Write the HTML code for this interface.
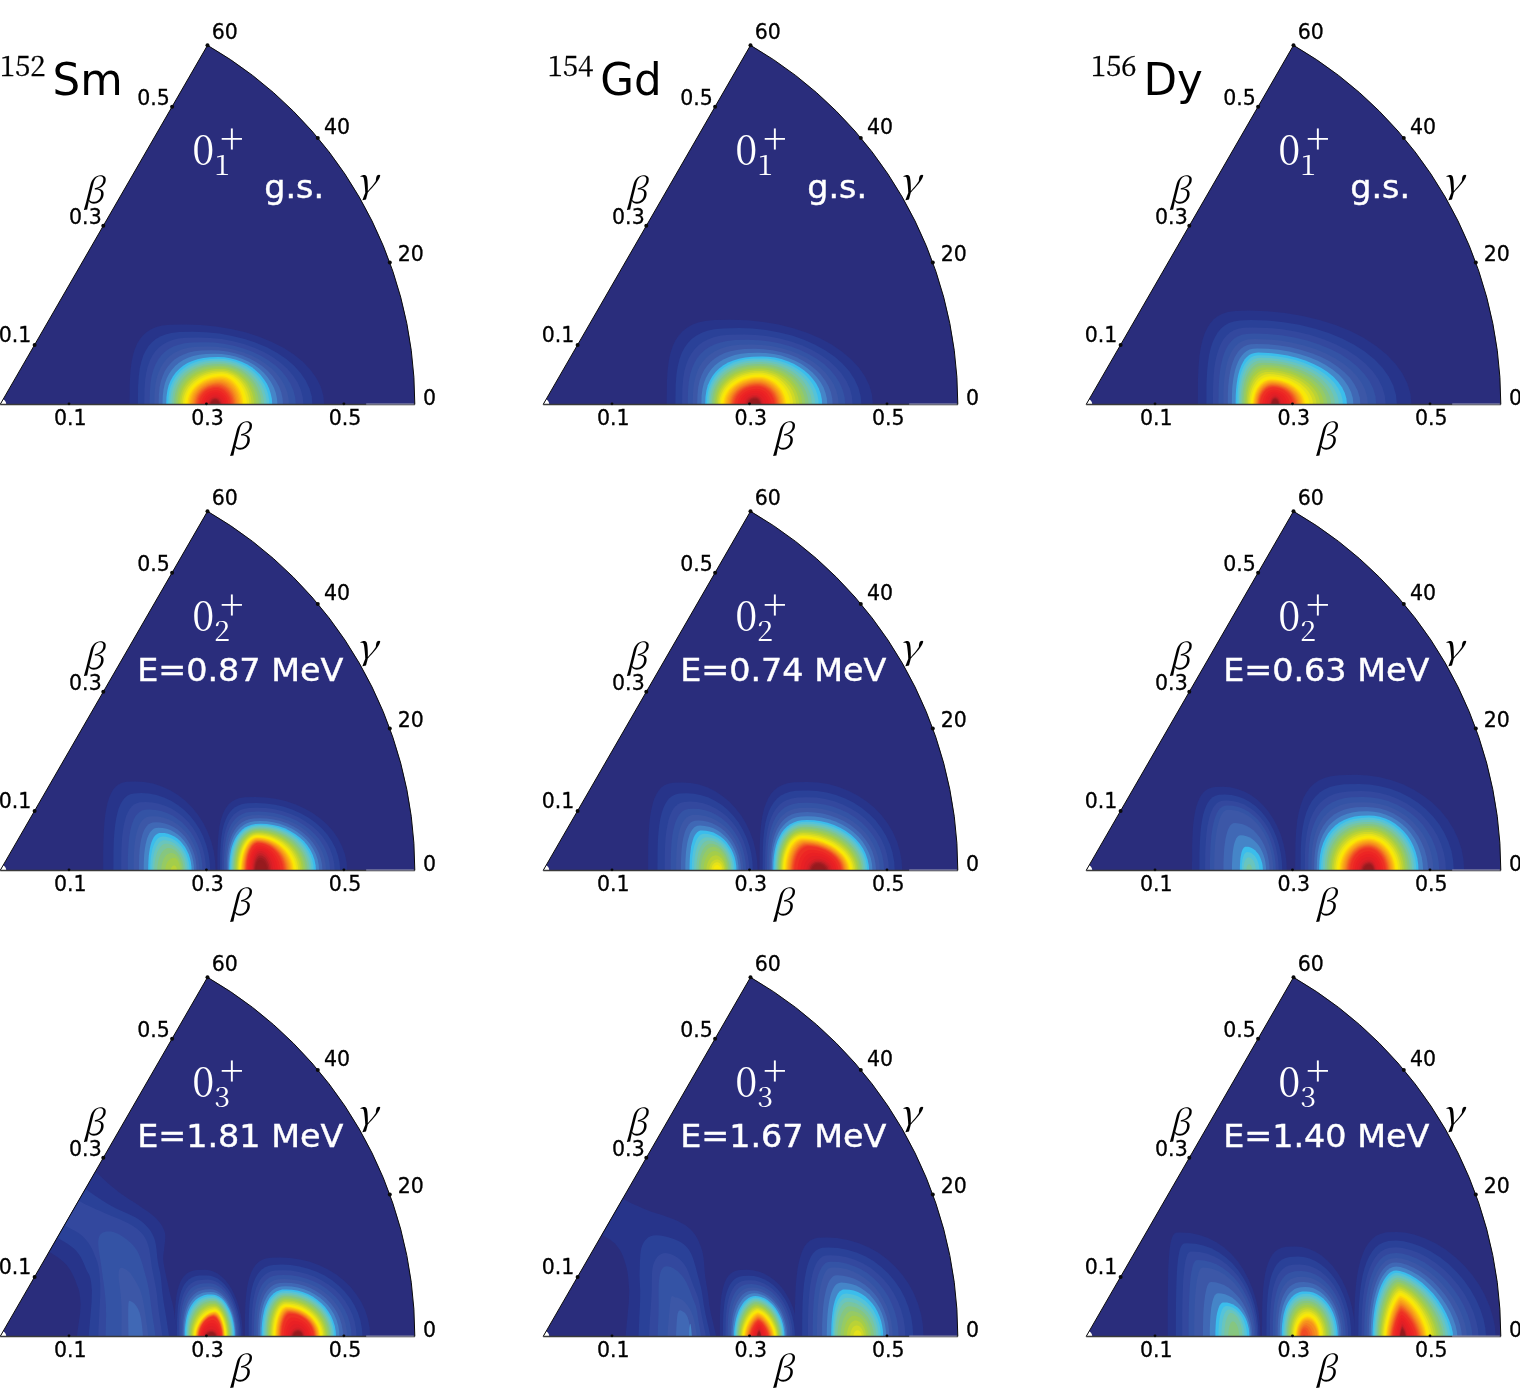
<!DOCTYPE html>
<html lang="en"><head><meta charset="utf-8"><title>Probability densities</title>
<style>
html,body{margin:0;padding:0;background:#fff}
svg{display:block}
.t{font-family:"DejaVu Sans","Liberation Sans",sans-serif;font-size:20.5px;fill:#000;stroke:#000;stroke-width:0.3px}
.n{font-family:"DejaVu Sans","Liberation Sans",sans-serif;font-size:43.6px;fill:#000}
.e{font-family:"DejaVu Sans","Liberation Sans",sans-serif;font-size:31.2px;stroke:#fff;stroke-width:0.4px}
.a{font-family:"Noto Serif CJK SC","Liberation Serif",serif;font-size:27.8px;fill:#000;stroke:#000;stroke-width:0.3px}
.m{font-family:"Noto Serif CJK SC","Liberation Serif",serif;font-style:italic;font-size:34.5px;fill:#000}
.s{font-family:"Noto Serif CJK SC","Liberation Serif",serif;font-size:40px}
.ss{font-family:"Noto Serif CJK SC","Liberation Serif",serif;font-size:28.6px}
.sp{font-family:"Noto Serif CJK SC","Liberation Serif",serif;font-size:40px}
.w{fill:#fff}
</style></head><body>
<svg width="1520" height="1388" viewBox="0 0 1520 1388">
<rect width="1520" height="1388" fill="#fff"/>
<g>
<clipPath id="c0"><path d="M0.2 404.4L414.8 404.4A414.6 414.6 0 0 0 207.5 45.3Z"/></clipPath>
<path d="M0.2 404.4L414.8 404.4A414.6 414.6 0 0 0 207.5 45.3Z" fill="#2a2d7c"/>
<g clip-path="url(#c0)">
<path d="M129.6 407.4L129.6 404.4L129.8 382.3L130.4 371.3L131.5 362.7L132.9 355.4L134.8 349.2L137.1 343.8L139.9 339.2L143.1 335.2L146.8 331.9L151.2 329.2L156.2 327.1L162.2 325.6L169.9 324.7L185.2 324.4L200.8 324.9L216.1 326.4L231.1 328.9L245.5 332.3L259.2 336.7L271.9 341.9L283.5 347.8L293.9 354.5L302.9 361.8L310.4 369.7L316.4 378L320.7 386.6L323.3 395.4L324.2 404.4L324.2 407.4Z" fill="#27348a"/>
<path d="M137.9 407.4L137.9 404.4L138.1 386.1L138.8 376.2L139.8 368.3L141.4 361.5L143.3 355.6L145.8 350.5L148.6 346L152 342.2L155.9 339L160.3 336.4L165.4 334.4L171.4 332.9L178.9 332.1L192.7 331.8L206.1 332.2L219.3 333.6L232.2 335.9L244.6 339L256.4 342.9L267.3 347.6L277.3 353.1L286.3 359.1L294.1 365.8L300.6 372.9L305.7 380.4L309.4 388.2L311.7 396.3L312.4 404.4L312.4 407.4Z" fill="#2a4198"/>
<path d="M144.3 407.4L144.3 404.4L144.5 388.9L145.2 379.8L146.3 372.4L147.9 366L149.9 360.4L152.5 355.5L155.4 351.3L158.9 347.6L162.9 344.5L167.4 341.9L172.5 340L178.5 338.6L185.8 337.7L198.4 337.5L210.2 337.9L221.8 339.1L233.1 341.2L244 344.1L254.3 347.7L263.9 352.1L272.6 357.1L280.5 362.7L287.3 368.8L293 375.4L297.5 382.3L300.7 389.5L302.7 396.9L303.4 404.4L303.4 407.4Z" fill="#33489e"/>
<path d="M149.6 407.4L149.6 404.4L149.9 391L150.6 382.7L151.7 375.8L153.4 369.8L155.5 364.5L158.1 359.8L161.2 355.6L164.7 352.1L168.8 349.1L173.4 346.6L178.6 344.7L184.5 343.3L191.7 342.5L203.2 342.2L213.6 342.6L223.8 343.8L233.8 345.7L243.4 348.4L252.5 351.8L260.9 355.8L268.7 360.4L275.6 365.6L281.6 371.3L286.6 377.4L290.6 383.9L293.4 390.6L295.2 397.4L295.8 404.4L295.8 407.4Z" fill="#3453a5"/>
<path d="M154.3 407.4L154.3 404.4L154.6 392.8L155.3 385.2L156.5 378.7L158.3 373L160.5 367.9L163.1 363.4L166.3 359.5L169.9 356L174.1 353.1L178.7 350.7L183.9 348.8L189.9 347.5L196.9 346.7L207.5 346.4L216.6 346.8L225.7 347.9L234.4 349.7L242.9 352.2L250.9 355.3L258.3 359.1L265.2 363.4L271.3 368.3L276.5 373.6L281 379.3L284.5 385.3L287 391.5L288.5 397.9L289 404.4L289 407.4Z" fill="#3c57a7"/>
<path d="M158.6 407.4L158.6 404.4L158.9 394.3L159.6 387.3L160.9 381.2L162.7 375.9L164.9 371L167.7 366.7L170.9 362.9L174.6 359.6L178.9 356.7L183.6 354.4L188.8 352.6L194.7 351.3L201.5 350.5L211.4 350.2L219.4 350.6L227.3 351.6L235 353.3L242.4 355.6L249.5 358.5L256 362.1L262 366.1L267.4 370.6L272 375.6L275.9 380.9L279 386.5L281.2 392.3L282.5 398.3L283 404.4L283 407.4Z" fill="#4068b5"/>
<path d="M162.5 407.4L162.5 404.4L162.8 395.6L163.6 389.2L164.9 383.5L166.7 378.4L169.1 373.8L171.9 369.7L175.2 366L179 362.8L183.3 360.1L188.1 357.8L193.3 356L199.2 354.8L205.8 354L214.9 353.7L221.9 354.1L228.8 355L235.5 356.6L242 358.8L248.2 361.5L253.9 364.8L259.1 368.6L263.8 372.8L267.8 377.4L271.2 382.4L273.9 387.7L275.8 393.1L277 398.7L277.4 404.4L277.4 407.4Z" fill="#4585c8"/>
<path d="M166.2 407.4L166.2 404.4L166.5 396.8L167.3 390.9L168.6 385.6L170.5 380.8L172.9 376.4L175.8 372.4L179.2 368.9L183.1 365.8L187.5 363.1L192.3 360.9L197.5 359.2L203.3 358L209.8 357.2L218.2 357L224.2 357.3L230.2 358.2L236 359.7L241.6 361.7L246.9 364.3L251.9 367.3L256.4 370.9L260.4 374.8L263.9 379.2L266.9 383.8L269.2 388.7L270.8 393.9L271.9 399.1L272.2 404.4L272.2 407.4Z" fill="#3bbdec"/>
<path d="M168.2 407.4L168.2 404.4L168.5 397.3L169.3 391.6L170.6 386.6L172.5 381.9L174.8 377.7L177.7 373.9L181 370.4L184.8 367.4L189.1 364.8L193.8 362.7L198.9 361L204.5 359.8L210.7 359.1L218.6 358.8L224.2 359.1L229.8 360L235.3 361.4L240.6 363.4L245.6 365.8L250.2 368.8L254.5 372.2L258.3 376L261.6 380.2L264.4 384.7L266.6 389.4L268.1 394.3L269.1 399.4L269.4 404.4L269.4 407.4Z" fill="#55c3d9"/>
<path d="M170.2 407.4L170.2 404.4L170.4 397.8L171.2 392.4L172.6 387.5L174.4 383.1L176.7 379L179.5 375.2L182.8 371.9L186.5 369L190.7 366.4L195.2 364.4L200.2 362.7L205.6 361.5L211.6 360.8L219 360.6L224.2 360.9L229.5 361.7L234.6 363.1L239.5 365L244.2 367.4L248.6 370.2L252.6 373.5L256.2 377.2L259.3 381.2L261.9 385.5L264 390.1L265.5 394.8L266.4 399.6L266.7 404.4L266.7 407.4Z" fill="#69c5be"/>
<path d="M172.1 407.4L172.1 404.4L172.4 398.2L173.1 393.1L174.4 388.5L176.2 384.2L178.5 380.2L181.3 376.6L184.5 373.3L188.1 370.5L192.2 368L196.6 366L201.5 364.4L206.7 363.2L212.4 362.5L219.4 362.3L224.2 362.6L229.1 363.4L233.9 364.7L238.5 366.5L242.9 368.9L247.1 371.6L250.8 374.8L254.2 378.3L257.1 382.2L259.6 386.4L261.5 390.7L262.9 395.2L263.8 399.8L264.1 404.4L264.1 407.4Z" fill="#79c5a0"/>
<path d="M174 407.4L174 404.4L174.2 398.7L175 393.8L176.3 389.4L178.1 385.2L180.3 381.4L183 377.9L186.2 374.7L189.7 372L193.7 369.6L198 367.6L202.7 366L207.8 364.9L213.3 364.2L219.8 364L224.2 364.3L228.8 365L233.2 366.3L237.6 368.1L241.7 370.3L245.5 373L249.1 376L252.2 379.5L255 383.2L257.3 387.2L259.1 391.4L260.4 395.7L261.2 400.1L261.5 404.4L261.5 407.4Z" fill="#86c680"/>
<path d="M175.8 407.4L175.8 404.4L176.1 399.1L176.8 394.5L178.1 390.2L179.8 386.2L182 382.5L184.7 379.2L187.8 376.1L191.3 373.4L195.1 371.1L199.3 369.2L203.9 367.6L208.8 366.6L214 365.9L220.1 365.7L224.2 365.9L228.5 366.7L232.6 367.9L236.6 369.6L240.5 371.7L244.1 374.3L247.3 377.2L250.3 380.5L252.9 384.1L255 387.9L256.7 392L258 396.1L258.7 400.3L259 404.4L259 407.4Z" fill="#95ca65"/>
<path d="M177.6 407.4L177.6 404.4L177.9 399.5L178.6 395.1L179.9 391L181.6 387.2L183.7 383.7L186.3 380.4L189.4 377.4L192.8 374.8L196.5 372.6L200.6 370.7L205 369.2L209.8 368.2L214.8 367.5L220.5 367.3L224.3 367.5L228.1 368.3L232 369.4L235.7 371.1L239.3 373.1L242.6 375.6L245.7 378.4L248.4 381.6L250.8 385L252.8 388.7L254.4 392.5L255.5 396.5L256.2 400.5L256.5 404.4L256.5 407.4Z" fill="#a4cd4a"/>
<path d="M179.4 407.4L179.4 404.4L179.7 399.8L180.4 395.7L181.6 391.8L183.3 388.2L185.4 384.7L187.9 381.6L190.9 378.7L194.2 376.2L197.9 374L201.9 372.2L206.2 370.8L210.7 369.7L215.5 369.1L220.8 368.9L224.3 369.1L227.9 369.8L231.4 371L234.8 372.5L238.1 374.5L241.2 376.9L244 379.6L246.6 382.6L248.8 385.9L250.6 389.4L252.1 393.1L253.2 396.9L253.8 400.7L254 404.4L254 407.4Z" fill="#b9d237"/>
<path d="M181.2 407.4L181.2 404.4L181.4 400.2L182.1 396.3L183.3 392.6L184.9 389.1L187 385.8L189.5 382.8L192.4 380L195.7 377.6L199.2 375.4L203.1 373.7L207.2 372.3L211.6 371.3L216.2 370.7L221.2 370.5L224.3 370.7L227.6 371.3L230.8 372.4L234 373.9L237 375.8L239.8 378.1L242.4 380.7L244.8 383.6L246.8 386.8L248.5 390.1L249.9 393.7L250.8 397.3L251.4 400.9L251.6 404.4L251.6 407.4Z" fill="#cfd927"/>
<path d="M182.9 407.4L182.9 404.4L183.1 400.5L183.8 396.8L185 393.3L186.6 390L188.6 386.8L191.1 383.9L193.9 381.2L197.1 378.9L200.5 376.8L204.3 375.1L208.3 373.8L212.5 372.8L216.9 372.2L221.5 372L224.4 372.2L227.3 372.8L230.3 373.9L233.1 375.3L235.9 377.2L238.5 379.3L240.9 381.8L243 384.6L244.9 387.6L246.4 390.8L247.7 394.2L248.6 397.6L249.1 401.1L249.3 404.4L249.3 407.4Z" fill="#e6e21a"/>
<path d="M184.5 407.4L184.5 404.4L184.8 400.8L185.5 397.4L186.6 394L188.2 390.8L190.2 387.8L192.6 385L195.3 382.4L198.4 380.2L201.8 378.2L205.5 376.5L209.3 375.2L213.4 374.3L217.5 373.7L221.9 373.5L224.4 373.7L227.1 374.3L229.7 375.3L232.3 376.7L234.8 378.5L237.2 380.5L239.3 382.9L241.3 385.6L243 388.5L244.4 391.5L245.5 394.7L246.3 398L246.8 401.3L247 404.4L247 407.4Z" fill="#f6e909"/>
<path d="M186.2 407.4L186.2 404.4L186.4 401.1L187.1 397.9L188.2 394.7L189.8 391.6L191.7 388.8L194.1 386.1L196.7 383.6L199.8 381.4L203 379.5L206.6 377.9L210.3 376.6L214.2 375.7L218.2 375.2L222.2 375L224.4 375.2L226.8 375.8L229.2 376.7L231.5 378.1L233.8 379.7L235.9 381.7L237.8 384L239.6 386.5L241.1 389.3L242.4 392.2L243.4 395.2L244.1 398.4L244.6 401.5L244.7 404.4L244.7 407.4Z" fill="#fee403"/>
<path d="M187.5 407.4L187.5 404.4L187.7 401.3L188.3 398.1L189.4 395.1L190.9 392.2L192.7 389.4L194.9 386.9L197.5 384.5L200.3 382.4L203.4 380.6L206.8 379.1L210.3 377.8L214 377L217.8 376.4L221.6 376.3L223.8 376.5L226.1 377L228.4 377.9L230.6 379.2L232.8 380.8L234.8 382.7L236.7 384.9L238.3 387.3L239.8 389.9L241 392.7L242 395.6L242.7 398.6L243.1 401.6L243.3 404.4L243.3 407.4Z" fill="#fcd20a"/>
<path d="M188.7 407.4L188.7 404.4L188.9 401.4L189.5 398.4L190.5 395.5L191.9 392.7L193.7 390.1L195.8 387.6L198.2 385.4L200.9 383.4L203.8 381.6L207 380.2L210.4 379L213.8 378.2L217.4 377.7L221 377.5L223.1 377.7L225.3 378.2L227.5 379.1L229.7 380.3L231.8 381.8L233.7 383.7L235.5 385.7L237.1 388.1L238.5 390.6L239.7 393.2L240.7 396L241.3 398.9L241.8 401.7L241.9 404.4L241.9 407.4Z" fill="#fcbf11"/>
<path d="M189.9 407.4L189.9 404.4L190.1 401.5L190.7 398.7L191.7 395.9L193 393.3L194.6 390.8L196.6 388.4L198.9 386.3L201.4 384.3L204.2 382.7L207.2 381.3L210.4 380.2L213.7 379.4L217.1 378.9L220.5 378.7L222.5 378.9L224.6 379.4L226.7 380.3L228.8 381.4L230.8 382.9L232.7 384.6L234.4 386.6L235.9 388.8L237.3 391.2L238.4 393.7L239.3 396.4L240 399.1L240.4 401.8L240.5 404.4L240.5 407.4Z" fill="#faaf16"/>
<path d="M191.2 407.4L191.2 404.4L191.3 401.7L191.9 399L192.8 396.3L194 393.8L195.6 391.4L197.4 389.2L199.6 387.1L202 385.3L204.6 383.7L207.4 382.4L210.4 381.3L213.5 380.6L216.7 380.1L219.9 380L221.8 380.1L223.9 380.6L225.9 381.4L227.9 382.5L229.8 383.9L231.6 385.5L233.3 387.4L234.8 389.5L236.1 391.8L237.2 394.3L238 396.8L238.7 399.4L239 402L239.2 404.4L239.2 407.4Z" fill="#f8a019"/>
<path d="M192.4 407.4L192.4 404.4L192.5 401.8L193 399.2L193.9 396.7L195 394.3L196.5 392L198.2 389.9L200.3 388L202.5 386.2L205 384.7L207.6 383.5L210.4 382.5L213.4 381.7L216.3 381.3L219.4 381.2L221.2 381.3L223.2 381.8L225.1 382.5L227 383.6L228.9 384.9L230.6 386.5L232.2 388.3L233.6 390.3L234.9 392.4L235.9 394.7L236.7 397.2L237.3 399.6L237.7 402.1L237.8 404.4L237.8 407.4Z" fill="#f6911d"/>
<path d="M193.5 407.4L193.5 404.4L193.7 401.9L194.2 399.5L195 397.1L196 394.8L197.4 392.7L199 390.6L200.9 388.8L203.1 387.1L205.4 385.7L207.8 384.5L210.5 383.6L213.2 382.9L216 382.5L218.8 382.3L220.6 382.5L222.5 382.9L224.3 383.6L226.2 384.6L227.9 385.9L229.6 387.4L231.1 389.1L232.5 391L233.7 393L234.7 395.2L235.5 397.5L236.1 399.9L236.4 402.2L236.5 404.4L236.5 407.4Z" fill="#f48020"/>
<path d="M194.7 407.4L194.7 404.4L194.8 402.1L195.3 399.7L196 397.5L197 395.3L198.3 393.3L199.8 391.4L201.6 389.6L203.6 388.1L205.7 386.7L208 385.6L210.5 384.7L213 384L215.6 383.6L218.3 383.5L220 383.6L221.8 384L223.6 384.7L225.3 385.7L227 386.9L228.6 388.3L230 389.9L231.4 391.7L232.5 393.6L233.5 395.7L234.2 397.9L234.8 400.1L235.1 402.3L235.2 404.4L235.2 407.4Z" fill="#f36d22"/>
<path d="M195.8 407.4L195.8 404.4L196 402.2L196.4 400L197.1 397.9L198 395.8L199.2 393.9L200.6 392.1L202.3 390.4L204.1 389L206.1 387.7L208.2 386.6L210.5 385.8L212.9 385.1L215.3 384.8L217.7 384.6L219.4 384.8L221.1 385.2L222.8 385.8L224.5 386.7L226.1 387.8L227.6 389.2L229 390.7L230.2 392.4L231.3 394.2L232.3 396.2L233 398.2L233.5 400.3L233.8 402.4L233.9 404.4L233.9 407.4Z" fill="#f15a24"/>
<path d="M197 407.4L197 404.4L197.1 402.3L197.5 400.3L198.1 398.2L199 396.3L200.1 394.5L201.4 392.8L202.9 391.2L204.6 389.8L206.5 388.6L208.4 387.6L210.5 386.8L212.7 386.2L215 385.9L217.2 385.8L218.8 385.9L220.4 386.3L222 386.9L223.6 387.7L225.2 388.8L226.6 390L228 391.5L229.2 393.1L230.2 394.8L231.1 396.7L231.8 398.6L232.3 400.6L232.6 402.5L232.7 404.4L232.7 407.4Z" fill="#f04b24"/>
<path d="M198.1 407.4L198.1 404.4L198.2 402.4L198.6 400.5L199.1 398.6L199.9 396.8L200.9 395.1L202.2 393.5L203.5 392L205.1 390.7L206.8 389.6L208.6 388.6L210.6 387.9L212.6 387.3L214.6 387L216.7 386.9L218.2 387L219.7 387.4L221.3 387.9L222.8 388.7L224.3 389.7L225.7 390.9L226.9 392.2L228.1 393.8L229.1 395.4L229.9 397.1L230.6 398.9L231 400.8L231.3 402.7L231.4 404.4L231.4 407.4Z" fill="#ef3c24"/>
<path d="M199.2 407.4L199.2 404.4L199.3 402.6L199.6 400.8L200.2 399L200.9 397.3L201.8 395.7L202.9 394.2L204.2 392.8L205.6 391.6L207.2 390.5L208.8 389.6L210.6 388.9L212.4 388.4L214.3 388.1L216.2 388L217.6 388.1L219.1 388.4L220.6 389L222 389.7L223.4 390.6L224.7 391.7L225.9 393L227 394.4L228 396L228.7 397.6L229.4 399.3L229.8 401L230.1 402.8L230.2 404.4L230.2 407.4Z" fill="#ee3024"/>
<path d="M201.4 407.4L201.4 404.4L201.4 402.8L201.7 401.2L202.2 399.7L202.8 398.2L203.6 396.8L204.5 395.5L205.6 394.3L206.9 393.3L208.2 392.3L209.6 391.6L211.1 391L212.7 390.5L214.3 390.2L216 390.2L217.2 390.3L218.5 390.5L219.8 391L221.1 391.6L222.3 392.4L223.5 393.4L224.5 394.5L225.5 395.7L226.3 397.1L227 398.5L227.6 400L228 401.5L228.2 403L228.3 404.4L228.3 407.4Z" fill="#ed2524"/>
<path d="M203.5 407.4L203.5 404.4L203.6 403L203.8 401.7L204.2 400.4L204.7 399.1L205.4 398L206.2 396.8L207.1 395.8L208.1 394.9L209.2 394.1L210.4 393.5L211.7 393L213 392.6L214.4 392.4L215.7 392.3L216.8 392.4L217.9 392.6L219 393L220.2 393.5L221.2 394.2L222.2 395.1L223.1 396L224 397L224.7 398.2L225.3 399.4L225.8 400.6L226.1 401.9L226.3 403.2L226.4 404.4L226.4 407.4Z" fill="#e92024"/>
<path d="M205.6 407.4L205.6 404.4L205.7 403.3L205.8 402.2L206.2 401.1L206.6 400.1L207.1 399.1L207.8 398.2L208.5 397.3L209.3 396.6L210.2 395.9L211.2 395.4L212.2 395L213.3 394.6L214.4 394.5L215.5 394.4L216.4 394.5L217.3 394.7L218.3 395L219.2 395.4L220.1 396L221 396.7L221.8 397.5L222.5 398.3L223.1 399.3L223.6 400.2L224 401.3L224.3 402.3L224.5 403.4L224.5 404.4L224.5 407.4Z" fill="#e21f26"/>
<path d="M207.7 407.4L207.7 404.4L207.7 403.5L207.9 402.6L208.1 401.8L208.4 401L208.8 400.2L209.3 399.5L209.9 398.8L210.5 398.2L211.2 397.7L212 397.3L212.8 396.9L213.6 396.7L214.4 396.5L215.3 396.5L216 396.5L216.8 396.7L217.6 396.9L218.3 397.3L219.1 397.8L219.8 398.3L220.4 398.9L221 399.6L221.5 400.3L221.9 401.1L222.2 401.9L222.5 402.8L222.6 403.6L222.7 404.4L222.7 407.4Z" fill="#d61f26"/>
<path d="M208.8 407.4L208.8 404.4L208.9 403.6L209 402.9L209.2 402.2L209.5 401.5L209.8 400.8L210.2 400.2L210.7 399.6L211.2 399.1L211.8 398.7L212.4 398.3L213.1 398.1L213.8 397.8L214.5 397.7L215.2 397.7L215.8 397.7L216.5 397.9L217.2 398.1L217.8 398.4L218.5 398.8L219.1 399.2L219.6 399.7L220.1 400.3L220.5 400.9L220.9 401.6L221.2 402.3L221.4 403L221.5 403.7L221.6 404.4L221.6 407.4Z" fill="#c52026"/>
<path d="M209.7 407.4L209.7 404.4L209.7 403.7L209.8 403.1L210 402.5L210.2 401.9L210.5 401.3L210.9 400.8L211.3 400.3L211.8 399.8L212.3 399.5L212.8 399.1L213.4 398.9L214 398.7L214.6 398.6L215.2 398.6L215.8 398.6L216.3 398.7L216.9 398.9L217.5 399.2L218 399.5L218.6 399.9L219 400.4L219.5 400.9L219.8 401.4L220.1 402L220.4 402.6L220.6 403.2L220.7 403.8L220.7 404.4L220.7 407.4Z" fill="#ae1e24"/>
<path d="M210.5 407.4L210.5 404.4L210.6 403.8L210.6 403.3L210.8 402.8L211 402.3L211.2 401.8L211.5 401.3L211.9 400.9L212.3 400.5L212.7 400.2L213.2 399.9L213.7 399.7L214.2 399.6L214.7 399.5L215.2 399.5L215.7 399.5L216.2 399.6L216.7 399.7L217.1 400L217.6 400.2L218 400.6L218.4 401L218.8 401.4L219.1 401.9L219.4 402.3L219.6 402.9L219.8 403.4L219.8 403.9L219.9 404.4L219.9 407.4Z" fill="#9d1c20"/>
<path d="M211.3 407.4L211.3 404.4L211.4 403.9L211.4 403.5L211.6 403.1L211.7 402.6L211.9 402.2L212.2 401.9L212.5 401.5L212.8 401.2L213.2 401L213.5 400.7L213.9 400.6L214.3 400.4L214.8 400.4L215.2 400.3L215.6 400.4L216 400.4L216.4 400.6L216.8 400.8L217.2 401L217.5 401.3L217.9 401.6L218.2 401.9L218.4 402.3L218.6 402.7L218.8 403.1L218.9 403.6L219 404L219 404.4L219 407.4Z" fill="#961a1e"/>
<path d="M0.2 404.4L6.2 404.4A6 6 0 0 0 3.2 399.2Z" fill="#fff"/>
</g>
<path d="M0.2 404.4L207.5 45.3A414.6 414.6 0 0 1 414.8 404.4" fill="none" stroke="#0a0a0a" stroke-width="1" stroke-linejoin="miter"/>
<path d="M0.2 404.4L414.8 404.4" stroke="#3a3a3a" stroke-width="1.5"/>
<path d="M366.2 404L413.8 404" stroke="#a9a9cc" stroke-width="0.9"/>
<circle cx="69" cy="403.8" r="1.4" fill="#0a0a0a"/>
<circle cx="34.6" cy="344.9" r="2" fill="#0a0a0a"/>
<circle cx="206.4" cy="403.8" r="1.4" fill="#0a0a0a"/>
<circle cx="103.3" cy="225.8" r="2" fill="#0a0a0a"/>
<circle cx="343.9" cy="403.8" r="1.4" fill="#0a0a0a"/>
<circle cx="172.1" cy="106.7" r="2" fill="#0a0a0a"/>
<circle cx="389.8" cy="262.6" r="2" fill="#0a0a0a"/>
<circle cx="317.8" cy="137.9" r="2" fill="#0a0a0a"/>
<circle cx="207.5" cy="45.3" r="2" fill="#0a0a0a"/>
<text x="70.2" y="424.5" class="t" text-anchor="middle">0.1</text>
<text x="31.4" y="342.3" class="t" text-anchor="end">0.1</text>
<text x="207.6" y="424.5" class="t" text-anchor="middle">0.3</text>
<text x="101.7" y="223.8" class="t" text-anchor="end">0.3</text>
<text x="345.1" y="424.5" class="t" text-anchor="middle">0.5</text>
<text x="169.9" y="105.1" class="t" text-anchor="end">0.5</text>
<text x="422.9" y="405.2" class="t">0</text>
<text x="397.8" y="260.6" class="t">20</text>
<text x="323.9" y="133.5" class="t">40</text>
<text x="211.7" y="39" class="t">60</text>
<text x="228.4" y="448.9" class="m">β</text>
<text x="82.2" y="203.2" class="m">β</text>
<text transform="translate(355.4 192.6) scale(1.17 1)" class="m">γ</text>
<text x="192.2" y="164.4" class="s w">0</text>
<text x="214.2" y="175.2" class="ss w">1</text>
<text x="220.2" y="152.8" class="sp w">+</text>
<text transform="translate(264.2 198.2) scale(1.07 1)" class="e w">g.s.</text>
<text x="-0.3" y="75.7" class="a">152</text>
<text x="52.5" y="94.8" class="n">Sm</text>
</g>
<g>
<clipPath id="c1"><path d="M543.2 404.4L957.8 404.4A414.6 414.6 0 0 0 750.5 45.3Z"/></clipPath>
<path d="M543.2 404.4L957.8 404.4A414.6 414.6 0 0 0 750.5 45.3Z" fill="#2a2d7c"/>
<g clip-path="url(#c1)">
<path d="M666.7 407.4L666.7 404.4L666.9 381.1L667.7 369.4L668.9 360.3L670.6 352.6L672.8 346L675.5 340.3L678.8 335.4L682.6 331.2L687 327.7L692.1 324.8L698.1 322.6L705.1 321.1L714.1 320.1L732.2 319.8L748 320.3L763.5 321.9L778.7 324.5L793.2 328.2L807.1 332.8L819.9 338.3L831.7 344.6L842.2 351.7L851.3 359.4L859 367.7L865 376.5L869.4 385.6L872 394.9L872.9 404.4L872.9 407.4Z" fill="#27348a"/>
<path d="M675.4 407.4L675.4 404.4L675.7 385.2L676.4 374.8L677.7 366.4L679.5 359.3L681.7 353.1L684.5 347.7L687.9 343.1L691.7 339.1L696.2 335.7L701.3 332.9L707.3 330.8L714.2 329.3L722.8 328.4L738.8 328.1L752.5 328.6L766.1 330L779.3 332.4L792 335.6L804 339.8L815.2 344.7L825.5 350.4L834.7 356.8L842.6 363.8L849.3 371.3L854.5 379.2L858.3 387.4L860.6 395.9L861.4 404.4L861.4 407.4Z" fill="#2a4198"/>
<path d="M682.1 407.4L682.1 404.4L682.4 388.2L683.2 378.7L684.4 371L686.3 364.3L688.6 358.5L691.5 353.4L694.8 348.9L698.8 345L703.3 341.8L708.5 339.2L714.3 337.1L721.2 335.6L729.5 334.7L743.8 334.5L756 334.9L768 336.2L779.7 338.4L791 341.4L801.7 345.2L811.6 349.7L820.7 354.9L828.9 360.8L835.9 367.2L841.8 374.1L846.5 381.3L849.9 388.8L851.9 396.6L852.6 404.4L852.6 407.4Z" fill="#33489e"/>
<path d="M687.8 407.4L687.8 404.4L688 390.5L688.8 381.9L690.1 374.7L692 368.4L694.4 362.9L697.3 358L700.8 353.7L704.8 350.1L709.3 346.9L714.5 344.4L720.3 342.4L727 341L735.1 340.1L748.1 339.8L758.9 340.2L769.7 341.4L780.1 343.4L790.2 346.2L799.7 349.7L808.6 353.9L816.7 358.7L824 364.1L830.3 370L835.6 376.4L839.7 383.1L842.7 390L844.6 397.2L845.2 404.4L845.2 407.4Z" fill="#3453a5"/>
<path d="M692.7 407.4L692.7 404.4L693 392.4L693.8 384.5L695.2 377.9L697.1 372L699.5 366.7L702.5 362.1L706 358L710 354.4L714.6 351.4L719.8 349L725.6 347L732.2 345.6L740 344.8L751.8 344.5L761.5 344.9L771.1 346L780.5 347.9L789.5 350.5L798 353.7L805.9 357.6L813.2 362.1L819.7 367.1L825.3 372.6L830 378.4L833.8 384.6L836.4 391.1L838.1 397.7L838.6 404.4L838.6 407.4Z" fill="#3c57a7"/>
<path d="M697.2 407.4L697.2 404.4L697.5 394L698.3 386.8L699.7 380.6L701.7 375.1L704.2 370.1L707.2 365.7L710.8 361.8L714.8 358.4L719.5 355.5L724.6 353.1L730.4 351.2L736.9 349.9L744.4 349.1L755.2 348.8L763.9 349.2L772.4 350.2L780.8 351.9L788.8 354.3L796.4 357.3L803.5 360.9L810 365.1L815.8 369.7L820.8 374.8L825 380.3L828.4 386L830.8 392L832.2 398.2L832.7 404.4L832.7 407.4Z" fill="#4068b5"/>
<path d="M701.4 407.4L701.4 404.4L701.6 395.4L702.5 388.9L703.9 383.1L705.9 377.9L708.5 373.2L711.5 369L715.1 365.3L719.3 362L723.9 359.2L729.1 356.9L734.8 355.1L741.2 353.8L748.4 353L758.3 352.7L766 353.1L773.6 354L781.1 355.6L788.2 357.9L795 360.7L801.3 364L807.1 367.9L812.2 372.2L816.7 376.9L820.4 382L823.4 387.3L825.5 392.9L826.8 398.6L827.3 404.4L827.3 407.4Z" fill="#4585c8"/>
<path d="M705.2 407.4L705.2 404.4L705.5 396.7L706.4 390.7L707.8 385.3L709.9 380.5L712.5 376L715.6 372L719.2 368.4L723.4 365.3L728.1 362.6L733.3 360.4L739 358.7L745.2 357.4L752.2 356.7L761.2 356.4L768 356.7L774.8 357.6L781.3 359.1L787.7 361.2L793.7 363.8L799.2 366.9L804.3 370.5L808.9 374.5L812.9 378.9L816.2 383.6L818.8 388.5L820.7 393.7L821.8 399L822.2 404.4L822.2 407.4Z" fill="#3bbdec"/>
<path d="M706.9 407.4L706.9 404.4L707.2 397.2L708.1 391.5L709.5 386.4L711.5 381.7L714 377.4L717.1 373.5L720.7 370.1L724.8 367L729.3 364.4L734.3 362.3L739.8 360.6L745.9 359.3L752.5 358.6L761 358.4L767.4 358.6L773.7 359.5L779.9 361L785.9 362.9L791.6 365.4L796.9 368.4L801.7 371.9L806 375.8L809.8 380L812.9 384.5L815.4 389.3L817.2 394.2L818.3 399.3L818.7 404.4L818.7 407.4Z" fill="#55c3d9"/>
<path d="M708.6 407.4L708.6 404.4L708.9 397.7L709.7 392.3L711.1 387.4L713.1 382.9L715.6 378.8L718.6 375L722.1 371.7L726.1 368.7L730.5 366.2L735.4 364.1L740.7 362.4L746.5 361.2L752.9 360.5L760.8 360.3L766.8 360.5L772.7 361.4L778.6 362.8L784.2 364.7L789.6 367.1L794.6 370L799.2 373.3L803.2 377L806.8 381.1L809.8 385.4L812.1 390L813.8 394.7L814.9 399.6L815.2 404.4L815.2 407.4Z" fill="#69c5be"/>
<path d="M710.2 407.4L710.2 404.4L710.5 398.2L711.3 393.1L712.7 388.4L714.6 384.1L717.1 380.1L720 376.5L723.4 373.2L727.3 370.3L731.6 367.9L736.4 365.8L741.5 364.2L747.1 363.1L753.2 362.4L760.6 362.1L766.2 362.4L771.8 363.2L777.3 364.5L782.6 366.4L787.6 368.7L792.3 371.5L796.7 374.7L800.5 378.2L803.9 382.1L806.7 386.3L808.9 390.7L810.6 395.2L811.5 399.8L811.9 404.4L811.9 407.4Z" fill="#79c5a0"/>
<path d="M711.8 407.4L711.8 404.4L712.1 398.7L712.9 393.8L714.3 389.3L716.1 385.2L718.5 381.4L721.4 377.9L724.7 374.7L728.5 371.9L732.7 369.5L737.3 367.5L742.3 366L747.7 364.9L753.5 364.2L760.4 364L765.6 364.2L770.8 365L776 366.3L781 368L785.7 370.3L790.2 372.9L794.2 376L797.9 379.4L801.1 383.2L803.7 387.1L805.8 391.3L807.3 395.7L808.3 400.1L808.6 404.4L808.6 407.4Z" fill="#86c680"/>
<path d="M713.4 407.4L713.4 404.4L713.7 399.1L714.5 394.5L715.8 390.2L717.6 386.3L719.9 382.6L722.8 379.2L726 376.2L729.7 373.5L733.8 371.2L738.3 369.2L743.1 367.7L748.2 366.6L753.8 366L760.2 365.7L765 366L769.9 366.7L774.7 368L779.4 369.7L783.9 371.8L788 374.4L791.9 377.3L795.3 380.6L798.3 384.2L800.8 388L802.7 392L804.2 396.1L805 400.3L805.3 404.4L805.3 407.4Z" fill="#95ca65"/>
<path d="M714.9 407.4L714.9 404.4L715.2 399.5L716 395.2L717.3 391.1L719.1 387.3L721.3 383.8L724.1 380.5L727.3 377.6L730.9 375L734.8 372.7L739.1 370.9L743.8 369.4L748.8 368.4L754.1 367.7L760.1 367.5L764.5 367.7L769 368.5L773.5 369.6L777.9 371.3L782.1 373.3L786 375.8L789.5 378.6L792.7 381.7L795.5 385.1L797.9 388.8L799.7 392.6L801.1 396.5L801.9 400.5L802.2 404.4L802.2 407.4Z" fill="#a4cd4a"/>
<path d="M716.4 407.4L716.4 404.4L716.7 399.9L717.5 395.8L718.7 391.9L720.5 388.3L722.7 384.9L725.4 381.8L728.5 379L732 376.5L735.8 374.3L740 372.5L744.5 371.1L749.2 370L754.3 369.4L759.9 369.2L764 369.4L768.2 370.1L772.3 371.3L776.4 372.8L780.3 374.8L783.9 377.1L787.3 379.8L790.3 382.8L792.9 386.1L795.1 389.6L796.8 393.2L798.1 397L798.8 400.7L799.1 404.4L799.1 407.4Z" fill="#b9d237"/>
<path d="M717.9 407.4L717.9 404.4L718.2 400.2L718.9 396.4L720.1 392.7L721.9 389.3L724 386L726.6 383L729.7 380.3L733.1 377.9L736.8 375.8L740.8 374.1L745.1 372.7L749.7 371.7L754.5 371.1L759.7 370.9L763.4 371.1L767.3 371.8L771.2 372.9L775 374.3L778.6 376.2L781.9 378.5L785 381L787.8 383.9L790.3 387L792.3 390.3L793.9 393.8L795.1 397.4L795.8 401L796 404.4L796 407.4Z" fill="#cfd927"/>
<path d="M719.4 407.4L719.4 404.4L719.6 400.6L720.3 397L721.6 393.5L723.2 390.2L725.3 387.1L727.9 384.2L730.8 381.6L734.1 379.3L737.7 377.3L741.6 375.6L745.8 374.3L750.2 373.3L754.7 372.8L759.5 372.6L762.9 372.8L766.5 373.4L770.1 374.4L773.6 375.8L776.9 377.6L780 379.8L782.9 382.2L785.4 385L787.7 387.9L789.6 391.1L791.1 394.4L792.2 397.8L792.8 401.2L793 404.4L793 407.4Z" fill="#e6e21a"/>
<path d="M720.8 407.4L720.8 404.4L721 400.9L721.7 397.5L722.9 394.2L724.6 391.1L726.6 388.2L729.1 385.4L731.9 382.9L735.1 380.7L738.6 378.8L742.4 377.1L746.4 375.9L750.6 374.9L754.9 374.4L759.4 374.2L762.5 374.4L765.7 375L769 376L772.2 377.3L775.2 379L778.1 381.1L780.7 383.4L783.1 386L785.2 388.8L786.9 391.8L788.3 394.9L789.3 398.1L789.9 401.4L790.1 404.4L790.1 407.4Z" fill="#f6e909"/>
<path d="M722.2 407.4L722.2 404.4L722.4 401.2L723.1 398L724.3 395L725.9 392L727.9 389.2L730.3 386.6L733 384.2L736.1 382L739.5 380.2L743.1 378.6L747 377.4L751 376.5L755.1 376L759.2 375.8L762 376L765 376.6L767.9 377.5L770.8 378.8L773.6 380.4L776.2 382.3L778.6 384.5L780.8 387L782.7 389.7L784.3 392.5L785.5 395.5L786.5 398.5L787 401.5L787.2 404.4L787.2 407.4Z" fill="#fee403"/>
<path d="M723.5 407.4L723.5 404.4L723.7 401.3L724.4 398.3L725.5 395.3L727 392.5L728.9 389.7L731.2 387.2L733.9 384.9L736.8 382.9L740.1 381.1L743.6 379.6L747.3 378.4L751.1 377.6L755 377L759 376.9L761.7 377L764.5 377.6L767.4 378.5L770.2 379.7L772.9 381.3L775.4 383.1L777.7 385.3L779.8 387.7L781.6 390.2L783.1 393L784.3 395.8L785.2 398.7L785.8 401.7L785.9 404.4L785.9 407.4Z" fill="#fcd20a"/>
<path d="M724.7 407.4L724.7 404.4L724.9 401.4L725.6 398.5L726.6 395.7L728.1 392.9L729.9 390.3L732.2 387.9L734.7 385.7L737.6 383.7L740.7 382L744 380.5L747.6 379.4L751.2 378.6L755 378.1L758.8 377.9L761.4 378.1L764.1 378.6L766.9 379.5L769.6 380.7L772.1 382.2L774.5 384L776.8 386L778.8 388.3L780.5 390.8L782 393.4L783.2 396.1L784 399L784.5 401.8L784.7 404.4L784.7 407.4Z" fill="#fcbf11"/>
<path d="M725.9 407.4L725.9 404.4L726.2 401.5L726.8 398.7L727.8 396L729.2 393.4L731 390.9L733.1 388.5L735.5 386.4L738.3 384.5L741.2 382.8L744.4 381.5L747.8 380.4L751.4 379.6L755 379.1L758.6 378.9L761.1 379.1L763.7 379.6L766.4 380.4L768.9 381.6L771.4 383L773.7 384.8L775.9 386.7L777.8 388.9L779.5 391.3L780.9 393.8L782 396.5L782.8 399.2L783.3 401.9L783.5 404.4L783.5 407.4Z" fill="#faaf16"/>
<path d="M727.2 407.4L727.2 404.4L727.4 401.7L727.9 399L728.9 396.3L730.3 393.8L732 391.4L734 389.2L736.3 387.1L738.9 385.3L741.8 383.7L744.9 382.4L748.1 381.3L751.5 380.6L754.9 380.1L758.4 380L760.8 380.1L763.3 380.6L765.9 381.4L768.3 382.5L770.7 383.9L772.9 385.5L775 387.4L776.8 389.5L778.4 391.8L779.8 394.3L780.8 396.8L781.6 399.4L782.1 402L782.2 404.4L782.2 407.4Z" fill="#f8a019"/>
<path d="M728.4 407.4L728.4 404.4L728.5 401.8L729.1 399.2L730 396.7L731.3 394.2L732.9 391.9L734.9 389.8L737.1 387.8L739.6 386.1L742.3 384.6L745.3 383.3L748.4 382.3L751.6 381.5L754.9 381.1L758.3 381L760.5 381.1L762.9 381.6L765.4 382.3L767.7 383.4L770 384.7L772.1 386.3L774.1 388.1L775.8 390.1L777.4 392.3L778.7 394.7L779.7 397.1L780.4 399.6L780.9 402.1L781 404.4L781 407.4Z" fill="#f6911d"/>
<path d="M729.5 407.4L729.5 404.4L729.7 401.9L730.2 399.4L731.1 397L732.4 394.7L733.9 392.5L735.8 390.4L737.9 388.5L740.3 386.8L742.9 385.4L745.7 384.2L748.6 383.2L751.7 382.5L754.9 382.1L758.1 381.9L760.2 382.1L762.6 382.5L764.9 383.3L767.1 384.3L769.3 385.6L771.3 387.1L773.2 388.8L774.9 390.7L776.4 392.8L777.6 395.1L778.6 397.4L779.3 399.8L779.7 402.2L779.9 404.4L779.9 407.4Z" fill="#f48020"/>
<path d="M730.7 407.4L730.7 404.4L730.9 402L731.4 399.6L732.2 397.3L733.4 395.1L734.9 393L736.6 391L738.7 389.2L740.9 387.6L743.4 386.2L746.1 385.1L748.9 384.1L751.8 383.5L754.8 383.1L757.9 382.9L760 383.1L762.2 383.5L764.4 384.2L766.5 385.2L768.6 386.4L770.5 387.8L772.3 389.5L774 391.3L775.4 393.3L776.5 395.5L777.5 397.7L778.2 400L778.6 402.3L778.7 404.4L778.7 407.4Z" fill="#f36d22"/>
<path d="M731.8 407.4L731.8 404.4L732 402.1L732.5 399.8L733.3 397.6L734.4 395.5L735.8 393.5L737.5 391.6L739.4 389.9L741.6 388.4L744 387L746.5 385.9L749.2 385L752 384.4L754.8 384L757.7 383.9L759.7 384L761.8 384.4L763.9 385.1L766 386L767.9 387.2L769.8 388.6L771.5 390.2L773 391.9L774.4 393.8L775.5 395.9L776.4 398L777 400.2L777.4 402.4L777.6 404.4L777.6 407.4Z" fill="#f15a24"/>
<path d="M733 407.4L733 404.4L733.1 402.2L733.6 400L734.4 397.9L735.4 395.9L736.7 394L738.3 392.2L740.2 390.6L742.2 389.1L744.5 387.8L746.9 386.8L749.4 385.9L752.1 385.3L754.8 385L757.5 384.8L759.4 385L761.4 385.4L763.4 386L765.4 386.9L767.3 388L769 389.3L770.7 390.8L772.1 392.5L773.4 394.3L774.5 396.3L775.3 398.3L775.9 400.4L776.3 402.4L776.4 404.4L776.4 407.4Z" fill="#f04b24"/>
<path d="M734.1 407.4L734.1 404.4L734.2 402.3L734.7 400.3L735.4 398.2L736.4 396.3L737.7 394.5L739.2 392.8L740.9 391.2L742.9 389.8L745 388.6L747.3 387.6L749.7 386.8L752.2 386.2L754.8 385.9L757.4 385.8L759.2 385.9L761.1 386.3L763 386.9L764.8 387.7L766.6 388.8L768.3 390L769.8 391.5L771.2 393.1L772.4 394.8L773.4 396.7L774.2 398.6L774.8 400.6L775.2 402.5L775.3 404.4L775.3 407.4Z" fill="#ef3c24"/>
<path d="M735.2 407.4L735.2 404.4L735.3 402.4L735.8 400.5L736.4 398.6L737.4 396.7L738.6 395L740 393.4L741.6 391.9L743.5 390.6L745.5 389.4L747.7 388.5L749.9 387.7L752.3 387.1L754.7 386.8L757.2 386.7L758.9 386.8L760.7 387.2L762.5 387.7L764.3 388.5L765.9 389.5L767.5 390.7L769 392.1L770.3 393.6L771.5 395.3L772.4 397.1L773.2 398.9L773.8 400.8L774.1 402.6L774.2 404.4L774.2 407.4Z" fill="#ee3024"/>
<path d="M737.5 407.4L737.5 404.4L737.6 402.7L738 400.9L738.6 399.2L739.4 397.6L740.5 396.1L741.7 394.7L743.1 393.4L744.8 392.2L746.5 391.2L748.4 390.3L750.4 389.7L752.4 389.2L754.6 388.9L756.7 388.8L758.2 388.9L759.8 389.2L761.3 389.7L762.9 390.4L764.3 391.3L765.7 392.3L767 393.6L768.1 394.9L769.1 396.4L770 397.9L770.6 399.5L771.1 401.2L771.4 402.8L771.5 404.4L771.5 407.4Z" fill="#ed2524"/>
<path d="M739.8 407.4L739.8 404.4L739.9 402.9L740.2 401.4L740.7 399.9L741.4 398.5L742.3 397.2L743.4 395.9L744.6 394.8L746 393.8L747.5 392.9L749.1 392.2L750.8 391.6L752.6 391.2L754.4 390.9L756.2 390.8L757.5 390.9L758.8 391.2L760.2 391.6L761.5 392.3L762.7 393L763.9 393.9L765 395L765.9 396.2L766.8 397.4L767.5 398.8L768.1 400.2L768.5 401.6L768.7 403L768.8 404.4L768.8 407.4Z" fill="#e92024"/>
<path d="M742.1 407.4L742.1 404.4L742.2 403.1L742.4 401.8L742.9 400.6L743.5 399.4L744.2 398.3L745.1 397.2L746.1 396.3L747.2 395.4L748.5 394.6L749.8 394L751.3 393.5L752.7 393.2L754.2 393L755.8 392.9L756.8 393L757.9 393.2L759 393.6L760.1 394.1L761.1 394.7L762.1 395.5L763 396.4L763.8 397.4L764.5 398.5L765.1 399.6L765.6 400.8L765.9 402L766.1 403.3L766.2 404.4L766.2 407.4Z" fill="#e21f26"/>
<path d="M744.3 407.4L744.3 404.4L744.4 403.3L744.6 402.3L745 401.3L745.4 400.3L746 399.3L746.7 398.5L747.6 397.7L748.5 397L749.5 396.4L750.6 395.8L751.7 395.4L752.9 395.1L754.1 395L755.3 394.9L756.1 395L757 395.2L757.9 395.5L758.7 395.9L759.6 396.4L760.3 397.1L761 397.8L761.7 398.6L762.2 399.5L762.7 400.5L763.1 401.4L763.3 402.4L763.5 403.5L763.5 404.4L763.5 407.4Z" fill="#d61f26"/>
<path d="M745.8 407.4L745.8 404.4L745.9 403.5L746.1 402.6L746.4 401.7L746.8 400.9L747.3 400L747.9 399.3L748.6 398.6L749.4 398L750.2 397.5L751.1 397L752.1 396.7L753.1 396.4L754.2 396.3L755.2 396.2L755.9 396.3L756.6 396.4L757.4 396.7L758.1 397.1L758.8 397.5L759.5 398.1L760.1 398.7L760.6 399.4L761.1 400.2L761.5 401L761.8 401.9L762 402.7L762.1 403.6L762.2 404.4L762.2 407.4Z" fill="#c52026"/>
<path d="M747.1 407.4L747.1 404.4L747.1 403.6L747.3 402.8L747.5 402.1L747.9 401.3L748.3 400.6L748.9 400L749.5 399.4L750.1 398.9L750.9 398.4L751.7 398L752.5 397.7L753.4 397.5L754.3 397.4L755.2 397.3L755.8 397.4L756.4 397.5L757.1 397.7L757.7 398L758.3 398.4L758.9 398.9L759.4 399.5L759.9 400.1L760.3 400.8L760.6 401.5L760.9 402.2L761.1 402.9L761.2 403.7L761.3 404.4L761.3 407.4Z" fill="#ae1e24"/>
<path d="M748.3 407.4L748.3 404.4L748.4 403.7L748.5 403.1L748.7 402.4L749 401.8L749.4 401.2L749.8 400.6L750.3 400.1L750.9 399.7L751.5 399.3L752.2 399L752.9 398.7L753.7 398.5L754.4 398.4L755.2 398.4L755.7 398.4L756.3 398.5L756.8 398.7L757.3 399L757.8 399.4L758.3 399.8L758.8 400.2L759.2 400.7L759.5 401.3L759.8 401.9L760 402.5L760.2 403.2L760.3 403.8L760.3 404.4L760.3 407.4Z" fill="#9d1c20"/>
<path d="M749.5 407.4L749.5 404.4L749.6 403.8L749.7 403.3L749.9 402.8L750.1 402.3L750.4 401.8L750.8 401.3L751.2 400.9L751.7 400.5L752.2 400.2L752.7 399.9L753.3 399.7L753.9 399.6L754.6 399.5L755.2 399.4L755.6 399.5L756.1 399.6L756.5 399.7L757 400L757.4 400.2L757.8 400.6L758.1 401L758.5 401.4L758.8 401.9L759 402.3L759.2 402.9L759.3 403.4L759.4 403.9L759.4 404.4L759.4 407.4Z" fill="#961a1e"/>
<path d="M543.2 404.4L549.2 404.4A6 6 0 0 0 546.2 399.2Z" fill="#fff"/>
</g>
<path d="M543.2 404.4L750.5 45.3A414.6 414.6 0 0 1 957.8 404.4" fill="none" stroke="#0a0a0a" stroke-width="1" stroke-linejoin="miter"/>
<path d="M543.2 404.4L957.8 404.4" stroke="#3a3a3a" stroke-width="1.5"/>
<path d="M909.2 404L956.8 404" stroke="#a9a9cc" stroke-width="0.9"/>
<circle cx="612" cy="403.8" r="1.4" fill="#0a0a0a"/>
<circle cx="577.6" cy="344.9" r="2" fill="#0a0a0a"/>
<circle cx="749.5" cy="403.8" r="1.4" fill="#0a0a0a"/>
<circle cx="646.3" cy="225.8" r="2" fill="#0a0a0a"/>
<circle cx="887" cy="403.8" r="1.4" fill="#0a0a0a"/>
<circle cx="715.1" cy="106.7" r="2" fill="#0a0a0a"/>
<circle cx="932.8" cy="262.6" r="2" fill="#0a0a0a"/>
<circle cx="860.8" cy="137.9" r="2" fill="#0a0a0a"/>
<circle cx="750.5" cy="45.3" r="2" fill="#0a0a0a"/>
<text x="613.2" y="424.5" class="t" text-anchor="middle">0.1</text>
<text x="574.4" y="342.3" class="t" text-anchor="end">0.1</text>
<text x="750.7" y="424.5" class="t" text-anchor="middle">0.3</text>
<text x="644.7" y="223.8" class="t" text-anchor="end">0.3</text>
<text x="888.2" y="424.5" class="t" text-anchor="middle">0.5</text>
<text x="712.9" y="105.1" class="t" text-anchor="end">0.5</text>
<text x="965.9" y="405.2" class="t">0</text>
<text x="940.8" y="260.6" class="t">20</text>
<text x="866.9" y="133.5" class="t">40</text>
<text x="754.7" y="39" class="t">60</text>
<text x="771.4" y="448.9" class="m">β</text>
<text x="625.2" y="203.2" class="m">β</text>
<text transform="translate(898.4 192.6) scale(1.17 1)" class="m">γ</text>
<text x="735.2" y="164.4" class="s w">0</text>
<text x="757.2" y="175.2" class="ss w">1</text>
<text x="763.2" y="152.8" class="sp w">+</text>
<text transform="translate(807.2 198.2) scale(1.07 1)" class="e w">g.s.</text>
<text x="547.5" y="75.7" class="a">154</text>
<text x="600.3" y="94.8" class="n">Gd</text>
</g>
<g>
<clipPath id="c2"><path d="M1086.2 404.4L1500.8 404.4A414.6 414.6 0 0 0 1293.5 45.3Z"/></clipPath>
<path d="M1086.2 404.4L1500.8 404.4A414.6 414.6 0 0 0 1293.5 45.3Z" fill="#2a2d7c"/>
<g clip-path="url(#c2)">
<path d="M1197.8 407.4L1197.8 404.4L1198 378.5L1198.6 365.6L1199.5 355.5L1200.9 347L1202.6 339.7L1204.7 333.4L1207.3 327.9L1210.3 323.2L1213.7 319.3L1217.7 316.2L1222.4 313.7L1228 312L1235 310.9L1249.2 310.6L1267.4 311.2L1285.3 313L1302.8 315.9L1319.6 319.9L1335.5 325L1350.4 331.1L1364 338.1L1376.1 345.9L1386.6 354.5L1395.4 363.7L1402.4 373.4L1407.4 383.5L1410.5 393.9L1411.5 404.4L1411.5 407.4Z" fill="#27348a"/>
<path d="M1206.4 407.4L1206.4 404.4L1206.5 383.2L1207.1 371.7L1208 362.5L1209.2 354.6L1210.8 347.8L1212.8 341.8L1215.2 336.7L1217.9 332.2L1221.1 328.5L1224.7 325.5L1228.9 323.1L1233.8 321.5L1239.9 320.4L1251.2 320.1L1267.5 320.6L1283.6 322.2L1299.3 324.8L1314.4 328.5L1328.7 333L1342 338.5L1354.2 344.8L1365.1 351.8L1374.6 359.6L1382.5 367.8L1388.7 376.6L1393.2 385.6L1396 395L1396.9 404.4L1396.9 407.4Z" fill="#2a4198"/>
<path d="M1212.9 407.4L1212.9 404.4L1213.1 386.5L1213.6 376.1L1214.4 367.6L1215.6 360.3L1217.1 353.9L1219 348.2L1221.2 343.3L1223.7 339.1L1226.6 335.5L1230 332.6L1233.8 330.3L1238.2 328.7L1243.5 327.7L1252.8 327.4L1267.7 327.9L1282.4 329.3L1296.7 331.7L1310.5 335L1323.5 339.2L1335.6 344.2L1346.8 350L1356.7 356.4L1365.3 363.4L1372.5 371L1378.2 379L1382.3 387.3L1384.8 395.8L1385.7 404.4L1385.7 407.4Z" fill="#33489e"/>
<path d="M1218.5 407.4L1218.5 404.4L1218.6 389.1L1219.1 379.7L1219.9 371.8L1221 365L1222.4 358.9L1224.1 353.5L1226.2 348.8L1228.5 344.8L1231.2 341.4L1234.3 338.6L1237.7 336.4L1241.7 334.8L1246.4 333.9L1254.1 333.6L1267.8 334L1281.3 335.3L1294.4 337.5L1307.1 340.6L1319.1 344.4L1330.3 349L1340.5 354.3L1349.6 360.2L1357.5 366.7L1364.1 373.7L1369.4 381L1373.2 388.6L1375.5 396.5L1376.2 404.4L1376.2 407.4Z" fill="#3453a5"/>
<path d="M1223.4 407.4L1223.4 404.4L1223.5 391.3L1223.9 382.7L1224.7 375.4L1225.7 369L1227 363.2L1228.6 358.2L1230.5 353.7L1232.7 349.8L1235.2 346.5L1238 343.8L1241.1 341.7L1244.7 340.2L1248.9 339.3L1255.3 339L1267.9 339.4L1280.3 340.6L1292.5 342.7L1304.1 345.5L1315.2 349L1325.5 353.3L1334.9 358.2L1343.3 363.6L1350.6 369.6L1356.7 376L1361.6 382.8L1365.1 389.8L1367.2 397.1L1367.9 404.4L1367.9 407.4Z" fill="#3c57a7"/>
<path d="M1227.8 407.4L1227.8 404.4L1227.9 393.1L1228.3 385.3L1229 378.5L1230 372.5L1231.2 367.1L1232.7 362.3L1234.4 358L1236.5 354.3L1238.7 351.1L1241.3 348.5L1244.1 346.5L1247.3 345.1L1251 344.2L1256.3 343.9L1268 344.3L1279.5 345.4L1290.7 347.3L1301.5 349.9L1311.7 353.2L1321.2 357.1L1329.9 361.6L1337.7 366.7L1344.4 372.2L1350.1 378.1L1354.5 384.4L1357.8 390.9L1359.7 397.6L1360.4 404.4L1360.4 407.4Z" fill="#4068b5"/>
<path d="M1231.8 407.4L1231.8 404.4L1232 394.7L1232.3 387.6L1233 381.3L1233.9 375.7L1235 370.6L1236.4 366L1238 362L1239.8 358.4L1241.9 355.4L1244.2 352.9L1246.8 350.9L1249.6 349.5L1252.9 348.7L1257.3 348.4L1268.1 348.8L1278.7 349.8L1289.1 351.5L1299 353.9L1308.5 357L1317.2 360.6L1325.3 364.8L1332.5 369.5L1338.7 374.6L1343.9 380.1L1348 385.9L1351 391.9L1352.8 398.1L1353.4 404.4L1353.4 407.4Z" fill="#4585c8"/>
<path d="M1235.6 407.4L1235.6 404.4L1235.7 396L1236.1 389.6L1236.7 383.8L1237.5 378.6L1238.5 373.8L1239.8 369.5L1241.3 365.6L1243 362.2L1244.8 359.3L1246.9 356.9L1249.2 355L1251.7 353.7L1254.6 352.9L1258.2 352.6L1268.1 352.9L1278 353.9L1287.5 355.5L1296.7 357.7L1305.4 360.5L1313.6 363.9L1321 367.8L1327.6 372.1L1333.4 376.8L1338.2 381.9L1342 387.3L1344.8 392.9L1346.4 398.6L1347 404.4L1347 407.4Z" fill="#3bbdec"/>
<path d="M1237.3 407.4L1237.3 404.4L1237.4 396.7L1237.7 390.6L1238.3 385.2L1239.2 380.2L1240.2 375.6L1241.5 371.4L1242.9 367.7L1244.6 364.5L1246.5 361.7L1248.6 359.4L1250.8 357.6L1253.3 356.2L1256 355.5L1259.5 355.2L1268.7 355.5L1277.9 356.4L1286.9 358L1295.5 360.1L1303.7 362.8L1311.4 366L1318.4 369.7L1324.6 373.8L1330 378.3L1334.6 383.1L1338.2 388.2L1340.8 393.5L1342.4 399L1342.9 404.4L1342.9 407.4Z" fill="#55c3d9"/>
<path d="M1238.9 407.4L1238.9 404.4L1239 397.3L1239.4 391.6L1240 386.4L1240.8 381.7L1241.8 377.3L1243.1 373.3L1244.6 369.8L1246.2 366.7L1248.1 364L1250.1 361.8L1252.4 360L1254.8 358.8L1257.5 358L1260.8 357.7L1269.3 358L1277.9 358.9L1286.3 360.4L1294.4 362.4L1302.1 365L1309.2 368L1315.8 371.5L1321.7 375.4L1326.8 379.7L1331.1 384.3L1334.4 389.2L1336.9 394.2L1338.4 399.3L1338.9 404.4L1338.9 407.4Z" fill="#69c5be"/>
<path d="M1240.5 407.4L1240.5 404.4L1240.6 397.9L1241 392.6L1241.6 387.7L1242.4 383.1L1243.4 379L1244.7 375.2L1246.1 371.8L1247.8 368.8L1249.7 366.2L1251.7 364.1L1253.9 362.4L1256.3 361.2L1258.9 360.5L1262 360.2L1269.9 360.5L1277.9 361.3L1285.7 362.7L1293.3 364.7L1300.5 367.1L1307.2 370L1313.3 373.3L1318.8 377.1L1323.6 381.1L1327.6 385.5L1330.8 390L1333.1 394.8L1334.5 399.6L1334.9 404.4L1334.9 407.4Z" fill="#79c5a0"/>
<path d="M1242.1 407.4L1242.1 404.4L1242.2 398.5L1242.5 393.5L1243.1 388.8L1243.9 384.6L1245 380.6L1246.2 377L1247.7 373.7L1249.4 370.9L1251.2 368.4L1253.2 366.4L1255.4 364.7L1257.7 363.6L1260.3 362.9L1263.3 362.7L1270.5 362.9L1277.9 363.7L1285.2 365L1292.2 366.9L1298.9 369.2L1305.2 371.9L1310.9 375.1L1316 378.6L1320.5 382.5L1324.3 386.6L1327.2 390.9L1329.4 395.4L1330.7 399.9L1331.1 404.4L1331.1 407.4Z" fill="#86c680"/>
<path d="M1243.6 407.4L1243.6 404.4L1243.7 399L1244.1 394.3L1244.7 390L1245.5 385.9L1246.5 382.2L1247.8 378.7L1249.2 375.6L1250.9 372.9L1252.7 370.5L1254.7 368.6L1256.8 367L1259.1 365.9L1261.6 365.3L1264.5 365L1271.1 365.3L1277.9 366L1284.7 367.3L1291.2 369L1297.4 371.2L1303.2 373.8L1308.5 376.8L1313.3 380.1L1317.5 383.8L1321 387.7L1323.7 391.7L1325.7 396L1326.9 400.2L1327.3 404.4L1327.3 407.4Z" fill="#95ca65"/>
<path d="M1245.1 407.4L1245.1 404.4L1245.2 399.5L1245.6 395.1L1246.2 391.1L1247 387.2L1248 383.7L1249.3 380.4L1250.7 377.5L1252.3 374.9L1254.2 372.6L1256.1 370.8L1258.2 369.3L1260.5 368.2L1262.9 367.6L1265.6 367.4L1271.7 367.6L1278 368.3L1284.2 369.5L1290.2 371.1L1295.9 373.2L1301.3 375.7L1306.2 378.5L1310.7 381.6L1314.5 385.1L1317.7 388.7L1320.3 392.6L1322.2 396.5L1323.3 400.5L1323.7 404.4L1323.7 407.4Z" fill="#a4cd4a"/>
<path d="M1246.6 407.4L1246.6 404.4L1246.7 399.9L1247 395.9L1247.6 392.1L1248.5 388.5L1249.5 385.2L1250.7 382.1L1252.2 379.3L1253.8 376.8L1255.6 374.7L1257.5 372.9L1259.6 371.5L1261.8 370.5L1264.2 369.9L1266.8 369.6L1272.3 369.9L1278 370.5L1283.7 371.7L1289.2 373.2L1294.5 375.1L1299.5 377.5L1304 380.1L1308.1 383.1L1311.6 386.3L1314.6 389.7L1317 393.3L1318.7 397.1L1319.7 400.8L1320 404.4L1320 407.4Z" fill="#b9d237"/>
<path d="M1248 407.4L1248 404.4L1248.1 400.4L1248.5 396.6L1249.1 393.1L1249.9 389.7L1250.9 386.6L1252.2 383.7L1253.6 381L1255.2 378.7L1257 376.7L1258.9 375L1261 373.6L1263.2 372.7L1265.4 372.1L1267.9 371.9L1272.9 372.1L1278.1 372.7L1283.3 373.8L1288.3 375.2L1293.1 377.1L1297.7 379.2L1301.8 381.7L1305.5 384.5L1308.8 387.5L1311.5 390.7L1313.7 394.1L1315.2 397.6L1316.2 401.1L1316.5 404.4L1316.5 407.4Z" fill="#cfd927"/>
<path d="M1249.4 407.4L1249.4 404.4L1249.6 400.8L1249.9 397.3L1250.5 394L1251.3 390.9L1252.3 387.9L1253.6 385.2L1255 382.7L1256.6 380.5L1258.4 378.6L1260.3 377L1262.3 375.7L1264.5 374.8L1266.7 374.3L1269 374.1L1273.5 374.3L1278.2 374.9L1282.9 375.9L1287.4 377.2L1291.8 378.9L1295.9 381L1299.7 383.3L1303 385.9L1306 388.7L1308.5 391.7L1310.4 394.9L1311.9 398.1L1312.7 401.3L1313 404.4L1313 407.4Z" fill="#e6e21a"/>
<path d="M1250.8 407.4L1250.8 404.4L1250.9 401.1L1251.3 398L1251.9 394.9L1252.7 392L1253.7 389.3L1255 386.7L1256.4 384.4L1258 382.3L1259.8 380.5L1261.6 379L1263.6 377.8L1265.7 377L1267.9 376.4L1270.1 376.3L1274.1 376.5L1278.3 377L1282.5 377.9L1286.6 379.2L1290.5 380.8L1294.2 382.7L1297.6 384.8L1300.6 387.3L1303.3 389.9L1305.5 392.7L1307.3 395.6L1308.5 398.6L1309.3 401.6L1309.6 404.4L1309.6 407.4Z" fill="#f6e909"/>
<path d="M1252.2 407.4L1252.2 404.4L1252.3 401.5L1252.7 398.6L1253.3 395.8L1254.1 393.1L1255.1 390.6L1256.3 388.2L1257.8 386L1259.4 384.1L1261.1 382.4L1263 381L1264.9 379.9L1267 379.1L1269.1 378.6L1271.2 378.4L1274.7 378.6L1278.4 379.1L1282.1 379.9L1285.7 381.1L1289.2 382.6L1292.5 384.3L1295.5 386.3L1298.2 388.6L1300.6 391L1302.6 393.6L1304.1 396.3L1305.3 399.1L1306 401.8L1306.2 404.4L1306.2 407.4Z" fill="#fee403"/>
<path d="M1253 407.4L1253 404.4L1253.1 401.6L1253.4 398.8L1254 396.1L1254.8 393.5L1255.8 391L1257 388.7L1258.4 386.7L1259.9 384.8L1261.6 383.1L1263.4 381.8L1265.3 380.7L1267.3 379.9L1269.3 379.5L1271.4 379.3L1274.7 379.5L1278.3 380L1281.8 380.8L1285.3 381.9L1288.6 383.3L1291.8 385L1294.6 387L1297.2 389.1L1299.5 391.5L1301.4 394L1302.9 396.6L1304 399.2L1304.7 401.9L1304.9 404.4L1304.9 407.4Z" fill="#fcd20a"/>
<path d="M1253.7 407.4L1253.7 404.4L1253.9 401.7L1254.2 399L1254.8 396.4L1255.5 393.9L1256.5 391.5L1257.6 389.3L1259 387.3L1260.5 385.5L1262.1 383.9L1263.8 382.6L1265.7 381.5L1267.6 380.8L1269.6 380.3L1271.6 380.2L1274.8 380.3L1278.2 380.8L1281.6 381.6L1284.9 382.7L1288.1 384.1L1291 385.7L1293.8 387.6L1296.3 389.7L1298.4 391.9L1300.3 394.3L1301.7 396.9L1302.7 399.4L1303.4 402L1303.6 404.4L1303.6 407.4Z" fill="#fcbf11"/>
<path d="M1254.5 407.4L1254.5 404.4L1254.6 401.8L1254.9 399.2L1255.5 396.7L1256.2 394.3L1257.2 392L1258.3 389.8L1259.6 387.9L1261 386.1L1262.6 384.6L1264.3 383.4L1266.1 382.4L1267.9 381.6L1269.8 381.2L1271.8 381.1L1274.8 381.2L1278.1 381.7L1281.3 382.4L1284.5 383.5L1287.5 384.8L1290.3 386.4L1293 388.2L1295.3 390.2L1297.4 392.4L1299.1 394.7L1300.5 397.1L1301.5 399.6L1302.1 402.1L1302.3 404.4L1302.3 407.4Z" fill="#faaf16"/>
<path d="M1255.3 407.4L1255.3 404.4L1255.4 401.9L1255.7 399.4L1256.2 397L1256.9 394.6L1257.8 392.4L1258.9 390.4L1260.1 388.5L1261.5 386.8L1263.1 385.4L1264.7 384.1L1266.4 383.2L1268.2 382.5L1270.1 382.1L1272 381.9L1274.9 382.1L1277.9 382.5L1281 383.2L1284 384.2L1286.9 385.5L1289.7 387L1292.2 388.8L1294.4 390.7L1296.4 392.8L1298 395.1L1299.3 397.4L1300.3 399.8L1300.9 402.2L1301 404.4L1301 407.4Z" fill="#f8a019"/>
<path d="M1256 407.4L1256 404.4L1256.1 402L1256.4 399.6L1256.9 397.3L1257.6 395L1258.5 392.9L1259.5 390.9L1260.7 389.1L1262.1 387.5L1263.5 386.1L1265.1 384.9L1266.8 384L1268.6 383.3L1270.3 382.9L1272.1 382.8L1274.9 382.9L1277.8 383.3L1280.8 384L1283.6 385L1286.4 386.2L1289 387.7L1291.4 389.4L1293.5 391.2L1295.4 393.3L1296.9 395.4L1298.2 397.7L1299.1 399.9L1299.6 402.2L1299.8 404.4L1299.8 407.4Z" fill="#f6911d"/>
<path d="M1256.7 407.4L1256.7 404.4L1256.8 402.1L1257.1 399.8L1257.6 397.5L1258.3 395.4L1259.1 393.3L1260.1 391.4L1261.3 389.7L1262.6 388.1L1264 386.8L1265.6 385.7L1267.2 384.8L1268.9 384.1L1270.6 383.7L1272.3 383.6L1274.9 383.7L1277.7 384.1L1280.5 384.8L1283.2 385.8L1285.8 386.9L1288.3 388.3L1290.6 390L1292.6 391.7L1294.4 393.7L1295.9 395.8L1297 397.9L1297.9 400.1L1298.4 402.3L1298.6 404.4L1298.6 407.4Z" fill="#f48020"/>
<path d="M1257.4 407.4L1257.4 404.4L1257.5 402.2L1257.8 400L1258.3 397.8L1258.9 395.7L1259.7 393.8L1260.7 391.9L1261.8 390.3L1263.1 388.8L1264.5 387.5L1266 386.4L1267.5 385.5L1269.2 384.9L1270.8 384.5L1272.5 384.4L1275 384.5L1277.6 384.9L1280.3 385.6L1282.8 386.5L1285.3 387.6L1287.6 389L1289.8 390.5L1291.7 392.2L1293.4 394.1L1294.8 396.1L1295.9 398.2L1296.7 400.3L1297.2 402.4L1297.4 404.4L1297.4 407.4Z" fill="#f36d22"/>
<path d="M1258.1 407.4L1258.1 404.4L1258.2 402.3L1258.5 400.1L1259 398.1L1259.6 396.1L1260.4 394.2L1261.3 392.4L1262.4 390.8L1263.6 389.4L1264.9 388.2L1266.4 387.1L1267.9 386.3L1269.4 385.7L1271.1 385.3L1272.7 385.2L1275 385.4L1277.5 385.7L1280 386.4L1282.4 387.2L1284.8 388.3L1287 389.6L1289 391.1L1290.8 392.7L1292.4 394.5L1293.7 396.4L1294.8 398.4L1295.6 400.5L1296 402.5L1296.2 404.4L1296.2 407.4Z" fill="#f15a24"/>
<path d="M1258.8 407.4L1258.8 404.4L1258.9 402.3L1259.2 400.3L1259.6 398.3L1260.2 396.4L1261 394.6L1261.9 392.9L1262.9 391.4L1264.1 390L1265.4 388.8L1266.8 387.8L1268.2 387.1L1269.7 386.5L1271.3 386.1L1272.9 386L1275.1 386.1L1277.4 386.5L1279.8 387.1L1282.1 387.9L1284.3 389L1286.3 390.2L1288.2 391.6L1290 393.2L1291.5 394.9L1292.7 396.8L1293.7 398.7L1294.4 400.6L1294.9 402.6L1295 404.4L1295 407.4Z" fill="#f04b24"/>
<path d="M1259.5 407.4L1259.5 404.4L1259.6 402.4L1259.9 400.5L1260.3 398.6L1260.9 396.8L1261.6 395L1262.5 393.4L1263.5 392L1264.6 390.7L1265.8 389.5L1267.2 388.6L1268.6 387.8L1270 387.3L1271.5 386.9L1273 386.8L1275.1 386.9L1277.3 387.3L1279.5 387.9L1281.7 388.6L1283.7 389.6L1285.7 390.8L1287.5 392.2L1289.1 393.7L1290.5 395.4L1291.7 397.1L1292.6 398.9L1293.3 400.8L1293.7 402.6L1293.8 404.4L1293.8 407.4Z" fill="#ef3c24"/>
<path d="M1260.2 407.4L1260.2 404.4L1260.3 402.5L1260.5 400.7L1260.9 398.9L1261.5 397.1L1262.2 395.5L1263 393.9L1264 392.5L1265.1 391.3L1266.3 390.2L1267.6 389.3L1268.9 388.5L1270.3 388L1271.7 387.7L1273.2 387.6L1275.1 387.7L1277.2 388L1279.3 388.6L1281.3 389.3L1283.2 390.3L1285.1 391.4L1286.7 392.7L1288.2 394.2L1289.6 395.8L1290.7 397.4L1291.5 399.2L1292.2 400.9L1292.6 402.7L1292.7 404.4L1292.7 407.4Z" fill="#ee3024"/>
<path d="M1262.5 407.4L1262.5 404.4L1262.5 402.7L1262.8 401.1L1263.1 399.5L1263.6 398L1264.2 396.5L1264.9 395.2L1265.8 393.9L1266.7 392.8L1267.7 391.9L1268.8 391.1L1270 390.4L1271.2 390L1272.4 389.7L1273.7 389.6L1275.3 389.7L1277 390L1278.7 390.5L1280.4 391.2L1282 392L1283.5 393L1284.9 394.1L1286.1 395.4L1287.2 396.8L1288.1 398.3L1288.9 399.8L1289.4 401.4L1289.7 402.9L1289.8 404.4L1289.8 407.4Z" fill="#ed2524"/>
<path d="M1264.7 407.4L1264.7 404.4L1264.8 403L1265 401.6L1265.3 400.2L1265.7 398.8L1266.2 397.6L1266.8 396.4L1267.5 395.4L1268.3 394.4L1269.1 393.6L1270.1 392.9L1271 392.3L1272.1 391.9L1273.1 391.7L1274.2 391.6L1275.4 391.7L1276.8 391.9L1278.1 392.4L1279.5 392.9L1280.8 393.7L1282 394.5L1283.1 395.5L1284.1 396.6L1284.9 397.8L1285.6 399.1L1286.2 400.4L1286.6 401.8L1286.9 403.1L1287 404.4L1287 407.4Z" fill="#e92024"/>
<path d="M1267 407.4L1267 404.4L1267 403.2L1267.1 402L1267.4 400.8L1267.7 399.7L1268.1 398.6L1268.6 397.6L1269.2 396.7L1269.8 395.9L1270.5 395.2L1271.3 394.6L1272.1 394.2L1272.9 393.8L1273.8 393.6L1274.6 393.6L1275.6 393.6L1276.6 393.9L1277.6 394.2L1278.6 394.7L1279.5 395.3L1280.4 396L1281.3 396.9L1282 397.8L1282.6 398.8L1283.2 399.9L1283.6 401L1283.9 402.2L1284.1 403.3L1284.2 404.4L1284.2 407.4Z" fill="#e21f26"/>
<path d="M1269.2 407.4L1269.2 404.4L1269.2 403.4L1269.3 402.4L1269.5 401.5L1269.7 400.5L1270.1 399.7L1270.4 398.9L1270.9 398.1L1271.4 397.5L1271.9 396.9L1272.5 396.4L1273.1 396L1273.8 395.7L1274.4 395.6L1275.1 395.5L1275.7 395.6L1276.4 395.8L1277 396L1277.7 396.4L1278.3 396.9L1278.9 397.5L1279.5 398.2L1280 399L1280.4 399.8L1280.7 400.7L1281 401.6L1281.2 402.6L1281.3 403.5L1281.4 404.4L1281.4 407.4Z" fill="#d61f26"/>
<path d="M1270.2 407.4L1270.2 404.4L1270.2 403.5L1270.3 402.7L1270.5 401.9L1270.7 401.1L1271 400.3L1271.3 399.6L1271.7 399L1272.1 398.4L1272.5 397.9L1273 397.5L1273.5 397.2L1274.1 397L1274.6 396.8L1275.2 396.8L1275.7 396.8L1276.2 397L1276.8 397.2L1277.3 397.6L1277.8 398L1278.2 398.5L1278.7 399.1L1279.1 399.8L1279.4 400.5L1279.7 401.2L1279.9 402L1280.1 402.8L1280.2 403.6L1280.2 404.4L1280.2 407.4Z" fill="#c52026"/>
<path d="M1270.9 407.4L1270.9 404.4L1270.9 403.7L1271 402.9L1271.1 402.2L1271.3 401.5L1271.5 400.9L1271.8 400.3L1272.1 399.7L1272.5 399.2L1272.9 398.8L1273.3 398.4L1273.8 398.2L1274.2 397.9L1274.7 397.8L1275.2 397.8L1275.6 397.8L1276.1 398L1276.6 398.2L1277 398.5L1277.4 398.8L1277.8 399.3L1278.2 399.8L1278.5 400.4L1278.8 401L1279.1 401.7L1279.3 402.3L1279.4 403L1279.5 403.7L1279.5 404.4L1279.5 407.4Z" fill="#ae1e24"/>
<path d="M1271.5 407.4L1271.5 404.4L1271.5 403.8L1271.6 403.2L1271.7 402.5L1271.9 402L1272.1 401.4L1272.3 400.9L1272.6 400.4L1272.9 400L1273.2 399.6L1273.6 399.3L1274 399.1L1274.4 398.9L1274.8 398.8L1275.2 398.8L1275.6 398.8L1276 398.9L1276.3 399.1L1276.7 399.4L1277.1 399.7L1277.4 400.1L1277.8 400.5L1278 401L1278.3 401.5L1278.5 402.1L1278.7 402.7L1278.8 403.2L1278.9 403.8L1278.9 404.4L1278.9 407.4Z" fill="#9d1c20"/>
<path d="M1272.2 407.4L1272.2 404.4L1272.2 403.9L1272.3 403.4L1272.3 402.9L1272.5 402.4L1272.6 401.9L1272.8 401.5L1273.1 401.1L1273.3 400.8L1273.6 400.5L1273.9 400.2L1274.2 400L1274.5 399.9L1274.9 399.8L1275.2 399.8L1275.5 399.8L1275.8 399.9L1276.1 400.1L1276.5 400.3L1276.8 400.5L1277 400.8L1277.3 401.2L1277.5 401.6L1277.7 402L1277.9 402.5L1278 403L1278.1 403.5L1278.2 403.9L1278.2 404.4L1278.2 407.4Z" fill="#961a1e"/>
<path d="M1086.2 404.4L1092.2 404.4A6 6 0 0 0 1089.2 399.2Z" fill="#fff"/>
</g>
<path d="M1086.2 404.4L1293.5 45.3A414.6 414.6 0 0 1 1500.8 404.4" fill="none" stroke="#0a0a0a" stroke-width="1" stroke-linejoin="miter"/>
<path d="M1086.2 404.4L1500.8 404.4" stroke="#3a3a3a" stroke-width="1.5"/>
<path d="M1452.2 404L1499.8 404" stroke="#a9a9cc" stroke-width="0.9"/>
<circle cx="1155" cy="403.8" r="1.4" fill="#0a0a0a"/>
<circle cx="1120.6" cy="344.9" r="2" fill="#0a0a0a"/>
<circle cx="1292.5" cy="403.8" r="1.4" fill="#0a0a0a"/>
<circle cx="1189.3" cy="225.8" r="2" fill="#0a0a0a"/>
<circle cx="1430" cy="403.8" r="1.4" fill="#0a0a0a"/>
<circle cx="1258.1" cy="106.7" r="2" fill="#0a0a0a"/>
<circle cx="1475.8" cy="262.6" r="2" fill="#0a0a0a"/>
<circle cx="1403.8" cy="137.9" r="2" fill="#0a0a0a"/>
<circle cx="1293.5" cy="45.3" r="2" fill="#0a0a0a"/>
<text x="1156.2" y="424.5" class="t" text-anchor="middle">0.1</text>
<text x="1117.4" y="342.3" class="t" text-anchor="end">0.1</text>
<text x="1293.7" y="424.5" class="t" text-anchor="middle">0.3</text>
<text x="1187.7" y="223.8" class="t" text-anchor="end">0.3</text>
<text x="1431.2" y="424.5" class="t" text-anchor="middle">0.5</text>
<text x="1255.9" y="105.1" class="t" text-anchor="end">0.5</text>
<text x="1508.9" y="405.2" class="t">0</text>
<text x="1483.8" y="260.6" class="t">20</text>
<text x="1409.9" y="133.5" class="t">40</text>
<text x="1297.7" y="39" class="t">60</text>
<text x="1314.4" y="448.9" class="m">β</text>
<text x="1168.2" y="203.2" class="m">β</text>
<text transform="translate(1441.4 192.6) scale(1.17 1)" class="m">γ</text>
<text x="1278.2" y="164.4" class="s w">0</text>
<text x="1300.2" y="175.2" class="ss w">1</text>
<text x="1306.2" y="152.8" class="sp w">+</text>
<text transform="translate(1350.2 198.2) scale(1.07 1)" class="e w">g.s.</text>
<text x="1090.7" y="75.7" class="a">156</text>
<text x="1143.5" y="94.8" class="n">Dy</text>
</g>
<g>
<clipPath id="c3"><path d="M0.2 870.4L414.8 870.4A414.6 414.6 0 0 0 207.5 511.3Z"/></clipPath>
<path d="M0.2 870.4L414.8 870.4A414.6 414.6 0 0 0 207.5 511.3Z" fill="#2a2d7c"/>
<g clip-path="url(#c3)">
<path d="M103.2 873.4L103.2 870.4L103.3 845.9L103.7 833.6L104.3 824L105.1 815.9L106.2 809L107.5 803L109.1 797.8L111 793.4L113.1 789.7L115.6 786.7L118.5 784.4L122 782.7L126.4 781.7L135.2 781.4L144.2 782L153.1 783.6L161.8 786.4L170.1 790.2L178 795L185.3 800.8L192.1 807.5L198.1 814.9L203.3 823L207.6 831.8L211.1 841L213.6 850.6L215.1 860.4L215.6 870.4L215.6 873.4Z" fill="#27348a"/>
<path d="M217.4 873.4L217.4 870.4L217.5 850.2L218 840.1L218.7 832.1L219.6 825.5L220.9 819.8L222.5 814.8L224.4 810.5L226.6 806.9L229.1 803.8L232.1 801.4L235.5 799.5L239.6 798.1L244.8 797.3L255.2 797L265.5 797.5L275.7 798.8L285.6 801.1L295.1 804.3L304.1 808.3L312.6 813L320.3 818.5L327.1 824.6L333.1 831.3L338.1 838.6L342 846.2L344.9 854.1L346.6 862.2L347.2 870.4L347.2 873.4Z" fill="#27348a"/>
<path d="M113.4 873.4L113.4 870.4L113.5 850.9L113.8 840.4L114.4 831.9L115.2 824.7L116.2 818.4L117.4 813L118.8 808.2L120.5 804.2L122.5 800.8L124.7 798L127.3 795.8L130.3 794.3L134.1 793.4L141.1 793.1L148.8 793.6L156.5 795L163.9 797.4L171.1 800.7L177.8 804.9L184.2 809.9L189.9 815.7L195.1 822.2L199.6 829.3L203.3 836.8L206.3 844.9L208.4 853.2L209.7 861.7L210.2 870.4L210.2 873.4Z" fill="#2a4198"/>
<path d="M220.1 873.4L220.1 870.4L220.2 853.5L220.7 844.3L221.4 836.9L222.4 830.6L223.7 825.1L225.3 820.4L227.2 816.3L229.4 812.7L232 809.8L235 807.3L238.4 805.5L242.3 804.1L247.3 803.3L256.4 803L265.8 803.5L275.1 804.7L284.1 806.8L292.7 809.7L301 813.4L308.6 817.7L315.6 822.8L321.9 828.4L327.3 834.6L331.8 841.2L335.4 848.2L338 855.4L339.6 862.9L340.1 870.4L340.1 873.4Z" fill="#2a4198"/>
<path d="M121.2 873.4L121.2 870.4L121.3 854.5L121.6 845.3L122.1 837.7L122.9 831.2L123.8 825.5L124.9 820.5L126.2 816.1L127.8 812.4L129.6 809.2L131.6 806.6L134 804.6L136.7 803.2L139.9 802.3L145.6 802L152.4 802.4L159 803.7L165.6 805.9L171.8 808.8L177.7 812.5L183.3 816.9L188.3 822L192.8 827.8L196.7 834L200 840.7L202.6 847.8L204.5 855.2L205.6 862.7L206 870.4L206 873.4Z" fill="#33489e"/>
<path d="M222.1 873.4L222.1 870.4L222.3 855.8L222.7 847.4L223.5 840.4L224.5 834.5L225.8 829.2L227.5 824.6L229.4 820.6L231.7 817.2L234.2 814.3L237.2 811.9L240.5 810.1L244.4 808.7L249.2 808L257.4 807.7L266.1 808.1L274.6 809.3L282.9 811.2L290.9 813.9L298.5 817.3L305.6 821.4L312 826.1L317.8 831.3L322.8 837L327 843.2L330.3 849.7L332.7 856.4L334.2 863.4L334.7 870.4L334.7 873.4Z" fill="#33489e"/>
<path d="M127.8 873.4L127.8 870.4L127.9 857.3L128.2 849.2L128.7 842.4L129.3 836.5L130.2 831.3L131.2 826.7L132.5 822.7L133.9 819.2L135.5 816.3L137.4 813.9L139.5 812L141.9 810.6L144.8 809.8L149.4 809.6L155.4 809.9L161.2 811.1L166.9 813L172.4 815.6L177.6 818.9L182.5 822.8L186.9 827.4L190.9 832.5L194.3 838L197.2 844L199.5 850.3L201.1 856.9L202.1 863.6L202.5 870.4L202.5 873.4Z" fill="#3453a5"/>
<path d="M223.9 873.4L223.9 870.4L224 857.7L224.5 849.9L225.2 843.4L226.3 837.7L227.6 832.6L229.3 828.2L231.3 824.3L233.5 820.9L236.1 818.1L239.1 815.7L242.4 813.9L246.2 812.6L250.8 811.9L258.2 811.6L266.3 812L274.2 813.1L281.9 814.9L289.4 817.4L296.4 820.6L303 824.4L309 828.8L314.4 833.7L319.1 839.1L323 844.9L326 851L328.3 857.3L329.6 863.8L330.1 870.4L330.1 873.4Z" fill="#3453a5"/>
<path d="M133.6 873.4L133.6 870.4L133.7 859.5L134 852.4L134.4 846.4L135 841L135.8 836.3L136.8 832.1L137.9 828.4L139.2 825.2L140.7 822.4L142.4 820.2L144.3 818.5L146.4 817.2L148.9 816.5L152.8 816.2L158 816.6L163.1 817.6L168.2 819.3L173 821.6L177.6 824.5L181.8 828L185.7 832.1L189.2 836.6L192.2 841.6L194.8 846.9L196.8 852.5L198.2 858.3L199.1 864.3L199.4 870.4L199.4 873.4Z" fill="#3c57a7"/>
<path d="M225.4 873.4L225.4 870.4L225.5 859.3L226 852L226.8 845.9L227.8 840.4L229.2 835.6L230.9 831.3L232.9 827.5L235.2 824.2L237.8 821.4L240.7 819.1L244 817.3L247.8 816.1L252.2 815.3L258.9 815L266.4 815.4L273.9 816.4L281.1 818.2L288 820.5L294.6 823.5L300.8 827.1L306.4 831.3L311.4 835.9L315.8 841L319.4 846.4L322.3 852.1L324.4 858.1L325.6 864.2L326 870.4L326 873.4Z" fill="#3c57a7"/>
<path d="M138.9 873.4L138.9 870.4L139 861.4L139.2 855.2L139.6 849.8L140.2 845L140.9 840.7L141.8 836.9L142.8 833.5L144 830.5L145.4 828L146.9 825.9L148.6 824.3L150.5 823.2L152.7 822.5L155.8 822.2L160.4 822.5L164.9 823.4L169.3 824.9L173.5 827L177.5 829.6L181.2 832.7L184.6 836.3L187.7 840.4L190.3 844.8L192.5 849.5L194.3 854.5L195.6 859.7L196.3 865L196.6 870.4L196.6 873.4Z" fill="#4068b5"/>
<path d="M226.8 873.4L226.8 870.4L226.9 860.7L227.4 853.9L228.2 848.1L229.3 842.9L230.7 838.2L232.4 834L234.4 830.4L236.7 827.2L239.3 824.4L242.3 822.2L245.5 820.4L249.2 819.2L253.4 818.4L259.6 818.2L266.6 818.5L273.5 819.5L280.3 821.1L286.8 823.3L293 826.2L298.7 829.6L304 833.5L308.7 837.8L312.8 842.6L316.2 847.7L318.9 853.1L320.8 858.8L322 864.6L322.4 870.4L322.4 873.4Z" fill="#4068b5"/>
<path d="M143.7 873.4L143.7 870.4L143.8 863L144 857.6L144.4 852.8L144.9 848.5L145.6 844.7L146.4 841.2L147.3 838.1L148.4 835.4L149.6 833.1L151 831.2L152.5 829.7L154.1 828.6L156 828L158.6 827.8L162.6 828L166.5 828.8L170.3 830.1L174 832L177.4 834.3L180.7 837.1L183.6 840.2L186.3 843.8L188.6 847.7L190.5 851.9L192 856.3L193.1 860.9L193.8 865.6L194 870.4L194 873.4Z" fill="#4585c8"/>
<path d="M228 873.4L228 870.4L228.2 861.8L228.7 855.6L229.5 850.1L230.6 845.1L232 840.6L233.8 836.6L235.8 833L238.1 829.9L240.8 827.2L243.7 825L246.9 823.3L250.5 822L254.6 821.3L260.2 821L266.7 821.3L273.3 822.3L279.6 823.8L285.7 825.9L291.5 828.6L296.9 831.8L301.8 835.5L306.2 839.6L310 844.1L313.2 849L315.7 854.1L317.6 859.4L318.7 864.9L319 870.4L319 873.4Z" fill="#4585c8"/>
<path d="M148.2 873.4L148.2 870.4L148.3 864.4L148.5 859.7L148.8 855.5L149.3 851.7L149.9 848.2L150.6 845.1L151.5 842.3L152.4 839.9L153.5 837.8L154.7 836L156 834.7L157.5 833.7L159.1 833.1L161.2 832.9L164.6 833.1L168 833.8L171.2 835L174.4 836.6L177.4 838.6L180.2 841.1L182.7 843.9L185 847L186.9 850.4L188.6 854.1L189.9 858L190.8 862.1L191.4 866.2L191.6 870.4L191.6 873.4Z" fill="#3bbdec"/>
<path d="M229.2 873.4L229.2 870.4L229.4 862.9L229.9 857.1L230.7 851.8L231.8 847.1L233.3 842.8L235 838.9L237.1 835.4L239.5 832.4L242.1 829.7L245 827.6L248.2 825.9L251.7 824.7L255.6 823.9L260.7 823.7L266.9 824L273 824.9L278.9 826.3L284.7 828.3L290.1 830.9L295.1 833.9L299.7 837.4L303.9 841.3L307.4 845.6L310.4 850.1L312.8 855L314.5 860L315.6 865.2L315.9 870.4L315.9 873.4Z" fill="#3bbdec"/>
<path d="M150.3 873.4L150.3 870.4L150.3 865.4L150.5 861.3L150.9 857.6L151.4 854.1L152 850.9L152.7 848L153.6 845.4L154.6 843.1L155.7 841.2L156.9 839.5L158.2 838.2L159.6 837.3L161.1 836.8L163 836.6L165.8 836.8L168.8 837.4L171.6 838.5L174.4 840L177 841.8L179.4 844.1L181.7 846.6L183.7 849.5L185.4 852.6L186.9 855.9L188.1 859.4L188.9 863L189.4 866.7L189.6 870.4L189.6 873.4Z" fill="#55c3d9"/>
<path d="M230.3 873.4L230.3 870.4L230.5 863.3L230.9 857.7L231.7 852.6L232.8 848L234.3 843.8L236 840L238 836.6L240.2 833.5L242.8 831L245.5 828.8L248.6 827.2L251.9 826L255.7 825.2L260.3 825L266.3 825.3L272.1 826.1L277.9 827.6L283.4 829.5L288.7 832L293.6 834.9L298.1 838.4L302.1 842.2L305.5 846.3L308.4 850.8L310.8 855.5L312.4 860.4L313.4 865.4L313.8 870.4L313.8 873.4Z" fill="#55c3d9"/>
<path d="M152.3 873.4L152.3 870.4L152.3 866.4L152.6 862.8L152.9 859.5L153.4 856.4L154 853.5L154.8 850.8L155.7 848.4L156.7 846.3L157.8 844.5L158.9 842.9L160.2 841.7L161.6 840.9L163 840.3L164.7 840.2L167.1 840.4L169.6 840.9L172 841.9L174.4 843.2L176.6 844.9L178.8 846.9L180.7 849.2L182.5 851.8L184 854.6L185.3 857.6L186.3 860.7L187 864L187.4 867.2L187.6 870.4L187.6 873.4Z" fill="#69c5be"/>
<path d="M231.4 873.4L231.4 870.4L231.5 863.7L232 858.3L232.8 853.4L233.9 848.9L235.2 844.8L236.9 841L238.8 837.7L241 834.7L243.4 832.2L246.1 830.1L249 828.4L252.2 827.2L255.7 826.5L260 826.3L265.7 826.6L271.3 827.4L276.9 828.8L282.2 830.7L287.3 833.1L292.1 836L296.4 839.3L300.3 843L303.7 847.1L306.5 851.4L308.7 856L310.4 860.7L311.3 865.6L311.7 870.4L311.7 873.4Z" fill="#69c5be"/>
<path d="M154.2 873.4L154.2 870.4L154.3 867.2L154.5 864.2L154.9 861.3L155.4 858.5L156 855.9L156.8 853.5L157.7 851.3L158.7 849.4L159.8 847.7L161 846.3L162.2 845.1L163.6 844.3L164.9 843.8L166.4 843.7L168.3 843.8L170.4 844.4L172.4 845.2L174.4 846.4L176.3 847.9L178.1 849.7L179.8 851.8L181.3 854.1L182.6 856.6L183.7 859.2L184.5 862L185.1 864.8L185.5 867.7L185.7 870.4L185.7 873.4Z" fill="#79c5a0"/>
<path d="M232.4 873.4L232.4 870.4L232.6 864.1L233 858.9L233.8 854.2L234.8 849.8L236.1 845.7L237.7 842.1L239.6 838.7L241.7 835.8L244 833.3L246.6 831.3L249.4 829.6L252.4 828.5L255.7 827.7L259.7 827.5L265.1 827.8L270.5 828.6L275.9 830L281.1 831.8L286 834.2L290.6 837L294.8 840.2L298.6 843.8L301.9 847.8L304.6 852L306.8 856.5L308.4 861.1L309.3 865.8L309.6 870.4L309.6 873.4Z" fill="#79c5a0"/>
<path d="M157.2 873.4L157.2 870.4L157.3 867.9L157.5 865.4L157.9 863L158.4 860.7L159 858.4L159.7 856.4L160.6 854.5L161.5 852.8L162.6 851.4L163.7 850.2L164.9 849.2L166.1 848.5L167.4 848.1L168.6 847.9L170.1 848.1L171.7 848.5L173.3 849.3L174.9 850.3L176.4 851.5L177.8 853.1L179.1 854.8L180.3 856.7L181.3 858.8L182.2 861.1L182.9 863.4L183.4 865.8L183.7 868.2L183.8 870.4L183.8 873.4Z" fill="#86c680"/>
<path d="M233.5 873.4L233.5 870.4L233.6 864.5L234.1 859.5L234.8 854.9L235.8 850.6L237 846.7L238.6 843L240.4 839.8L242.4 836.9L244.6 834.5L247.1 832.4L249.7 830.8L252.6 829.7L255.7 829L259.3 828.7L264.5 829L269.8 829.8L274.9 831.1L280 832.9L284.7 835.2L289.2 838L293.3 841.1L296.9 844.7L300.1 848.5L302.8 852.6L304.9 856.9L306.4 861.4L307.3 865.9L307.6 870.4L307.6 873.4Z" fill="#86c680"/>
<path d="M161.3 873.4L161.3 870.4L161.3 868.4L161.5 866.5L161.8 864.6L162.3 862.8L162.8 861.1L163.5 859.5L164.2 858L165.1 856.7L166 855.6L167 854.6L168.1 853.9L169.2 853.4L170.3 853L171.4 852.9L172.5 853L173.6 853.4L174.7 853.9L175.8 854.7L176.9 855.7L177.8 856.9L178.8 858.3L179.6 859.8L180.3 861.4L180.9 863.1L181.4 865L181.7 866.8L181.9 868.7L182 870.4L182 873.4Z" fill="#95ca65"/>
<path d="M234.5 873.4L234.5 870.4L234.6 864.8L235.1 860L235.7 855.6L236.7 851.4L237.9 847.5L239.4 844L241.1 840.8L243 838L245.2 835.6L247.5 833.6L250 832L252.7 830.8L255.6 830.1L259 829.9L264 830.2L269 831L274 832.2L278.9 834L283.5 836.3L287.8 838.9L291.7 842L295.3 845.5L298.4 849.2L301 853.2L303 857.4L304.5 861.7L305.4 866.1L305.7 870.4L305.7 873.4Z" fill="#95ca65"/>
<path d="M165.2 873.4L165.2 870.4L165.3 869L165.4 867.6L165.7 866.2L166.1 864.9L166.6 863.7L167.2 862.5L167.8 861.5L168.6 860.5L169.4 859.7L170.3 859L171.2 858.5L172.2 858.1L173.2 857.9L174.2 857.8L174.8 857.9L175.4 858.1L176.1 858.5L176.7 859.1L177.3 859.8L177.8 860.7L178.4 861.7L178.8 862.7L179.2 863.9L179.6 865.2L179.8 866.5L180 867.8L180.2 869.1L180.2 870.4L180.2 873.4Z" fill="#a4cd4a"/>
<path d="M235.5 873.4L235.5 870.4L235.6 865.2L236 860.6L236.7 856.2L237.6 852.2L238.8 848.4L240.2 845L241.8 841.8L243.7 839.1L245.7 836.7L247.9 834.7L250.3 833.1L252.9 832L255.6 831.3L258.7 831.1L263.4 831.3L268.3 832.1L273.1 833.4L277.8 835.1L282.2 837.3L286.4 839.9L290.2 842.9L293.7 846.2L296.7 849.9L299.2 853.8L301.2 857.8L302.6 862L303.5 866.3L303.8 870.4L303.8 873.4Z" fill="#a4cd4a"/>
<path d="M170.8 873.4L170.8 870.4L170.8 869.9L170.9 869.3L171 868.8L171.1 868.3L171.3 867.8L171.6 867.3L171.8 866.9L172.1 866.6L172.4 866.2L172.7 866L173.1 865.8L173.4 865.6L173.8 865.5L174.2 865.5L174.5 865.5L174.8 865.6L175.1 865.8L175.4 866L175.6 866.3L175.9 866.6L176.1 867L176.4 867.4L176.5 867.9L176.7 868.4L176.8 868.9L176.9 869.4L177 869.9L177 870.4L177 873.4Z" fill="#b9d237"/>
<path d="M236.5 873.4L236.5 870.4L236.6 865.5L237 861.1L237.6 856.9L238.5 852.9L239.6 849.3L241 845.9L242.5 842.8L244.3 840.1L246.2 837.7L248.4 835.8L250.6 834.2L253 833.1L255.6 832.4L258.4 832.2L262.9 832.5L267.6 833.2L272.2 834.4L276.7 836.1L281 838.3L285.1 840.8L288.8 843.7L292.1 847L295 850.5L297.4 854.3L299.4 858.3L300.8 862.3L301.6 866.4L301.9 870.4L301.9 873.4Z" fill="#b9d237"/>
<path d="M237.4 873.4L237.4 870.4L237.6 865.8L237.9 861.5L238.5 857.5L239.4 853.7L240.5 850.1L241.7 846.8L243.2 843.8L244.9 841.1L246.8 838.8L248.8 836.8L250.9 835.3L253.1 834.2L255.5 833.6L258.1 833.3L262.4 833.6L266.9 834.3L271.4 835.5L275.7 837.2L279.9 839.2L283.8 841.7L287.4 844.6L290.6 847.7L293.4 851.2L295.7 854.8L297.6 858.7L299 862.6L299.8 866.6L300 870.4L300 873.4Z" fill="#cfd927"/>
<path d="M238.4 873.4L238.4 870.4L238.5 866.1L238.8 862L239.4 858.1L240.2 854.4L241.3 850.9L242.5 847.6L243.9 844.7L245.5 842.1L247.2 839.8L249.1 837.9L251.1 836.4L253.2 835.3L255.5 834.7L257.8 834.5L261.9 834.7L266.2 835.4L270.5 836.6L274.7 838.2L278.7 840.2L282.5 842.6L286 845.4L289.1 848.4L291.8 851.8L294.1 855.4L295.9 859.1L297.2 862.9L298 866.7L298.2 870.4L298.2 873.4Z" fill="#e6e21a"/>
<path d="M239.3 873.4L239.3 870.4L239.4 866.4L239.7 862.4L240.3 858.7L241.1 855.1L242 851.7L243.2 848.5L244.5 845.6L246.1 843L247.7 840.8L249.5 838.9L251.4 837.5L253.3 836.4L255.4 835.7L257.5 835.5L261.4 835.8L265.6 836.4L269.7 837.6L273.7 839.1L277.6 841.1L281.2 843.5L284.6 846.2L287.6 849.1L290.2 852.4L292.4 855.9L294.2 859.5L295.4 863.2L296.2 866.9L296.5 870.4L296.5 873.4Z" fill="#f6e909"/>
<path d="M240.2 873.4L240.2 870.4L240.3 866.6L240.6 862.9L241.2 859.2L241.9 855.7L242.8 852.4L243.9 849.3L245.2 846.5L246.6 844L248.2 841.8L249.8 839.9L251.6 838.5L253.4 837.4L255.3 836.8L257.2 836.6L260.9 836.8L264.9 837.5L268.9 838.6L272.8 840.1L276.5 842L280 844.3L283.2 846.9L286.1 849.8L288.7 853L290.8 856.4L292.5 859.9L293.7 863.5L294.5 867L294.7 870.4L294.7 873.4Z" fill="#fee403"/>
<path d="M240.9 873.4L240.9 870.4L241 866.7L241.3 863L241.8 859.5L242.5 856L243.4 852.8L244.4 849.7L245.7 847L247 844.5L248.5 842.3L250.2 840.5L251.9 839.1L253.6 838.1L255.5 837.5L257.3 837.3L260.9 837.5L264.7 838.1L268.6 839.2L272.3 840.7L275.9 842.6L279.3 844.8L282.5 847.4L285.3 850.2L287.7 853.3L289.8 856.6L291.4 860.1L292.6 863.6L293.3 867.1L293.5 870.4L293.5 873.4Z" fill="#fcd20a"/>
<path d="M241.5 873.4L241.5 870.4L241.6 866.8L241.9 863.2L242.4 859.7L243.1 856.3L243.9 853.1L245 850.1L246.2 847.4L247.5 845L248.9 842.9L250.5 841.1L252.1 839.7L253.9 838.7L255.6 838.1L257.4 837.9L260.9 838.1L264.6 838.8L268.3 839.8L271.9 841.3L275.4 843.1L278.7 845.3L281.7 847.8L284.4 850.6L286.8 853.7L288.8 856.9L290.3 860.3L291.5 863.7L292.2 867.2L292.4 870.4L292.4 873.4Z" fill="#fcbf11"/>
<path d="M242.1 873.4L242.1 870.4L242.2 866.8L242.5 863.3L243 859.9L243.7 856.6L244.5 853.5L245.5 850.5L246.6 847.9L247.9 845.5L249.3 843.4L250.8 841.7L252.4 840.3L254.1 839.4L255.8 838.8L257.5 838.6L260.9 838.8L264.4 839.4L268 840.4L271.5 841.9L274.9 843.7L278 845.8L280.9 848.3L283.6 851L285.8 854L287.8 857.2L289.3 860.5L290.4 863.9L291 867.2L291.3 870.4L291.3 873.4Z" fill="#faaf16"/>
<path d="M242.8 873.4L242.8 870.4L242.8 866.9L243.1 863.5L243.6 860.1L244.2 856.9L245 853.8L246 850.9L247.1 848.3L248.3 846L249.7 844L251.1 842.3L252.7 840.9L254.3 840L255.9 839.4L257.6 839.2L260.8 839.4L264.3 840L267.7 841L271.1 842.4L274.3 844.2L277.4 846.3L280.2 848.7L282.7 851.4L284.9 854.3L286.8 857.4L288.2 860.7L289.3 864L289.9 867.3L290.2 870.4L290.2 873.4Z" fill="#f8a019"/>
<path d="M243.4 873.4L243.4 870.4L243.5 867L243.7 863.6L244.2 860.3L244.8 857.1L245.6 854.1L246.5 851.3L247.6 848.8L248.8 846.5L250.1 844.5L251.5 842.8L252.9 841.5L254.5 840.6L256.1 840L257.7 839.8L260.8 840L264.1 840.6L267.5 841.6L270.7 843L273.8 844.7L276.8 846.8L279.5 849.2L281.9 851.8L284 854.7L285.8 857.7L287.2 860.9L288.2 864.1L288.9 867.3L289.1 870.4L289.1 873.4Z" fill="#f6911d"/>
<path d="M244 873.4L244 870.4L244.1 867L244.3 863.7L244.8 860.5L245.3 857.4L246.1 854.5L247 851.7L248 849.2L249.2 847L250.4 845L251.8 843.4L253.2 842.1L254.7 841.2L256.2 840.6L257.8 840.4L260.8 840.6L264 841.2L267.2 842.2L270.3 843.6L273.3 845.2L276.1 847.3L278.7 849.6L281.1 852.2L283.1 855L284.8 858L286.2 861.1L287.2 864.2L287.8 867.4L288 870.4L288 873.4Z" fill="#f48020"/>
<path d="M244.6 873.4L244.6 870.4L244.7 867.1L244.9 863.9L245.3 860.7L245.9 857.7L246.6 854.8L247.5 852.1L248.5 849.6L249.6 847.4L250.8 845.5L252.1 844L253.5 842.7L254.9 841.8L256.4 841.2L257.9 841L260.8 841.2L263.8 841.8L266.9 842.8L269.9 844.1L272.8 845.8L275.5 847.7L278 850L280.3 852.5L282.3 855.3L283.9 858.2L285.2 861.3L286.2 864.4L286.7 867.5L286.9 870.4L286.9 873.4Z" fill="#f36d22"/>
<path d="M245.2 873.4L245.2 870.4L245.3 867.2L245.5 864L245.9 860.9L246.4 857.9L247.1 855.1L248 852.5L248.9 850.1L250 847.9L251.1 846.1L252.4 844.5L253.7 843.3L255.1 842.4L256.5 841.8L257.9 841.6L260.7 841.8L263.7 842.4L266.6 843.3L269.5 844.6L272.3 846.3L274.9 848.2L277.3 850.4L279.5 852.9L281.4 855.6L283 858.5L284.2 861.4L285.1 864.5L285.7 867.5L285.9 870.4L285.9 873.4Z" fill="#f15a24"/>
<path d="M245.8 873.4L245.8 870.4L245.8 867.2L246.1 864.1L246.4 861.1L247 858.2L247.6 855.4L248.4 852.8L249.3 850.5L250.4 848.4L251.5 846.6L252.7 845L254 843.8L255.3 842.9L256.7 842.4L258 842.2L260.7 842.4L263.5 843L266.4 843.9L269.2 845.2L271.8 846.8L274.3 848.7L276.6 850.8L278.7 853.3L280.5 855.9L282 858.7L283.3 861.6L284.1 864.6L284.7 867.6L284.8 870.4L284.8 873.4Z" fill="#f04b24"/>
<path d="M246.3 873.4L246.3 870.4L246.4 867.3L246.6 864.3L247 861.3L247.5 858.4L248.1 855.7L248.9 853.2L249.8 850.9L250.8 848.8L251.8 847L253 845.6L254.2 844.4L255.5 843.5L256.8 843L258.1 842.8L260.7 843L263.4 843.5L266.1 844.4L268.8 845.7L271.3 847.3L273.7 849.1L276 851.3L277.9 853.6L279.7 856.2L281.1 858.9L282.3 861.8L283.1 864.7L283.6 867.6L283.8 870.4L283.8 873.4Z" fill="#ef3c24"/>
<path d="M246.9 873.4L246.9 870.4L247 867.4L247.2 864.4L247.5 861.5L248 858.7L248.6 856L249.4 853.6L250.2 851.3L251.2 849.3L252.2 847.5L253.3 846.1L254.5 844.9L255.7 844.1L256.9 843.6L258.2 843.4L260.7 843.6L263.3 844.1L265.9 845L268.4 846.2L270.9 847.7L273.2 849.6L275.3 851.7L277.2 854L278.8 856.5L280.2 859.2L281.3 862L282.2 864.8L282.6 867.7L282.8 870.4L282.8 873.4Z" fill="#ee3024"/>
<path d="M248.2 873.4L248.2 870.4L248.2 867.6L248.4 864.8L248.8 862.1L249.2 859.5L249.8 857.1L250.5 854.8L251.2 852.7L252.1 850.8L253.1 849.2L254.1 847.8L255.2 846.7L256.3 845.9L257.5 845.5L258.7 845.3L260.8 845.5L263.1 846L265.4 846.8L267.6 847.9L269.8 849.3L271.8 851L273.7 853L275.3 855.1L276.8 857.5L278 860L279 862.6L279.7 865.2L280.1 867.9L280.3 870.4L280.3 873.4Z" fill="#ed2524"/>
<path d="M249.4 873.4L249.4 870.4L249.5 867.8L249.7 865.2L250 862.7L250.4 860.3L250.9 858.1L251.5 855.9L252.3 854L253.1 852.3L254 850.8L254.9 849.5L255.9 848.5L257 847.8L258.1 847.4L259.2 847.2L261 847.4L263 847.8L264.9 848.6L266.9 849.6L268.7 850.9L270.5 852.5L272.1 854.3L273.5 856.3L274.8 858.5L275.8 860.8L276.7 863.2L277.3 865.6L277.6 868.1L277.7 870.4L277.7 873.4Z" fill="#e92024"/>
<path d="M250.7 873.4L250.7 870.4L250.7 868L250.9 865.7L251.2 863.4L251.6 861.2L252 859.1L252.6 857.1L253.3 855.3L254 853.7L254.9 852.4L255.7 851.2L256.7 850.3L257.6 849.6L258.6 849.2L259.6 849.1L261.2 849.2L262.8 849.6L264.5 850.3L266.1 851.3L267.7 852.5L269.1 854L270.5 855.6L271.7 857.4L272.8 859.4L273.6 861.6L274.3 863.8L274.9 866L275.2 868.3L275.3 870.4L275.3 873.4Z" fill="#e21f26"/>
<path d="M251.9 873.4L251.9 870.4L251.9 868.2L252.1 866.1L252.4 864L252.7 862L253.2 860L253.7 858.3L254.3 856.6L255 855.2L255.7 853.9L256.5 852.9L257.4 852L258.3 851.4L259.2 851.1L260.1 850.9L261.4 851.1L262.7 851.5L264 852.1L265.4 853L266.6 854.1L267.8 855.4L268.9 856.9L269.9 858.6L270.8 860.4L271.5 862.3L272.1 864.3L272.5 866.4L272.7 868.5L272.8 870.4L272.8 873.4Z" fill="#d61f26"/>
<path d="M252.9 873.4L252.9 870.4L253 868.5L253.1 866.6L253.3 864.7L253.7 862.9L254 861.2L254.5 859.6L255.1 858.2L255.7 856.9L256.3 855.8L257 854.8L257.8 854.1L258.6 853.6L259.4 853.2L260.2 853.1L261.3 853.3L262.4 853.6L263.6 854.2L264.7 854.9L265.8 855.9L266.8 857.1L267.8 858.4L268.6 859.9L269.4 861.5L270 863.2L270.5 865L270.8 866.9L271 868.7L271.1 870.4L271.1 873.4Z" fill="#c52026"/>
<path d="M253.9 873.4L253.9 870.4L253.9 868.7L254.1 867.1L254.3 865.5L254.5 863.9L254.9 862.4L255.3 861.1L255.7 859.8L256.3 858.7L256.8 857.7L257.5 856.9L258.1 856.3L258.8 855.8L259.5 855.5L260.2 855.4L261.1 855.5L262.1 855.8L263.1 856.3L264.1 857L265.1 857.8L265.9 858.8L266.8 860L267.5 861.3L268.1 862.7L268.7 864.2L269.1 865.7L269.4 867.3L269.6 868.9L269.7 870.4L269.7 873.4Z" fill="#ae1e24"/>
<path d="M254.9 873.4L254.9 870.4L254.9 869L255 867.6L255.2 866.2L255.4 864.9L255.7 863.6L256 862.5L256.4 861.4L256.9 860.5L257.4 859.6L257.9 859L258.4 858.4L259 858L259.6 857.8L260.2 857.7L261 857.8L261.8 858L262.7 858.5L263.5 859L264.3 859.7L265.1 860.6L265.8 861.6L266.4 862.7L266.9 863.9L267.4 865.1L267.7 866.4L268 867.8L268.2 869.1L268.2 870.4L268.2 873.4Z" fill="#9d1c20"/>
<path d="M255.8 873.4L255.8 870.4L255.8 869.2L255.9 868.1L256 866.9L256.2 865.9L256.5 864.8L256.8 863.9L257.1 863L257.5 862.2L257.9 861.6L258.3 861L258.7 860.5L259.2 860.2L259.7 860L260.2 859.9L260.9 860L261.6 860.2L262.3 860.6L262.9 861L263.6 861.6L264.2 862.3L264.8 863.1L265.3 864L265.7 865L266.1 866.1L266.4 867.1L266.6 868.3L266.8 869.4L266.8 870.4L266.8 873.4Z" fill="#961a1e"/>
<path d="M0.2 870.4L6.2 870.4A6 6 0 0 0 3.2 865.2Z" fill="#fff"/>
</g>
<path d="M0.2 870.4L207.5 511.3A414.6 414.6 0 0 1 414.8 870.4" fill="none" stroke="#0a0a0a" stroke-width="1" stroke-linejoin="miter"/>
<path d="M0.2 870.4L414.8 870.4" stroke="#3a3a3a" stroke-width="1.5"/>
<path d="M366.2 870L413.8 870" stroke="#a9a9cc" stroke-width="0.9"/>
<circle cx="69" cy="869.8" r="1.4" fill="#0a0a0a"/>
<circle cx="34.6" cy="810.9" r="2" fill="#0a0a0a"/>
<circle cx="206.4" cy="869.8" r="1.4" fill="#0a0a0a"/>
<circle cx="103.3" cy="691.8" r="2" fill="#0a0a0a"/>
<circle cx="343.9" cy="869.8" r="1.4" fill="#0a0a0a"/>
<circle cx="172.1" cy="572.7" r="2" fill="#0a0a0a"/>
<circle cx="389.8" cy="728.6" r="2" fill="#0a0a0a"/>
<circle cx="317.8" cy="603.9" r="2" fill="#0a0a0a"/>
<circle cx="207.5" cy="511.3" r="2" fill="#0a0a0a"/>
<text x="70.2" y="890.5" class="t" text-anchor="middle">0.1</text>
<text x="31.4" y="808.3" class="t" text-anchor="end">0.1</text>
<text x="207.6" y="890.5" class="t" text-anchor="middle">0.3</text>
<text x="101.7" y="689.8" class="t" text-anchor="end">0.3</text>
<text x="345.1" y="890.5" class="t" text-anchor="middle">0.5</text>
<text x="169.9" y="571.1" class="t" text-anchor="end">0.5</text>
<text x="422.9" y="871.2" class="t">0</text>
<text x="397.8" y="726.6" class="t">20</text>
<text x="323.9" y="599.5" class="t">40</text>
<text x="211.7" y="505" class="t">60</text>
<text x="228.4" y="914.9" class="m">β</text>
<text x="82.2" y="669.2" class="m">β</text>
<text transform="translate(355.4 658.6) scale(1.17 1)" class="m">γ</text>
<text x="192.2" y="630.4" class="s w">0</text>
<text x="214.2" y="641.2" class="ss w">2</text>
<text x="220.2" y="618.8" class="sp w">+</text>
<text transform="translate(137.2 681.1) scale(1.07 1)" class="e w">E=0.87 MeV</text>
</g>
<g>
<clipPath id="c4"><path d="M543.2 870.4L957.8 870.4A414.6 414.6 0 0 0 750.5 511.3Z"/></clipPath>
<path d="M543.2 870.4L957.8 870.4A414.6 414.6 0 0 0 750.5 511.3Z" fill="#2a2d7c"/>
<g clip-path="url(#c4)">
<path d="M648.1 873.4L648.1 870.4L648.2 846.1L648.6 834L649.2 824.5L650.1 816.6L651.3 809.7L652.7 803.8L654.4 798.6L656.4 794.3L658.7 790.6L661.3 787.6L664.4 785.3L668.1 783.7L672.8 782.7L682.2 782.4L690.6 783L699 784.6L707.1 787.3L714.9 791.1L722.3 795.9L729.2 801.6L735.5 808.2L741.2 815.5L746 823.6L750.1 832.2L753.4 841.3L755.7 850.8L757.1 860.5L757.6 870.4L757.6 873.4Z" fill="#27348a"/>
<path d="M759.5 873.4L759.5 870.4L759.7 846L760.2 833.8L761.1 824.3L762.3 816.2L763.9 809.3L765.9 803.4L768.3 798.2L771.1 793.8L774.3 790.2L778 787.2L782.3 784.9L787.5 783.2L794 782.2L807.2 781.9L817.8 782.5L828.3 784.1L838.6 786.9L848.4 790.7L857.7 795.5L866.4 801.2L874.4 807.8L881.5 815.2L887.6 823.3L892.8 832L896.9 841.2L899.8 850.7L901.6 860.5L902.2 870.4L902.2 873.4Z" fill="#27348a"/>
<path d="M657.5 873.4L657.5 870.4L657.6 851L657.9 840.5L658.5 832L659.3 824.8L660.4 818.6L661.7 813.1L663.2 808.4L665 804.4L667.1 801L669.4 798.2L672.2 796L675.4 794.5L679.4 793.6L686.7 793.3L694.1 793.8L701.4 795.2L708.6 797.6L715.4 800.9L721.9 805.1L727.9 810.1L733.5 815.9L738.4 822.3L742.7 829.4L746.3 836.9L749.1 844.9L751.2 853.2L752.4 861.8L752.8 870.4L752.8 873.4Z" fill="#2a4198"/>
<path d="M762.6 873.4L762.6 870.4L762.8 850.3L763.3 839.4L764.2 830.7L765.4 823.2L767 816.7L769 811.1L771.4 806.2L774.1 802L777.2 798.5L780.9 795.6L785 793.4L789.9 791.8L796 790.8L807.2 790.5L817 791L826.7 792.5L836.1 795L845.2 798.4L853.8 802.8L861.8 808L869.1 813.9L875.6 820.6L881.3 827.9L886 835.7L889.8 844L892.5 852.6L894.2 861.5L894.7 870.4L894.7 873.4Z" fill="#2a4198"/>
<path d="M664.7 873.4L664.7 870.4L664.8 854.4L665.1 845.1L665.6 837.5L666.4 831L667.4 825.2L668.5 820.2L669.9 815.8L671.6 812L673.4 808.8L675.6 806.2L678 804.2L680.8 802.8L684.3 801.9L690.2 801.6L696.8 802.1L703.3 803.3L709.7 805.5L715.8 808.4L721.6 812.2L727 816.6L731.9 821.8L736.3 827.5L740.1 833.8L743.3 840.6L745.8 847.7L747.7 855.1L748.8 862.7L749.2 870.4L749.2 873.4Z" fill="#33489e"/>
<path d="M765 873.4L765 870.4L765.2 853.4L765.7 843.5L766.6 835.4L767.8 828.4L769.4 822.3L771.4 816.9L773.7 812.3L776.4 808.2L779.5 804.8L783 802.1L787 799.9L791.7 798.4L797.4 797.5L807.2 797.2L816.4 797.6L825.4 799L834.2 801.3L842.7 804.4L850.7 808.4L858.2 813.1L865 818.6L871.1 824.7L876.4 831.4L880.9 838.6L884.4 846.2L886.9 854.1L888.4 862.2L888.9 870.4L888.9 873.4Z" fill="#33489e"/>
<path d="M670.7 873.4L670.7 870.4L670.8 857.1L671.1 848.9L671.6 842L672.3 836L673.2 830.7L674.3 826.1L675.6 822L677.1 818.4L678.7 815.4L680.7 813L682.8 811.1L685.3 809.7L688.3 808.9L693.1 808.7L699.1 809L704.9 810.2L710.6 812.1L716.1 814.8L721.3 818.1L726.1 822.1L730.6 826.7L734.5 831.9L737.9 837.5L740.8 843.6L743.1 850L744.7 856.7L745.7 863.5L746.1 870.4L746.1 873.4Z" fill="#3453a5"/>
<path d="M767 873.4L767 870.4L767.2 855.8L767.7 846.8L768.6 839.3L769.8 832.7L771.4 826.9L773.4 821.8L775.7 817.3L778.3 813.5L781.4 810.2L784.8 807.5L788.7 805.4L793.2 803.9L798.5 803L807.2 802.7L815.8 803.2L824.3 804.4L832.6 806.5L840.6 809.4L848.1 813.1L855.1 817.5L861.6 822.6L867.3 828.2L872.3 834.4L876.5 841L879.8 848.1L882.2 855.3L883.6 862.8L884.1 870.4L884.1 873.4Z" fill="#3453a5"/>
<path d="M676.1 873.4L676.1 870.4L676.2 859.3L676.5 852L676.9 845.8L677.5 840.3L678.3 835.4L679.3 831.1L680.5 827.3L681.8 824L683.4 821.2L685.1 818.9L687 817.2L689.2 815.9L691.8 815.1L695.7 814.8L701.1 815.2L706.3 816.2L711.4 818L716.4 820.4L721.1 823.4L725.4 827L729.4 831.1L732.9 835.8L736 840.8L738.6 846.3L740.7 852.1L742.1 858L743 864.2L743.3 870.4L743.3 873.4Z" fill="#3c57a7"/>
<path d="M768.8 873.4L768.8 870.4L768.9 857.8L769.5 849.6L770.4 842.6L771.6 836.4L773.2 830.9L775.1 826L777.4 821.8L780 818L783 814.9L786.4 812.3L790.2 810.3L794.4 808.8L799.5 807.9L807.2 807.7L815.3 808.1L823.4 809.2L831.2 811.2L838.7 813.9L845.8 817.3L852.5 821.3L858.6 826L864 831.3L868.7 837L872.6 843.2L875.7 849.7L878 856.4L879.4 863.4L879.8 870.4L879.8 873.4Z" fill="#3c57a7"/>
<path d="M680.9 873.4L680.9 870.4L681 861.1L681.3 854.6L681.7 849L682.2 844.1L683 839.6L683.9 835.6L684.9 832.1L686.1 829L687.5 826.4L689 824.3L690.7 822.6L692.6 821.4L694.9 820.7L698.1 820.5L702.8 820.8L707.6 821.7L712.2 823.3L716.6 825.4L720.8 828.1L724.8 831.3L728.3 835.1L731.5 839.3L734.3 843.8L736.6 848.7L738.5 853.9L739.8 859.3L740.6 864.8L740.9 870.4L740.9 873.4Z" fill="#4068b5"/>
<path d="M770.4 873.4L770.4 870.4L770.5 859.5L771.1 852L772 845.5L773.2 839.7L774.8 834.5L776.7 829.8L779 825.7L781.6 822.1L784.5 819.1L787.8 816.6L791.5 814.6L795.6 813.2L800.3 812.4L807.2 812.1L814.9 812.5L822.5 813.6L829.9 815.4L837 817.9L843.8 821L850.1 824.8L855.8 829.2L861 834.1L865.4 839.4L869.2 845.1L872.1 851.1L874.2 857.4L875.5 863.9L876 870.4L876 873.4Z" fill="#4068b5"/>
<path d="M685.4 873.4L685.4 870.4L685.4 862.6L685.7 856.9L686 851.9L686.6 847.4L687.2 843.4L688 839.7L689 836.5L690 833.6L691.2 831.2L692.6 829.2L694.1 827.6L695.7 826.5L697.6 825.8L700.2 825.6L704.5 825.9L708.7 826.7L712.9 828.1L716.9 830L720.6 832.5L724.1 835.4L727.4 838.7L730.2 842.5L732.7 846.6L734.8 851L736.5 855.6L737.6 860.4L738.4 865.4L738.6 870.4L738.6 873.4Z" fill="#4585c8"/>
<path d="M771.8 873.4L771.8 870.4L772 861L772.5 854.1L773.4 848.1L774.7 842.6L776.2 837.7L778.2 833.3L780.4 829.3L783 825.9L785.9 822.9L789.1 820.5L792.6 818.6L796.6 817.3L801.1 816.5L807.2 816.2L814.5 816.5L821.7 817.6L828.7 819.2L835.5 821.6L841.9 824.5L847.9 828L853.3 832.1L858.2 836.6L862.4 841.6L865.9 846.9L868.7 852.5L870.8 858.3L872 864.3L872.4 870.4L872.4 873.4Z" fill="#4585c8"/>
<path d="M689.5 873.4L689.5 870.4L689.6 863.9L689.8 859L690.1 854.5L690.6 850.5L691.1 846.8L691.9 843.4L692.7 840.4L693.6 837.8L694.7 835.6L695.9 833.7L697.2 832.3L698.6 831.2L700.2 830.6L702.2 830.4L706 830.7L709.8 831.4L713.5 832.6L717.1 834.4L720.4 836.5L723.6 839.1L726.5 842.1L729 845.5L731.2 849.1L733.1 853L734.6 857.2L735.6 861.5L736.3 865.9L736.5 870.4L736.5 873.4Z" fill="#3bbdec"/>
<path d="M773.2 873.4L773.2 870.4L773.4 862.3L773.9 856L774.8 850.4L776 845.3L777.6 840.6L779.5 836.4L781.7 832.6L784.3 829.3L787.1 826.5L790.2 824.2L793.7 822.4L797.5 821.1L801.7 820.3L807.2 820L814.1 820.3L821 821.3L827.6 822.8L834.1 825L840.1 827.7L845.8 831L851 834.8L855.6 839L859.6 843.6L863 848.5L865.6 853.8L867.5 859.2L868.7 864.8L869.1 870.4L869.1 873.4Z" fill="#3bbdec"/>
<path d="M691.8 873.4L691.8 870.4L691.9 864.9L692.1 860.4L692.4 856.3L692.9 852.6L693.5 849.2L694.2 846.1L695.1 843.3L696.1 840.8L697.1 838.7L698.3 837L699.6 835.6L701 834.6L702.6 834L704.5 833.8L707.8 834.1L711.1 834.8L714.4 835.9L717.5 837.5L720.5 839.5L723.3 841.9L725.8 844.6L728.1 847.7L730.1 851.1L731.7 854.7L733 858.5L734 862.4L734.6 866.4L734.8 870.4L734.8 873.4Z" fill="#55c3d9"/>
<path d="M774.3 873.4L774.3 870.4L774.5 862.8L775 856.8L775.9 851.4L777 846.4L778.6 841.9L780.4 837.8L782.5 834.1L785 830.9L787.7 828.2L790.7 825.9L794 824.1L797.6 822.8L801.6 822L806.7 821.8L813.4 822.1L820 823L826.6 824.5L832.8 826.6L838.8 829.2L844.3 832.4L849.4 836.1L854 840.1L857.9 844.6L861.2 849.4L863.8 854.4L865.7 859.7L866.9 865L867.2 870.4L867.2 873.4Z" fill="#55c3d9"/>
<path d="M694.1 873.4L694.1 870.4L694.2 865.7L694.4 861.7L694.7 858.1L695.2 854.7L695.8 851.5L696.6 848.6L697.5 846L698.5 843.7L699.6 841.8L700.8 840.1L702.1 838.9L703.5 837.9L705 837.4L706.7 837.2L709.6 837.4L712.4 838L715.2 839.1L718 840.5L720.6 842.4L723 844.6L725.2 847.1L727.2 849.9L729 853L730.4 856.2L731.6 859.7L732.4 863.2L732.9 866.8L733.1 870.4L733.1 873.4Z" fill="#69c5be"/>
<path d="M775.4 873.4L775.4 870.4L775.6 863.3L776.1 857.5L776.9 852.3L778 847.5L779.5 843.2L781.3 839.2L783.3 835.6L785.7 832.4L788.3 829.7L791.2 827.5L794.3 825.7L797.7 824.5L801.5 823.7L806.1 823.5L812.6 823.8L819.1 824.7L825.5 826.1L831.6 828.2L837.5 830.7L842.9 833.8L847.9 837.3L852.4 841.3L856.3 845.6L859.5 850.2L862.1 855.1L863.9 860.1L865.1 865.3L865.4 870.4L865.4 873.4Z" fill="#69c5be"/>
<path d="M696.3 873.4L696.3 870.4L696.4 866.5L696.6 863L697 859.7L697.5 856.6L698.1 853.7L698.9 851.1L699.8 848.7L700.8 846.6L701.9 844.7L703.1 843.2L704.4 842L705.8 841.2L707.3 840.6L708.9 840.5L711.3 840.7L713.7 841.2L716.1 842.2L718.4 843.5L720.7 845.2L722.7 847.2L724.7 849.5L726.4 852L727.9 854.8L729.1 857.7L730.1 860.9L730.8 864L731.3 867.3L731.4 870.4L731.4 873.4Z" fill="#79c5a0"/>
<path d="M776.4 873.4L776.4 870.4L776.6 863.8L777.1 858.3L777.9 853.3L779 848.6L780.4 844.4L782.1 840.5L784.1 837L786.3 833.9L788.8 831.3L791.6 829.1L794.6 827.4L797.8 826.1L801.3 825.4L805.6 825.1L811.9 825.4L818.2 826.3L824.5 827.7L830.5 829.7L836.2 832.2L841.5 835.1L846.4 838.6L850.8 842.4L854.6 846.5L857.8 851L860.4 855.7L862.2 860.6L863.3 865.5L863.7 870.4L863.7 873.4Z" fill="#79c5a0"/>
<path d="M698.5 873.4L698.5 870.4L698.6 867.2L698.8 864.1L699.2 861.2L699.7 858.4L700.3 855.8L701.1 853.4L702.1 851.2L703.1 849.3L704.2 847.6L705.4 846.2L706.8 845.1L708.1 844.3L709.6 843.8L711.1 843.7L713 843.8L715 844.4L717 845.2L718.9 846.4L720.8 847.9L722.5 849.7L724.1 851.8L725.6 854.1L726.8 856.5L727.9 859.2L728.7 862L729.3 864.8L729.7 867.7L729.8 870.4L729.8 873.4Z" fill="#86c680"/>
<path d="M777.5 873.4L777.5 870.4L777.6 864.2L778.1 859L778.9 854.1L779.9 849.7L781.3 845.5L782.9 841.8L784.8 838.4L787 835.4L789.4 832.8L792 830.7L794.8 829L797.9 827.8L801.2 827L805.1 826.8L811.2 827.1L817.4 827.9L823.5 829.3L829.4 831.2L835 833.6L840.2 836.5L845 839.8L849.3 843.5L853.1 847.5L856.2 851.8L858.7 856.3L860.5 861L861.6 865.7L861.9 870.4L861.9 873.4Z" fill="#86c680"/>
<path d="M700.6 873.4L700.6 870.4L700.7 867.8L700.9 865.1L701.3 862.6L701.8 860.2L702.5 857.8L703.3 855.7L704.3 853.7L705.3 851.9L706.5 850.4L707.7 849.1L709 848.1L710.4 847.4L711.8 846.9L713.2 846.8L714.7 847L716.3 847.4L717.9 848.2L719.4 849.3L720.9 850.6L722.3 852.2L723.6 854L724.8 856L725.8 858.3L726.6 860.6L727.3 863L727.8 865.5L728.1 868L728.2 870.4L728.2 873.4Z" fill="#95ca65"/>
<path d="M778.5 873.4L778.5 870.4L778.6 864.6L779.1 859.6L779.8 855L780.9 850.7L782.2 846.7L783.7 843L785.5 839.7L787.6 836.8L789.9 834.3L792.4 832.2L795 830.5L797.9 829.3L801 828.6L804.6 828.4L810.5 828.7L816.5 829.5L822.5 830.8L828.2 832.6L833.7 835L838.9 837.7L843.6 840.9L847.8 844.5L851.5 848.4L854.6 852.5L857 856.9L858.8 861.4L859.9 865.9L860.2 870.4L860.2 873.4Z" fill="#95ca65"/>
<path d="M703.5 873.4L703.5 870.4L703.6 868.2L703.8 866.1L704.1 864L704.6 862L705.2 860.1L705.9 858.4L706.8 856.7L707.7 855.3L708.7 854L709.8 853L710.9 852.2L712.1 851.6L713.3 851.2L714.6 851.1L715.8 851.2L717.1 851.6L718.4 852.2L719.7 853.1L720.9 854.2L722 855.5L723.1 857L724 858.7L724.9 860.5L725.6 862.4L726.1 864.4L726.5 866.4L726.8 868.5L726.8 870.4L726.8 873.4Z" fill="#a4cd4a"/>
<path d="M779.5 873.4L779.5 870.4L779.6 865L780.1 860.3L780.8 855.8L781.7 851.7L783 847.8L784.5 844.2L786.2 841L788.2 838.2L790.3 835.7L792.7 833.7L795.2 832.1L797.9 830.9L800.8 830.2L804.1 830L809.8 830.2L815.7 831L821.5 832.3L827.2 834.1L832.6 836.3L837.6 839L842.2 842.1L846.4 845.5L850 849.3L853 853.3L855.4 857.5L857.2 861.8L858.2 866.2L858.6 870.4L858.6 873.4Z" fill="#a4cd4a"/>
<path d="M706.4 873.4L706.4 870.4L706.4 868.7L706.6 867L706.9 865.4L707.3 863.8L707.8 862.4L708.5 861L709.2 859.7L710 858.6L710.8 857.6L711.8 856.8L712.8 856.1L713.8 855.7L714.8 855.4L715.9 855.3L716.9 855.4L717.9 855.7L718.9 856.2L719.9 856.9L720.8 857.7L721.7 858.7L722.6 859.9L723.3 861.2L724 862.6L724.5 864.1L724.9 865.7L725.3 867.3L725.4 868.9L725.5 870.4L725.5 873.4Z" fill="#b9d237"/>
<path d="M780.5 873.4L780.5 870.4L780.6 865.4L781 860.9L781.7 856.6L782.6 852.6L783.8 848.9L785.2 845.4L786.9 842.3L788.7 839.5L790.8 837.1L793 835.1L795.4 833.5L798 832.4L800.7 831.7L803.6 831.5L809.2 831.8L814.9 832.5L820.6 833.8L826.1 835.5L831.4 837.6L836.3 840.2L840.9 843.2L845 846.5L848.5 850.1L851.5 854L853.9 858L855.6 862.2L856.6 866.4L856.9 870.4L856.9 873.4Z" fill="#b9d237"/>
<path d="M709.2 873.4L709.2 870.4L709.3 869.2L709.4 868L709.6 866.8L710 865.6L710.4 864.5L710.9 863.5L711.5 862.6L712.2 861.8L712.9 861.1L713.7 860.5L714.6 860L715.4 859.7L716.3 859.5L717.2 859.4L717.9 859.5L718.6 859.7L719.4 860L720.1 860.5L720.8 861.2L721.5 861.9L722.1 862.8L722.6 863.7L723.1 864.7L723.5 865.8L723.8 867L724 868.1L724.2 869.3L724.2 870.4L724.2 873.4Z" fill="#cfd927"/>
<path d="M781.4 873.4L781.4 870.4L781.6 865.7L781.9 861.5L782.6 857.4L783.5 853.5L784.6 849.9L786 846.6L787.5 843.5L789.3 840.8L791.2 838.5L793.3 836.5L795.6 835L798 833.9L800.5 833.2L803.2 833L808.5 833.3L814.1 834L819.7 835.2L825.1 836.9L830.2 838.9L835.1 841.4L839.6 844.3L843.6 847.5L847.1 851L850 854.7L852.3 858.6L854 862.6L855 866.6L855.3 870.4L855.3 873.4Z" fill="#cfd927"/>
<path d="M711.2 873.4L711.2 870.4L711.3 869.5L711.4 868.6L711.6 867.7L711.8 866.9L712.1 866.1L712.5 865.3L713 864.6L713.5 864L714 863.5L714.6 863L715.2 862.7L715.9 862.4L716.5 862.3L717.2 862.2L717.7 862.3L718.3 862.5L718.9 862.7L719.4 863.1L720 863.5L720.5 864.1L720.9 864.7L721.4 865.4L721.7 866.2L722 867L722.3 867.9L722.4 868.7L722.5 869.6L722.6 870.4L722.6 873.4Z" fill="#e6e21a"/>
<path d="M782.4 873.4L782.4 870.4L782.5 866.1L782.9 862L783.5 858.1L784.3 854.4L785.4 850.9L786.7 847.7L788.2 844.7L789.8 842.1L791.7 839.8L793.6 837.9L795.7 836.5L798 835.4L800.3 834.7L802.7 834.5L807.9 834.7L813.3 835.4L818.8 836.6L824.1 838.2L829.1 840.2L833.9 842.6L838.3 845.4L842.2 848.5L845.6 851.8L848.5 855.4L850.8 859.1L852.4 862.9L853.4 866.7L853.8 870.4L853.8 873.4Z" fill="#e6e21a"/>
<path d="M713.2 873.4L713.2 870.4L713.2 869.8L713.3 869.2L713.4 868.6L713.6 868.1L713.8 867.5L714.1 867L714.4 866.6L714.7 866.2L715.1 865.8L715.5 865.6L715.9 865.3L716.3 865.2L716.8 865.1L717.2 865L717.6 865.1L718 865.2L718.4 865.3L718.8 865.6L719.1 865.9L719.5 866.3L719.8 866.7L720.1 867.1L720.4 867.6L720.6 868.2L720.8 868.7L720.9 869.3L721 869.9L721 870.4L721 873.4Z" fill="#f6e909"/>
<path d="M783.3 873.4L783.3 870.4L783.4 866.4L783.8 862.5L784.3 858.8L785.1 855.3L786.2 851.9L787.4 848.8L788.8 845.9L790.3 843.4L792.1 841.2L793.9 839.3L795.9 837.9L797.9 836.8L800 836.2L802.2 836L807.3 836.2L812.6 836.9L817.9 838L823.1 839.5L828 841.5L832.7 843.8L837 846.5L840.9 849.4L844.2 852.6L847 856L849.3 859.6L850.9 863.3L851.9 866.9L852.2 870.4L852.2 873.4Z" fill="#f6e909"/>
<path d="M784.2 873.4L784.2 870.4L784.3 866.7L784.6 863.1L785.2 859.5L785.9 856.1L786.9 852.8L788 849.8L789.4 847.1L790.8 844.6L792.4 842.5L794.2 840.7L796 839.3L797.9 838.2L799.8 837.6L801.8 837.4L806.7 837.6L811.9 838.3L817 839.3L822.1 840.8L827 842.7L831.5 844.9L835.8 847.5L839.5 850.3L842.8 853.4L845.6 856.7L847.8 860.1L849.4 863.6L850.4 867.1L850.7 870.4L850.7 873.4Z" fill="#fee403"/>
<path d="M785.2 873.4L785.2 870.4L785.3 866.8L785.6 863.3L786.2 859.8L786.9 856.5L787.8 853.3L789 850.4L790.2 847.7L791.7 845.3L793.3 843.2L795 841.5L796.7 840.1L798.6 839.1L800.5 838.5L802.4 838.3L807.1 838.5L812.1 839.1L817.2 840.2L822.1 841.6L826.8 843.5L831.2 845.6L835.3 848.1L838.9 850.9L842.1 853.9L844.8 857.1L846.9 860.4L848.5 863.8L849.4 867.2L849.7 870.4L849.7 873.4Z" fill="#fcd20a"/>
<path d="M786.2 873.4L786.2 870.4L786.3 866.9L786.6 863.5L787.1 860.1L787.9 856.9L788.8 853.8L789.9 850.9L791.1 848.3L792.5 846L794.1 844L795.7 842.3L797.5 840.9L799.3 840L801.2 839.4L803 839.2L807.6 839.4L812.4 840L817.3 841L822 842.4L826.6 844.2L830.8 846.3L834.8 848.7L838.3 851.4L841.4 854.3L844 857.4L846 860.7L847.5 864L848.4 867.3L848.7 870.4L848.7 873.4Z" fill="#fcbf11"/>
<path d="M787.2 873.4L787.2 870.4L787.3 867L787.6 863.6L788.1 860.4L788.8 857.2L789.7 854.3L790.8 851.5L792 848.9L793.4 846.7L794.9 844.7L796.5 843.1L798.2 841.8L800 840.8L801.8 840.2L803.6 840.1L808 840.3L812.7 840.9L817.4 841.8L822 843.2L826.4 844.9L830.5 847L834.3 849.3L837.7 851.9L840.7 854.8L843.2 857.8L845.2 860.9L846.6 864.2L847.5 867.4L847.8 870.4L847.8 873.4Z" fill="#faaf16"/>
<path d="M788.1 873.4L788.1 870.4L788.2 867.1L788.5 863.8L789 860.7L789.7 857.6L790.6 854.7L791.6 852L792.8 849.5L794.2 847.3L795.7 845.4L797.3 843.8L798.9 842.6L800.7 841.6L802.4 841.1L804.2 840.9L808.5 841.1L813 841.7L817.5 842.6L821.9 844L826.2 845.6L830.2 847.6L833.8 849.9L837.1 852.5L840 855.2L842.4 858.2L844.3 861.2L845.7 864.3L846.6 867.5L846.8 870.4L846.8 873.4Z" fill="#f8a019"/>
<path d="M789.1 873.4L789.1 870.4L789.2 867.2L789.5 864L790 860.9L790.6 858L791.5 855.2L792.5 852.5L793.7 850.1L795 848L796.4 846.1L798 844.6L799.6 843.4L801.3 842.5L803.1 841.9L804.8 841.8L808.9 841.9L813.3 842.5L817.6 843.4L821.9 844.7L826 846.4L829.8 848.3L833.4 850.5L836.5 853L839.3 855.7L841.6 858.5L843.5 861.5L844.8 864.5L845.6 867.5L845.9 870.4L845.9 873.4Z" fill="#f6911d"/>
<path d="M790 873.4L790 870.4L790.1 867.3L790.4 864.2L790.9 861.2L791.5 858.3L792.4 855.6L793.4 853.1L794.5 850.7L795.8 848.7L797.2 846.9L798.7 845.3L800.3 844.2L802 843.3L803.7 842.8L805.4 842.6L809.4 842.8L813.6 843.3L817.7 844.2L821.9 845.5L825.8 847.1L829.5 848.9L832.9 851.1L836 853.5L838.6 856.1L840.9 858.9L842.7 861.7L844 864.7L844.7 867.6L845 870.4L845 873.4Z" fill="#f48020"/>
<path d="M790.9 873.4L790.9 870.4L791 867.4L791.3 864.4L791.8 861.5L792.4 858.7L793.2 856L794.2 853.6L795.3 851.3L796.6 849.3L798 847.5L799.5 846.1L801 844.9L802.6 844.1L804.3 843.6L806 843.4L809.8 843.6L813.8 844.1L817.9 845L821.8 846.2L825.6 847.7L829.2 849.6L832.4 851.7L835.4 854L838 856.5L840.1 859.2L841.9 862L843.1 864.9L843.8 867.7L844.1 870.4L844.1 873.4Z" fill="#f36d22"/>
<path d="M791.8 873.4L791.8 870.4L791.9 867.5L792.2 864.6L792.7 861.8L793.3 859L794.1 856.5L795 854.1L796.1 851.9L797.4 849.9L798.7 848.2L800.2 846.8L801.7 845.7L803.3 844.9L804.9 844.4L806.5 844.2L810.2 844.4L814.1 844.9L818 845.8L821.8 846.9L825.4 848.4L828.8 850.2L832 852.2L834.8 854.5L837.3 856.9L839.4 859.5L841 862.2L842.2 865L843 867.8L843.2 870.4L843.2 873.4Z" fill="#f15a24"/>
<path d="M792.7 873.4L792.7 870.4L792.8 867.6L793.1 864.8L793.5 862L794.2 859.4L794.9 856.9L795.9 854.6L796.9 852.5L798.1 850.6L799.5 848.9L800.9 847.5L802.4 846.5L803.9 845.7L805.5 845.2L807.1 845L810.6 845.2L814.3 845.7L818.1 846.5L821.7 847.7L825.2 849.1L828.5 850.8L831.6 852.8L834.3 855L836.7 857.3L838.7 859.9L840.3 862.5L841.4 865.2L842.1 867.9L842.3 870.4L842.3 873.4Z" fill="#f04b24"/>
<path d="M793.6 873.4L793.6 870.4L793.7 867.6L794 864.9L794.4 862.3L795 859.7L795.8 857.3L796.7 855.1L797.7 853L798.9 851.2L800.2 849.6L801.6 848.3L803 847.2L804.5 846.4L806.1 846L807.7 845.8L811 846L814.6 846.5L818.2 847.3L821.7 848.4L825.1 849.8L828.2 851.4L831.1 853.3L833.7 855.4L836 857.7L837.9 860.2L839.5 862.7L840.6 865.3L841.2 867.9L841.5 870.4L841.5 873.4Z" fill="#ef3c24"/>
<path d="M794.5 873.4L794.5 870.4L794.6 867.7L794.8 865.1L795.3 862.5L795.9 860.1L796.6 857.7L797.5 855.6L798.5 853.6L799.7 851.8L800.9 850.2L802.3 849L803.7 847.9L805.2 847.2L806.7 846.7L808.2 846.6L811.4 846.8L814.9 847.2L818.3 848L821.7 849.1L824.9 850.4L827.9 852L830.7 853.9L833.2 855.9L835.4 858.2L837.2 860.5L838.7 863L839.7 865.5L840.4 868L840.6 870.4L840.6 873.4Z" fill="#ee3024"/>
<path d="M797.5 873.4L797.5 870.4L797.6 868.1L797.9 865.8L798.3 863.6L798.8 861.4L799.5 859.4L800.4 857.5L801.4 855.8L802.5 854.2L803.7 852.9L804.9 851.7L806.3 850.9L807.7 850.2L809.1 849.8L810.6 849.7L813.4 849.8L816.3 850.2L819.2 850.9L822.1 851.8L824.9 853L827.5 854.4L829.9 856L832 857.8L833.9 859.7L835.5 861.8L836.7 863.9L837.6 866.1L838.2 868.3L838.3 870.4L838.3 873.4Z" fill="#ed2524"/>
<path d="M800.6 873.4L800.6 870.4L800.6 868.4L800.9 866.5L801.2 864.6L801.8 862.7L802.5 861L803.3 859.4L804.2 857.9L805.2 856.6L806.4 855.5L807.6 854.5L808.9 853.7L810.2 853.2L811.6 852.9L813 852.7L815.3 852.9L817.7 853.2L820.2 853.8L822.6 854.6L824.9 855.6L827 856.8L829 858.1L830.8 859.7L832.4 861.3L833.7 863.1L834.8 864.9L835.5 866.8L836 868.6L836.1 870.4L836.1 873.4Z" fill="#e92024"/>
<path d="M803.5 873.4L803.5 870.4L803.6 868.8L803.8 867.1L804.2 865.6L804.7 864.1L805.3 862.6L806.1 861.3L807 860.1L808 859L809 858L810.2 857.2L811.4 856.6L812.7 856.1L814 855.9L815.3 855.8L817.2 855.9L819.1 856.2L821.1 856.6L823 857.3L824.9 858.1L826.6 859.1L828.2 860.2L829.7 861.5L830.9 862.9L832 864.3L832.8 865.8L833.4 867.4L833.8 868.9L833.9 870.4L833.9 873.4Z" fill="#e21f26"/>
<path d="M806.5 873.4L806.5 870.4L806.5 869.1L806.7 867.8L807.1 866.6L807.6 865.3L808.2 864.2L808.9 863.1L809.7 862.2L810.7 861.3L811.7 860.5L812.8 859.9L813.9 859.4L815.1 859L816.4 858.8L817.6 858.8L819 858.8L820.5 859.1L822 859.4L823.5 860L824.9 860.6L826.2 861.4L827.4 862.3L828.5 863.3L829.5 864.4L830.3 865.6L830.9 866.8L831.4 868L831.6 869.2L831.7 870.4L831.7 873.4Z" fill="#d61f26"/>
<path d="M808.2 873.4L808.2 870.4L808.3 869.3L808.5 868.2L808.8 867.1L809.2 866.1L809.7 865.1L810.4 864.2L811.1 863.4L812 862.7L812.9 862L813.9 861.5L814.9 861.1L816 860.7L817.1 860.6L818.2 860.5L819.4 860.6L820.6 860.8L821.9 861.1L823.1 861.5L824.3 862.1L825.4 862.8L826.4 863.5L827.3 864.4L828.1 865.3L828.8 866.3L829.3 867.3L829.7 868.4L829.9 869.4L830 870.4L830 873.4Z" fill="#c52026"/>
<path d="M809.5 873.4L809.5 870.4L809.6 869.4L809.8 868.5L810 867.6L810.4 866.7L810.9 865.8L811.4 865L812.1 864.3L812.8 863.7L813.6 863.1L814.4 862.7L815.3 862.3L816.3 862L817.2 861.9L818.2 861.8L819.2 861.9L820.3 862L821.4 862.3L822.5 862.7L823.5 863.2L824.4 863.8L825.3 864.4L826.1 865.2L826.8 866L827.4 866.8L827.8 867.7L828.2 868.6L828.4 869.5L828.4 870.4L828.4 873.4Z" fill="#ae1e24"/>
<path d="M810.8 873.4L810.8 870.4L810.9 869.6L811 868.8L811.3 868L811.6 867.2L812 866.5L812.5 865.9L813 865.2L813.6 864.7L814.3 864.2L815 863.8L815.8 863.5L816.6 863.3L817.4 863.2L818.2 863.1L819.1 863.2L820 863.3L820.9 863.5L821.8 863.9L822.7 864.3L823.5 864.8L824.2 865.3L824.9 866L825.5 866.7L826 867.4L826.4 868.1L826.7 868.9L826.8 869.7L826.9 870.4L826.9 873.4Z" fill="#9d1c20"/>
<path d="M812.2 873.4L812.2 870.4L812.2 869.7L812.3 869.1L812.5 868.4L812.7 867.8L813.1 867.2L813.5 866.7L813.9 866.2L814.4 865.7L815 865.3L815.6 865L816.2 864.7L816.9 864.6L817.5 864.4L818.2 864.4L818.9 864.4L819.7 864.6L820.4 864.8L821.2 865L821.9 865.4L822.5 865.8L823.2 866.2L823.7 866.8L824.2 867.3L824.6 867.9L824.9 868.5L825.2 869.2L825.3 869.8L825.4 870.4L825.4 873.4Z" fill="#961a1e"/>
<path d="M543.2 870.4L549.2 870.4A6 6 0 0 0 546.2 865.2Z" fill="#fff"/>
</g>
<path d="M543.2 870.4L750.5 511.3A414.6 414.6 0 0 1 957.8 870.4" fill="none" stroke="#0a0a0a" stroke-width="1" stroke-linejoin="miter"/>
<path d="M543.2 870.4L957.8 870.4" stroke="#3a3a3a" stroke-width="1.5"/>
<path d="M909.2 870L956.8 870" stroke="#a9a9cc" stroke-width="0.9"/>
<circle cx="612" cy="869.8" r="1.4" fill="#0a0a0a"/>
<circle cx="577.6" cy="810.9" r="2" fill="#0a0a0a"/>
<circle cx="749.5" cy="869.8" r="1.4" fill="#0a0a0a"/>
<circle cx="646.3" cy="691.8" r="2" fill="#0a0a0a"/>
<circle cx="887" cy="869.8" r="1.4" fill="#0a0a0a"/>
<circle cx="715.1" cy="572.7" r="2" fill="#0a0a0a"/>
<circle cx="932.8" cy="728.6" r="2" fill="#0a0a0a"/>
<circle cx="860.8" cy="603.9" r="2" fill="#0a0a0a"/>
<circle cx="750.5" cy="511.3" r="2" fill="#0a0a0a"/>
<text x="613.2" y="890.5" class="t" text-anchor="middle">0.1</text>
<text x="574.4" y="808.3" class="t" text-anchor="end">0.1</text>
<text x="750.7" y="890.5" class="t" text-anchor="middle">0.3</text>
<text x="644.7" y="689.8" class="t" text-anchor="end">0.3</text>
<text x="888.2" y="890.5" class="t" text-anchor="middle">0.5</text>
<text x="712.9" y="571.1" class="t" text-anchor="end">0.5</text>
<text x="965.9" y="871.2" class="t">0</text>
<text x="940.8" y="726.6" class="t">20</text>
<text x="866.9" y="599.5" class="t">40</text>
<text x="754.7" y="505" class="t">60</text>
<text x="771.4" y="914.9" class="m">β</text>
<text x="625.2" y="669.2" class="m">β</text>
<text transform="translate(898.4 658.6) scale(1.17 1)" class="m">γ</text>
<text x="735.2" y="630.4" class="s w">0</text>
<text x="757.2" y="641.2" class="ss w">2</text>
<text x="763.2" y="618.8" class="sp w">+</text>
<text transform="translate(680.2 681.1) scale(1.07 1)" class="e w">E=0.74 MeV</text>
</g>
<g>
<clipPath id="c5"><path d="M1086.2 870.4L1500.8 870.4A414.6 414.6 0 0 0 1293.5 511.3Z"/></clipPath>
<path d="M1086.2 870.4L1500.8 870.4A414.6 414.6 0 0 0 1293.5 511.3Z" fill="#2a2d7c"/>
<g clip-path="url(#c5)">
<path d="M1192 873.4L1192 870.4L1192.1 847.3L1192.5 835.9L1193 826.8L1193.9 819.2L1194.9 812.7L1196.2 807.1L1197.8 802.2L1199.6 798.1L1201.7 794.6L1204.1 791.8L1206.9 789.6L1210.3 788L1214.6 787.1L1223.2 786.8L1230.3 787.3L1237.4 788.9L1244.2 791.5L1250.8 795.1L1257 799.6L1262.9 805L1268.2 811.3L1272.9 818.3L1277.1 825.9L1280.5 834.1L1283.2 842.8L1285.2 851.8L1286.4 861L1286.8 870.4L1286.8 873.4Z" fill="#27348a"/>
<path d="M1295.2 873.4L1295.2 870.4L1295.4 844L1296.1 830.9L1297.2 820.6L1298.8 811.9L1300.9 804.4L1303.4 798L1306.4 792.4L1309.9 787.7L1314 783.7L1318.8 780.5L1324.3 778L1330.8 776.2L1339.2 775.2L1355.9 774.8L1368 775.4L1380 777.2L1391.7 780.2L1402.9 784.3L1413.5 789.5L1423.4 795.7L1432.5 802.8L1440.6 810.8L1447.6 819.5L1453.5 828.9L1458.1 838.8L1461.5 849.1L1463.5 859.7L1464.2 870.4L1464.2 873.4Z" fill="#27348a"/>
<path d="M1199.4 873.4L1199.4 870.4L1199.5 852.2L1199.9 841.9L1200.4 833.6L1201.1 826.4L1202.1 820.1L1203.2 814.6L1204.6 809.9L1206.2 805.8L1208.1 802.3L1210.2 799.5L1212.6 797.3L1215.5 795.8L1218.9 794.8L1225.1 794.5L1231.5 795L1237.8 796.4L1244 798.8L1249.9 802L1255.5 806.1L1260.7 811.1L1265.5 816.7L1269.8 823.1L1273.5 830L1276.6 837.5L1279 845.3L1280.8 853.5L1281.9 861.9L1282.2 870.4L1282.2 873.4Z" fill="#2a4198"/>
<path d="M1300.6 873.4L1300.6 870.4L1300.8 848.7L1301.5 836.9L1302.7 827.4L1304.3 819.4L1306.4 812.3L1309 806.2L1312 801L1315.6 796.4L1319.7 792.6L1324.4 789.5L1329.9 787.1L1336.2 785.4L1344.2 784.3L1358.8 784L1369.5 784.5L1380 786.2L1390.2 788.8L1400.1 792.6L1409.4 797.2L1418.1 802.8L1426 809.3L1433.1 816.5L1439.3 824.4L1444.4 832.9L1448.5 841.9L1451.5 851.2L1453.2 860.7L1453.8 870.4L1453.8 873.4Z" fill="#2a4198"/>
<path d="M1205.1 873.4L1205.1 870.4L1205.2 855.7L1205.5 846.4L1206 838.6L1206.7 831.8L1207.5 825.8L1208.6 820.4L1209.8 815.7L1211.3 811.7L1212.9 808.2L1214.7 805.4L1216.8 803.2L1219.2 801.7L1222 800.7L1226.5 800.4L1232.4 800.9L1238.1 802.2L1243.8 804.3L1249.2 807.4L1254.3 811.1L1259.1 815.7L1263.4 820.9L1267.4 826.8L1270.7 833.2L1273.6 840L1275.8 847.3L1277.4 854.8L1278.4 862.6L1278.7 870.4L1278.7 873.4Z" fill="#33489e"/>
<path d="M1304.8 873.4L1304.8 870.4L1305 852L1305.7 841.3L1306.9 832.5L1308.6 824.9L1310.7 818.3L1313.3 812.5L1316.4 807.4L1320 803.1L1324.1 799.4L1328.8 796.4L1334.2 794.1L1340.4 792.4L1348 791.4L1361.1 791.1L1370.6 791.6L1379.9 793L1389.1 795.5L1397.9 798.9L1406.2 803.2L1414 808.4L1421.1 814.3L1427.4 820.9L1432.9 828.2L1437.5 836L1441.1 844.2L1443.8 852.7L1445.4 861.5L1445.9 870.4L1445.9 873.4Z" fill="#33489e"/>
<path d="M1210 873.4L1210 870.4L1210 858.4L1210.3 850L1210.7 842.8L1211.3 836.3L1212.1 830.5L1213 825.3L1214.1 820.7L1215.4 816.7L1216.8 813.2L1218.4 810.4L1220.2 808.2L1222.2 806.7L1224.5 805.7L1227.7 805.4L1233.1 805.8L1238.4 807L1243.6 809.1L1248.6 811.8L1253.3 815.4L1257.7 819.6L1261.7 824.4L1265.3 829.9L1268.4 835.8L1271 842.2L1273.1 848.9L1274.6 855.9L1275.5 863.1L1275.8 870.4L1275.8 873.4Z" fill="#3453a5"/>
<path d="M1308.3 873.4L1308.3 870.4L1308.5 854.6L1309.2 844.8L1310.4 836.6L1312.1 829.5L1314.3 823.2L1316.9 817.7L1320.1 812.8L1323.7 808.6L1327.8 805.1L1332.5 802.2L1337.8 799.9L1343.9 798.3L1351.2 797.3L1363 797L1371.5 797.5L1379.9 798.8L1388.1 801.1L1396 804.3L1403.5 808.3L1410.5 813L1416.9 818.5L1422.6 824.6L1427.5 831.4L1431.7 838.6L1434.9 846.2L1437.3 854.1L1438.7 862.2L1439.2 870.4L1439.2 873.4Z" fill="#3453a5"/>
<path d="M1214.2 873.4L1214.2 870.4L1214.3 860.6L1214.5 853.1L1214.9 846.3L1215.4 840.2L1216.1 834.6L1216.9 829.5L1217.9 825L1219 821L1220.2 817.6L1221.5 814.8L1223 812.6L1224.6 811.1L1226.4 810.1L1228.8 809.8L1233.8 810.2L1238.7 811.3L1243.5 813.2L1248.1 815.8L1252.4 819.1L1256.5 823L1260.2 827.5L1263.5 832.6L1266.4 838.2L1268.8 844.1L1270.7 850.4L1272.1 856.9L1272.9 863.6L1273.2 870.4L1273.2 873.4Z" fill="#3c57a7"/>
<path d="M1311.4 873.4L1311.4 870.4L1311.6 856.7L1312.3 847.8L1313.6 840.2L1315.3 833.5L1317.5 827.5L1320.2 822.2L1323.3 817.6L1327 813.5L1331.1 810.1L1335.8 807.3L1341 805.1L1346.9 803.5L1353.9 802.6L1364.6 802.2L1372.3 802.7L1379.9 804L1387.3 806.1L1394.4 809L1401.2 812.7L1407.4 817.1L1413.2 822.2L1418.3 827.9L1422.8 834.1L1426.5 840.8L1429.5 847.9L1431.6 855.2L1432.9 862.8L1433.3 870.4L1433.3 873.4Z" fill="#3c57a7"/>
<path d="M1223.5 873.4L1223.5 870.4L1223.5 862.8L1223.7 856.9L1224 851.6L1224.4 846.8L1225 842.4L1225.6 838.5L1226.4 835L1227.2 831.9L1228.2 829.2L1229.3 827L1230.5 825.3L1231.8 824.1L1233.2 823.3L1235.1 823.1L1238.9 823.4L1242.7 824.3L1246.4 825.7L1250 827.8L1253.4 830.3L1256.5 833.4L1259.4 837L1262 840.9L1264.2 845.2L1266.1 849.9L1267.6 854.8L1268.6 859.9L1269.3 865.1L1269.5 870.4L1269.5 873.4Z" fill="#4068b5"/>
<path d="M1314.1 873.4L1314.1 870.4L1314.4 858.6L1315.1 850.4L1316.4 843.3L1318.1 837L1320.4 831.3L1323.1 826.3L1326.3 821.8L1329.9 817.9L1334.1 814.6L1338.7 811.9L1343.9 809.7L1349.7 808.2L1356.4 807.3L1366.1 807L1373.1 807.4L1379.9 808.6L1386.6 810.5L1393 813.3L1399 816.7L1404.7 820.8L1409.9 825.6L1414.5 830.9L1418.5 836.7L1421.8 842.9L1424.5 849.5L1426.4 856.3L1427.6 863.3L1428 870.4L1428 873.4Z" fill="#4068b5"/>
<path d="M1232 873.4L1232 870.4L1232 864.7L1232.2 860.4L1232.4 856.5L1232.7 852.9L1233.1 849.7L1233.6 846.7L1234.2 844.1L1234.9 841.8L1235.6 839.9L1236.4 838.2L1237.3 837L1238.3 836.1L1239.4 835.5L1240.8 835.3L1243.7 835.5L1246.5 836.2L1249.2 837.3L1251.8 838.8L1254.3 840.7L1256.6 843L1258.7 845.6L1260.6 848.5L1262.2 851.7L1263.6 855.2L1264.7 858.8L1265.4 862.6L1265.9 866.5L1266.1 870.4L1266.1 873.4Z" fill="#4585c8"/>
<path d="M1316.7 873.4L1316.7 870.4L1317 860.2L1317.7 852.7L1319 846.1L1320.8 840.1L1323 834.8L1325.8 829.9L1329 825.6L1332.7 821.9L1336.8 818.7L1341.5 816.1L1346.6 814L1352.2 812.5L1358.7 811.6L1367.5 811.3L1373.7 811.7L1379.9 812.8L1385.9 814.7L1391.6 817.2L1397.1 820.4L1402.1 824.2L1406.8 828.6L1410.9 833.6L1414.6 839L1417.6 844.8L1419.9 850.9L1421.7 857.3L1422.7 863.8L1423.1 870.4L1423.1 873.4Z" fill="#4585c8"/>
<path d="M1239.9 873.4L1239.9 870.4L1239.9 866.6L1240 863.6L1240.2 861L1240.4 858.6L1240.7 856.4L1241.1 854.4L1241.5 852.6L1242 851.1L1242.5 849.8L1243.1 848.7L1243.7 847.8L1244.4 847.2L1245.2 846.8L1246.2 846.7L1248.1 846.8L1249.9 847.3L1251.7 848L1253.4 849L1255.1 850.3L1256.6 851.9L1258 853.6L1259.3 855.6L1260.3 857.8L1261.2 860.1L1262 862.6L1262.5 865.1L1262.8 867.7L1262.9 870.4L1262.9 873.4Z" fill="#3bbdec"/>
<path d="M1319.1 873.4L1319.1 870.4L1319.4 861.5L1320.1 854.7L1321.4 848.6L1323.2 843L1325.5 837.9L1328.3 833.3L1331.6 829.2L1335.3 825.6L1339.4 822.5L1344 820L1349.1 818L1354.6 816.6L1360.8 815.7L1368.8 815.4L1374.4 815.7L1379.9 816.8L1385.2 818.5L1390.4 820.8L1395.2 823.8L1399.8 827.4L1403.9 831.5L1407.7 836.1L1410.9 841.1L1413.6 846.5L1415.7 852.2L1417.3 858.2L1418.2 864.2L1418.5 870.4L1418.5 873.4Z" fill="#3bbdec"/>
<path d="M1241.7 873.4L1241.7 870.4L1241.7 867.8L1241.8 865.6L1241.9 863.6L1242.2 861.7L1242.4 860L1242.8 858.4L1243.2 857L1243.6 855.7L1244.1 854.6L1244.7 853.7L1245.3 853L1245.9 852.5L1246.6 852.2L1247.4 852.1L1248.7 852.2L1250 852.5L1251.3 853.1L1252.5 853.9L1253.7 854.9L1254.8 856.1L1255.8 857.5L1256.7 859.1L1257.5 860.8L1258.2 862.6L1258.7 864.5L1259.1 866.4L1259.3 868.4L1259.4 870.4L1259.4 873.4Z" fill="#55c3d9"/>
<path d="M1321 873.4L1321 870.4L1321.3 862.1L1322.1 855.6L1323.3 849.8L1325.1 844.4L1327.3 839.5L1330 835L1333.2 831.1L1336.8 827.6L1340.8 824.6L1345.3 822.1L1350.1 820.1L1355.4 818.7L1361.3 817.9L1368.8 817.6L1374.1 818L1379.3 818.9L1384.4 820.6L1389.3 822.9L1394 825.7L1398.3 829.2L1402.3 833.1L1405.9 837.6L1409 842.4L1411.5 847.6L1413.6 853.1L1415.1 858.7L1416 864.6L1416.3 870.4L1416.3 873.4Z" fill="#55c3d9"/>
<path d="M1243.4 873.4L1243.4 870.4L1243.4 868.8L1243.5 867.3L1243.6 865.9L1243.9 864.5L1244.1 863.3L1244.5 862.1L1244.9 861L1245.3 860.1L1245.8 859.3L1246.3 858.6L1246.8 858L1247.4 857.6L1248 857.4L1248.6 857.3L1249.4 857.4L1250.1 857.7L1250.9 858.1L1251.7 858.7L1252.4 859.4L1253.1 860.3L1253.7 861.3L1254.3 862.4L1254.7 863.6L1255.1 864.9L1255.5 866.3L1255.7 867.7L1255.9 869.1L1255.9 870.4L1255.9 873.4Z" fill="#69c5be"/>
<path d="M1322.9 873.4L1322.9 870.4L1323.2 862.7L1323.9 856.5L1325.2 850.9L1326.9 845.8L1329.1 841L1331.7 836.7L1334.8 832.9L1338.3 829.5L1342.2 826.5L1346.5 824.1L1351.2 822.2L1356.2 820.9L1361.9 820.1L1368.8 819.8L1373.8 820.1L1378.7 821.1L1383.6 822.7L1388.3 824.8L1392.7 827.6L1396.9 830.9L1400.7 834.7L1404.1 839L1407.1 843.6L1409.6 848.6L1411.5 853.9L1413 859.3L1413.8 864.9L1414.1 870.4L1414.1 873.4Z" fill="#69c5be"/>
<path d="M1246.2 873.4L1246.2 870.4L1246.2 869.7L1246.3 869L1246.4 868.3L1246.5 867.7L1246.7 867.1L1246.9 866.5L1247.1 866L1247.3 865.5L1247.6 865.1L1247.9 864.8L1248.2 864.5L1248.5 864.3L1248.9 864.2L1249.2 864.2L1249.5 864.2L1249.8 864.3L1250.1 864.5L1250.4 864.8L1250.7 865.2L1251 865.6L1251.3 866.1L1251.5 866.6L1251.7 867.2L1251.9 867.8L1252 868.5L1252.1 869.1L1252.2 869.8L1252.2 870.4L1252.2 873.4Z" fill="#79c5a0"/>
<path d="M1324.8 873.4L1324.8 870.4L1325 863.3L1325.8 857.4L1327 852L1328.6 847.1L1330.8 842.5L1333.3 838.3L1336.3 834.6L1339.7 831.3L1343.5 828.5L1347.6 826.1L1352.1 824.3L1357 823L1362.3 822.2L1368.8 821.9L1373.5 822.2L1378.2 823.1L1382.8 824.7L1387.3 826.8L1391.6 829.4L1395.5 832.6L1399.2 836.3L1402.4 840.4L1405.3 844.8L1407.6 849.6L1409.5 854.6L1410.9 859.8L1411.7 865.1L1412 870.4L1412 873.4Z" fill="#79c5a0"/>
<path d="M1326.6 873.4L1326.6 870.4L1326.9 863.8L1327.6 858.2L1328.7 853.1L1330.4 848.3L1332.4 843.9L1334.9 839.9L1337.8 836.3L1341.1 833.1L1344.8 830.4L1348.8 828.1L1353.1 826.3L1357.7 825L1362.8 824.2L1368.8 824L1373.2 824.3L1377.7 825.2L1382.1 826.6L1386.3 828.7L1390.4 831.2L1394.2 834.3L1397.7 837.8L1400.8 841.7L1403.5 846L1405.7 850.6L1407.5 855.4L1408.8 860.4L1409.6 865.4L1409.9 870.4L1409.9 873.4Z" fill="#86c680"/>
<path d="M1328.4 873.4L1328.4 870.4L1328.6 864.3L1329.3 859L1330.5 854.1L1332 849.6L1334.1 845.3L1336.5 841.5L1339.3 838L1342.5 834.9L1346 832.2L1349.8 830L1354 828.3L1358.4 827L1363.2 826.3L1368.8 826L1372.9 826.3L1377.2 827.1L1381.4 828.6L1385.4 830.5L1389.3 833L1392.9 835.9L1396.2 839.3L1399.1 843L1401.7 847.1L1403.9 851.5L1405.6 856.1L1406.8 860.9L1407.6 865.7L1407.9 870.4L1407.9 873.4Z" fill="#95ca65"/>
<path d="M1330.1 873.4L1330.1 870.4L1330.4 864.8L1331 859.8L1332.1 855.1L1333.7 850.7L1335.6 846.7L1338 843L1340.7 839.6L1343.8 836.6L1347.2 834L1350.9 831.9L1354.9 830.2L1359.1 829L1363.7 828.2L1368.8 828L1372.7 828.3L1376.7 829.1L1380.6 830.4L1384.5 832.3L1388.2 834.7L1391.6 837.5L1394.7 840.7L1397.6 844.3L1400 848.3L1402.1 852.4L1403.7 856.8L1404.9 861.4L1405.6 865.9L1405.9 870.4L1405.9 873.4Z" fill="#a4cd4a"/>
<path d="M1331.9 873.4L1331.9 870.4L1332.1 865.2L1332.7 860.5L1333.8 856.1L1335.3 851.9L1337.2 848L1339.5 844.4L1342.1 841.2L1345.1 838.3L1348.3 835.8L1351.9 833.7L1355.7 832.1L1359.8 830.9L1364 830.2L1368.8 829.9L1372.4 830.2L1376.2 831L1380 832.3L1383.6 834.1L1387.1 836.3L1390.3 839L1393.3 842.1L1396 845.6L1398.3 849.3L1400.3 853.3L1401.9 857.5L1403 861.8L1403.7 866.2L1403.9 870.4L1403.9 873.4Z" fill="#b9d237"/>
<path d="M1333.5 873.4L1333.5 870.4L1333.7 865.6L1334.4 861.2L1335.4 857L1336.9 853L1338.7 849.3L1340.9 845.8L1343.4 842.7L1346.3 839.9L1349.5 837.5L1352.9 835.5L1356.5 833.9L1360.4 832.8L1364.4 832.1L1368.8 831.9L1372.2 832.1L1375.8 832.9L1379.3 834.1L1382.7 835.8L1386 838L1389.1 840.5L1391.9 843.5L1394.5 846.8L1396.7 850.4L1398.6 854.2L1400 858.2L1401.1 862.3L1401.8 866.4L1402 870.4L1402 873.4Z" fill="#cfd927"/>
<path d="M1335.2 873.4L1335.2 870.4L1335.4 866L1336 861.8L1337 857.8L1338.4 854.1L1340.2 850.5L1342.3 847.2L1344.8 844.2L1347.5 841.5L1350.5 839.2L1353.8 837.3L1357.3 835.7L1360.9 834.6L1364.8 834L1368.8 833.7L1372 834L1375.3 834.7L1378.6 835.9L1381.9 837.5L1385 839.6L1387.9 842L1390.6 844.9L1393 848L1395.1 851.4L1396.9 855.1L1398.3 858.9L1399.3 862.8L1399.9 866.7L1400.1 870.4L1400.1 873.4Z" fill="#e6e21a"/>
<path d="M1336.8 873.4L1336.8 870.4L1337 866.4L1337.6 862.5L1338.6 858.7L1339.9 855.1L1341.6 851.7L1343.7 848.5L1346 845.6L1348.7 843.1L1351.6 840.8L1354.7 839L1358 837.5L1361.5 836.4L1365.1 835.8L1368.8 835.6L1371.8 835.8L1374.9 836.5L1378 837.6L1381.1 839.2L1384 841.2L1386.7 843.5L1389.3 846.2L1391.5 849.2L1393.5 852.4L1395.2 855.9L1396.5 859.5L1397.5 863.2L1398 866.9L1398.2 870.4L1398.2 873.4Z" fill="#f6e909"/>
<path d="M1338.4 873.4L1338.4 870.4L1338.6 866.7L1339.2 863.1L1340.1 859.5L1341.4 856.1L1343.1 852.8L1345 849.8L1347.3 847.1L1349.8 844.6L1352.6 842.5L1355.6 840.7L1358.8 839.3L1362 838.2L1365.4 837.6L1368.8 837.4L1371.6 837.6L1374.5 838.3L1377.4 839.3L1380.3 840.8L1383 842.7L1385.6 844.9L1388 847.5L1390.1 850.3L1392 853.4L1393.5 856.7L1394.8 860.1L1395.7 863.6L1396.2 867.1L1396.4 870.4L1396.4 873.4Z" fill="#fee403"/>
<path d="M1339.6 873.4L1339.6 870.4L1339.8 866.8L1340.3 863.3L1341.2 859.9L1342.5 856.5L1344 853.4L1345.9 850.5L1348.1 847.8L1350.6 845.4L1353.2 843.4L1356.1 841.6L1359.1 840.3L1362.3 839.3L1365.5 838.7L1368.7 838.5L1371.4 838.7L1374.2 839.3L1377 840.4L1379.8 841.8L1382.4 843.6L1384.9 845.8L1387.2 848.2L1389.2 851L1391 854L1392.5 857.1L1393.7 860.5L1394.6 863.8L1395.1 867.2L1395.3 870.4L1395.3 873.4Z" fill="#fcd20a"/>
<path d="M1340.7 873.4L1340.7 870.4L1340.9 866.9L1341.4 863.5L1342.3 860.2L1343.5 857L1345 854L1346.8 851.2L1348.9 848.6L1351.3 846.3L1353.8 844.3L1356.6 842.6L1359.4 841.3L1362.5 840.3L1365.6 839.7L1368.7 839.5L1371.2 839.7L1373.9 840.3L1376.6 841.4L1379.3 842.7L1381.8 844.5L1384.2 846.6L1386.4 849L1388.4 851.6L1390.1 854.5L1391.6 857.6L1392.7 860.8L1393.6 864.1L1394.1 867.3L1394.2 870.4L1394.2 873.4Z" fill="#fcbf11"/>
<path d="M1341.9 873.4L1341.9 870.4L1342 867.1L1342.5 863.8L1343.4 860.5L1344.5 857.5L1346 854.5L1347.7 851.8L1349.7 849.3L1351.9 847.1L1354.4 845.1L1357 843.5L1359.8 842.2L1362.7 841.3L1365.6 840.8L1368.6 840.6L1371.1 840.8L1373.7 841.4L1376.3 842.3L1378.8 843.7L1381.3 845.4L1383.6 847.4L1385.7 849.7L1387.6 852.3L1389.2 855L1390.6 858L1391.7 861.1L1392.5 864.3L1393 867.4L1393.2 870.4L1393.2 873.4Z" fill="#faaf16"/>
<path d="M1343 873.4L1343 870.4L1343.1 867.2L1343.6 864L1344.4 860.9L1345.5 857.9L1346.9 855.1L1348.6 852.4L1350.5 850L1352.6 847.9L1355 846L1357.5 844.4L1360.1 843.2L1362.9 842.3L1365.7 841.8L1368.6 841.6L1370.9 841.8L1373.4 842.4L1375.9 843.3L1378.4 844.6L1380.7 846.2L1382.9 848.2L1384.9 850.4L1386.8 852.9L1388.3 855.6L1389.7 858.4L1390.7 861.4L1391.5 864.5L1392 867.5L1392.1 870.4L1392.1 873.4Z" fill="#f8a019"/>
<path d="M1344.1 873.4L1344.1 870.4L1344.2 867.3L1344.7 864.2L1345.5 861.2L1346.5 858.3L1347.8 855.6L1349.4 853.1L1351.2 850.7L1353.3 848.7L1355.5 846.9L1357.9 845.4L1360.4 844.2L1363.1 843.3L1365.8 842.8L1368.5 842.6L1370.8 842.8L1373.2 843.3L1375.6 844.2L1377.9 845.5L1380.1 847.1L1382.2 849L1384.2 851.1L1385.9 853.5L1387.5 856.1L1388.7 858.9L1389.8 861.7L1390.5 864.7L1390.9 867.6L1391.1 870.4L1391.1 873.4Z" fill="#f6911d"/>
<path d="M1345.2 873.4L1345.2 870.4L1345.3 867.4L1345.8 864.4L1346.5 861.6L1347.5 858.8L1348.7 856.1L1350.3 853.7L1352 851.5L1353.9 849.5L1356.1 847.7L1358.4 846.3L1360.8 845.1L1363.3 844.3L1365.9 843.8L1368.5 843.6L1370.6 843.8L1372.9 844.3L1375.2 845.2L1377.4 846.4L1379.6 847.9L1381.6 849.7L1383.5 851.8L1385.1 854.1L1386.6 856.6L1387.8 859.3L1388.8 862.1L1389.5 864.9L1389.9 867.7L1390.1 870.4L1390.1 873.4Z" fill="#f48020"/>
<path d="M1346.2 873.4L1346.2 870.4L1346.4 867.5L1346.8 864.7L1347.5 861.9L1348.4 859.2L1349.6 856.7L1351.1 854.3L1352.7 852.1L1354.6 850.2L1356.6 848.5L1358.8 847.1L1361.1 846L1363.5 845.2L1365.9 844.8L1368.4 844.6L1370.5 844.8L1372.7 845.3L1374.8 846.1L1377 847.3L1379 848.7L1381 850.5L1382.8 852.5L1384.4 854.7L1385.8 857.1L1386.9 859.7L1387.9 862.4L1388.5 865.1L1388.9 867.8L1389.1 870.4L1389.1 873.4Z" fill="#f36d22"/>
<path d="M1347.3 873.4L1347.3 870.4L1347.4 867.6L1347.8 864.9L1348.5 862.2L1349.4 859.6L1350.5 857.2L1351.9 854.9L1353.5 852.8L1355.2 851L1357.2 849.4L1359.2 848L1361.4 847L1363.7 846.2L1366 845.7L1368.4 845.6L1370.3 845.7L1372.4 846.2L1374.5 847L1376.6 848.1L1378.5 849.6L1380.4 851.2L1382.1 853.2L1383.6 855.3L1384.9 857.6L1386 860.1L1386.9 862.7L1387.6 865.3L1388 867.9L1388.1 870.4L1388.1 873.4Z" fill="#f15a24"/>
<path d="M1348.3 873.4L1348.3 870.4L1348.5 867.7L1348.8 865.1L1349.5 862.5L1350.3 860L1351.4 857.7L1352.7 855.5L1354.2 853.5L1355.9 851.7L1357.7 850.2L1359.6 848.9L1361.7 847.9L1363.9 847.1L1366.1 846.7L1368.3 846.5L1370.2 846.7L1372.2 847.1L1374.2 847.9L1376.1 849L1378 850.4L1379.7 852L1381.4 853.8L1382.8 855.9L1384.1 858.1L1385.2 860.5L1386 863L1386.6 865.5L1387 868L1387.1 870.4L1387.1 873.4Z" fill="#f04b24"/>
<path d="M1349.4 873.4L1349.4 870.4L1349.5 867.8L1349.9 865.3L1350.4 862.8L1351.2 860.4L1352.3 858.2L1353.5 856.1L1354.9 854.2L1356.5 852.5L1358.2 851L1360.1 849.7L1362 848.8L1364.1 848L1366.1 847.6L1368.3 847.5L1370 847.6L1371.9 848.1L1373.8 848.8L1375.7 849.8L1377.5 851.1L1379.1 852.7L1380.7 854.5L1382.1 856.5L1383.3 858.6L1384.3 860.9L1385.1 863.3L1385.7 865.7L1386 868.1L1386.2 870.4L1386.2 873.4Z" fill="#ef3c24"/>
<path d="M1350.4 873.4L1350.4 870.4L1350.5 867.9L1350.8 865.5L1351.4 863.1L1352.2 860.9L1353.1 858.7L1354.3 856.7L1355.6 854.8L1357.1 853.2L1358.7 851.8L1360.5 850.6L1362.3 849.6L1364.2 849L1366.2 848.5L1368.2 848.4L1369.9 848.5L1371.7 849L1373.5 849.7L1375.3 850.7L1376.9 851.9L1378.5 853.4L1380 855.1L1381.3 857L1382.5 859.1L1383.4 861.3L1384.2 863.5L1384.8 865.9L1385.1 868.2L1385.2 870.4L1385.2 873.4Z" fill="#ee3024"/>
<path d="M1352.6 873.4L1352.6 870.4L1352.7 868.3L1353 866.1L1353.5 864.1L1354.2 862.1L1355 860.2L1356.1 858.5L1357.2 856.9L1358.6 855.4L1360 854.2L1361.6 853.2L1363.2 852.3L1364.9 851.8L1366.7 851.4L1368.4 851.3L1369.9 851.4L1371.4 851.8L1373 852.4L1374.5 853.3L1376 854.3L1377.3 855.6L1378.6 857.1L1379.7 858.8L1380.7 860.6L1381.5 862.5L1382.2 864.4L1382.7 866.5L1382.9 868.5L1383 870.4L1383 873.4Z" fill="#ed2524"/>
<path d="M1354.8 873.4L1354.8 870.4L1354.9 868.6L1355.1 866.8L1355.6 865L1356.2 863.3L1356.9 861.7L1357.8 860.2L1358.9 858.9L1360 857.7L1361.3 856.6L1362.6 855.7L1364.1 855L1365.6 854.5L1367.1 854.2L1368.7 854.1L1369.9 854.2L1371.2 854.5L1372.5 855.1L1373.8 855.8L1375 856.7L1376.1 857.8L1377.2 859.1L1378.1 860.5L1378.9 862L1379.6 863.6L1380.2 865.3L1380.6 867.1L1380.8 868.8L1380.9 870.4L1380.9 873.4Z" fill="#e92024"/>
<path d="M1356.9 873.4L1356.9 870.4L1357 868.9L1357.2 867.4L1357.6 866L1358.1 864.6L1358.8 863.2L1359.6 862L1360.4 860.9L1361.4 859.9L1362.5 859L1363.7 858.3L1365 857.7L1366.2 857.3L1367.6 857L1368.9 856.9L1369.9 857L1370.9 857.3L1372 857.7L1373 858.3L1374 859.1L1374.9 860L1375.8 861L1376.5 862.2L1377.2 863.5L1377.8 864.8L1378.2 866.2L1378.5 867.6L1378.7 869.1L1378.8 870.4L1378.8 873.4Z" fill="#e21f26"/>
<path d="M1359.1 873.4L1359.1 870.4L1359.1 869.2L1359.3 868L1359.6 866.9L1360.1 865.8L1360.6 864.7L1361.3 863.7L1362 862.8L1362.9 862L1363.8 861.3L1364.8 860.8L1365.8 860.3L1366.9 860L1368 859.8L1369.1 859.7L1369.9 859.8L1370.7 860L1371.5 860.3L1372.3 860.8L1373 861.4L1373.7 862.1L1374.4 863L1375 863.9L1375.5 864.9L1375.9 866L1376.3 867.1L1376.5 868.2L1376.7 869.3L1376.7 870.4L1376.7 873.4Z" fill="#d61f26"/>
<path d="M1360.5 873.4L1360.5 870.4L1360.5 869.4L1360.7 868.4L1361 867.4L1361.3 866.5L1361.8 865.6L1362.4 864.7L1363 864L1363.8 863.3L1364.6 862.7L1365.4 862.2L1366.3 861.8L1367.3 861.5L1368.2 861.4L1369.2 861.3L1369.8 861.4L1370.5 861.6L1371.2 861.9L1371.8 862.3L1372.5 862.8L1373.1 863.4L1373.6 864.1L1374.1 864.9L1374.5 865.7L1374.9 866.6L1375.2 867.6L1375.4 868.5L1375.5 869.5L1375.6 870.4L1375.6 873.4Z" fill="#c52026"/>
<path d="M1361.6 873.4L1361.6 870.4L1361.7 869.5L1361.8 868.6L1362.1 867.8L1362.4 867L1362.8 866.2L1363.3 865.5L1363.9 864.8L1364.5 864.2L1365.2 863.7L1365.9 863.3L1366.7 863L1367.5 862.7L1368.4 862.6L1369.2 862.5L1369.8 862.6L1370.3 862.7L1370.9 863L1371.5 863.3L1372 863.8L1372.6 864.3L1373 864.9L1373.5 865.6L1373.8 866.3L1374.1 867.1L1374.4 867.9L1374.6 868.8L1374.7 869.6L1374.7 870.4L1374.7 873.4Z" fill="#ae1e24"/>
<path d="M1362.8 873.4L1362.8 870.4L1362.8 869.7L1362.9 868.9L1363.1 868.2L1363.4 867.5L1363.8 866.8L1364.2 866.2L1364.7 865.7L1365.2 865.2L1365.8 864.7L1366.4 864.4L1367.1 864.1L1367.8 863.9L1368.5 863.8L1369.2 863.7L1369.7 863.8L1370.2 863.9L1370.7 864.1L1371.1 864.4L1371.6 864.8L1372 865.2L1372.4 865.8L1372.8 866.3L1373.1 867L1373.4 867.6L1373.6 868.3L1373.8 869L1373.8 869.7L1373.9 870.4L1373.9 873.4Z" fill="#9d1c20"/>
<path d="M1363.9 873.4L1363.9 870.4L1364 869.8L1364.1 869.2L1364.2 868.6L1364.4 868L1364.7 867.5L1365.1 867L1365.5 866.5L1365.9 866.1L1366.4 865.7L1366.9 865.4L1367.5 865.2L1368 865L1368.6 864.9L1369.2 864.9L1369.6 864.9L1370 865L1370.4 865.2L1370.8 865.5L1371.2 865.8L1371.5 866.2L1371.9 866.6L1372.2 867.1L1372.4 867.6L1372.6 868.1L1372.8 868.7L1372.9 869.3L1373 869.9L1373.1 870.4L1373.1 873.4Z" fill="#961a1e"/>
<path d="M1086.2 870.4L1092.2 870.4A6 6 0 0 0 1089.2 865.2Z" fill="#fff"/>
</g>
<path d="M1086.2 870.4L1293.5 511.3A414.6 414.6 0 0 1 1500.8 870.4" fill="none" stroke="#0a0a0a" stroke-width="1" stroke-linejoin="miter"/>
<path d="M1086.2 870.4L1500.8 870.4" stroke="#3a3a3a" stroke-width="1.5"/>
<path d="M1452.2 870L1499.8 870" stroke="#a9a9cc" stroke-width="0.9"/>
<circle cx="1155" cy="869.8" r="1.4" fill="#0a0a0a"/>
<circle cx="1120.6" cy="810.9" r="2" fill="#0a0a0a"/>
<circle cx="1292.5" cy="869.8" r="1.4" fill="#0a0a0a"/>
<circle cx="1189.3" cy="691.8" r="2" fill="#0a0a0a"/>
<circle cx="1430" cy="869.8" r="1.4" fill="#0a0a0a"/>
<circle cx="1258.1" cy="572.7" r="2" fill="#0a0a0a"/>
<circle cx="1475.8" cy="728.6" r="2" fill="#0a0a0a"/>
<circle cx="1403.8" cy="603.9" r="2" fill="#0a0a0a"/>
<circle cx="1293.5" cy="511.3" r="2" fill="#0a0a0a"/>
<text x="1156.2" y="890.5" class="t" text-anchor="middle">0.1</text>
<text x="1117.4" y="808.3" class="t" text-anchor="end">0.1</text>
<text x="1293.7" y="890.5" class="t" text-anchor="middle">0.3</text>
<text x="1187.7" y="689.8" class="t" text-anchor="end">0.3</text>
<text x="1431.2" y="890.5" class="t" text-anchor="middle">0.5</text>
<text x="1255.9" y="571.1" class="t" text-anchor="end">0.5</text>
<text x="1508.9" y="871.2" class="t">0</text>
<text x="1483.8" y="726.6" class="t">20</text>
<text x="1409.9" y="599.5" class="t">40</text>
<text x="1297.7" y="505" class="t">60</text>
<text x="1314.4" y="914.9" class="m">β</text>
<text x="1168.2" y="669.2" class="m">β</text>
<text transform="translate(1441.4 658.6) scale(1.17 1)" class="m">γ</text>
<text x="1278.2" y="630.4" class="s w">0</text>
<text x="1300.2" y="641.2" class="ss w">2</text>
<text x="1306.2" y="618.8" class="sp w">+</text>
<text transform="translate(1223.2 681.1) scale(1.07 1)" class="e w">E=0.63 MeV</text>
</g>
<g>
<clipPath id="c6"><path d="M0.2 1336.4L414.8 1336.4A414.6 414.6 0 0 0 207.5 977.3Z"/></clipPath>
<path d="M0.2 1336.4L414.8 1336.4A414.6 414.6 0 0 0 207.5 977.3Z" fill="#2a2d7c"/>
<g clip-path="url(#c6)">
<path d="M174.7 1339.4L174.7 1336.4L174.8 1318L175.2 1308.9L175.7 1301.7L176.5 1295.6L177.5 1290.5L178.8 1286L180.3 1282.1L182.1 1278.8L184.2 1276L186.5 1273.8L189.3 1272L192.6 1270.8L196.8 1270L205.2 1269.8L209.4 1270.2L213.5 1271.5L217.6 1273.5L221.5 1276.4L225.2 1280L228.6 1284.3L231.7 1289.3L234.5 1294.9L237 1301L239 1307.5L240.6 1314.4L241.8 1321.6L242.5 1328.9L242.7 1336.4L242.7 1339.4Z" fill="#27348a"/>
<path d="M244.9 1339.4L244.9 1336.4L245 1314.6L245.4 1303.8L246.1 1295.2L247 1288.1L248.2 1281.9L249.7 1276.6L251.4 1272L253.5 1268L255.8 1264.8L258.6 1262.1L261.8 1260L265.6 1258.6L270.5 1257.7L280.2 1257.4L290.3 1257.9L300.2 1259.4L309.9 1261.8L319.2 1265.2L328.1 1269.5L336.3 1274.6L343.8 1280.5L350.6 1287.1L356.4 1294.4L361.3 1302.1L365.1 1310.3L367.9 1318.8L369.6 1327.6L370.2 1336.4L370.2 1339.4Z" fill="#27348a"/>
<path d="M80.2 1156.4L84.8 1155.3L88 1156.9L90.3 1160.4L92.1 1164.8L94.1 1169.3L96.8 1173L100.1 1176.1L103.7 1179.3L107.4 1182.7L111.2 1185.9L115 1189.1L118.6 1192L122.2 1194.6L125.8 1197.1L129.4 1199.4L132.9 1201.6L136.3 1203.8L139.6 1206L142.8 1208.2L145.9 1210.3L148.8 1212.3L151.6 1214.4L154.2 1216.5L156.5 1218.7L158.5 1220.9L160.3 1223.2L161.8 1225.5L163.1 1227.9L164.1 1230.3L164.9 1232.7L165.3 1235.2L165.3 1237.9L165.1 1240.6L164.8 1243.2L164.4 1245.9L164.2 1248.4L164 1250.6L163.7 1252.6L163.4 1254.5L163.3 1256.6L163.2 1259.1L163.5 1262.2L164.1 1266.1L164.9 1270.5L166 1275.4L167.1 1280.5L168.2 1285.5L169.2 1290.4L170.2 1294.7L171.2 1298.6L172.3 1302.5L173.2 1306.9L174.1 1312L174.8 1318.4L176.4 1327L179.1 1337.7L181.7 1349.2L182.9 1360.3L181.5 1369.7L176.2 1376.4L165.1 1380.6L148.7 1383.4L129.7 1384.5L110.6 1383.9L94.1 1381.2L82.7 1376.4L77.1 1368L75.3 1355.8L76.1 1341.7L78.1 1327.3L80 1314.3L80.6 1304.4L80.1 1297.9L79.6 1293.5L79 1290.6L78.3 1288.3L77.4 1286.2L76.4 1283.4L75.2 1280.1L73.8 1276.9L72.3 1273.7L70.5 1270.6L68.7 1267.7L66.6 1265L64.2 1262.5L61.6 1260.2L58.8 1258L55.9 1256L53.1 1254.2L50.4 1252.4L47.8 1251.1L45.2 1250.5L42.7 1250L40.3 1249.1L38.1 1247.4L36.2 1244.4L34.1 1239.9L31.5 1234.4L29.2 1228L27.7 1221.1L27.9 1213.8L30.2 1206.4L35.7 1198L44 1188.2L53.8 1178L63.9 1168.6L73.2 1161Z" fill="#27348a"/>
<path d="M177 1339.4L177 1336.4L177.1 1321L177.5 1312.7L178 1306L178.9 1300.3L179.9 1295.4L181.2 1291.1L182.8 1287.3L184.6 1284.1L186.7 1281.4L189.1 1279.3L191.9 1277.6L195.1 1276.3L199.2 1275.6L206.6 1275.4L210.5 1275.8L214.3 1276.9L218 1278.8L221.5 1281.4L224.9 1284.7L228 1288.7L230.9 1293.2L233.4 1298.4L235.6 1303.9L237.5 1309.9L239 1316.2L240 1322.8L240.7 1329.6L240.9 1336.4L240.9 1339.4Z" fill="#2a4198"/>
<path d="M248.7 1339.4L248.7 1336.4L248.8 1318.3L249.2 1308.6L249.8 1300.7L250.8 1294L251.9 1288.2L253.4 1283.1L255.1 1278.7L257.1 1275L259.5 1271.8L262.1 1269.2L265.2 1267.2L268.8 1265.8L273.3 1264.9L281.6 1264.6L290.6 1265.1L299.6 1266.4L308.3 1268.7L316.7 1271.8L324.6 1275.6L332 1280.3L338.8 1285.7L344.8 1291.7L350.1 1298.2L354.4 1305.3L357.9 1312.7L360.4 1320.4L361.9 1328.4L362.5 1336.4L362.5 1339.4Z" fill="#2a4198"/>
<path d="M70.2 1174.4L73.7 1174.8L76.5 1176.8L78.9 1179.8L81.2 1183.3L83.8 1186.8L86.9 1189.9L90.5 1192.6L94.4 1195.3L98.5 1198L102.7 1200.8L107.1 1203.4L111.5 1206L116.1 1208.4L121.1 1210.7L126.2 1213L131.1 1215.3L135.7 1217.6L139.6 1220.1L142.9 1222.6L145.7 1225.2L148.1 1227.8L150.3 1230.6L152.1 1233.6L153.7 1236.9L155 1240.6L155.8 1244.6L156.4 1248.8L156.9 1253.2L157.3 1257.7L157.9 1262.2L158.6 1266.1L159.3 1269.2L160 1272.5L160.7 1276.6L161.4 1282.3L162.1 1290.4L163.7 1302.4L166.3 1318L168.9 1335.2L170.5 1352L169.9 1366.4L166.2 1376.4L157.8 1382.4L145.2 1386L130.5 1387.2L115.7 1386L102.9 1382.4L94 1376.4L89.6 1366.3L88.2 1351.7L88.8 1334.7L90.3 1317.5L91.6 1302L91.9 1290.4L91.2 1283.1L90.4 1278.4L89.5 1275.6L88.5 1273.6L87.4 1271.8L86.2 1269.2L84.9 1265.9L83.5 1262.7L82 1259.6L80.4 1256.5L78.5 1253.7L76.4 1251L73.9 1248.5L71 1246.2L67.9 1244.1L64.7 1242.1L61.7 1240.2L58.8 1238.4L56.1 1237.1L53.3 1236.4L50.7 1235.7L48.2 1234.8L46 1233.2L44.2 1230.4L42.5 1226.1L40.8 1220.5L39.4 1214.3L38.6 1207.8L38.8 1201.7L40.2 1196.4L43.4 1191.6L48.2 1186.8L53.9 1182.3L59.9 1178.5L65.6 1175.8Z" fill="#2a4198"/>
<path d="M64.2 1190.4L66.7 1191.3L69.2 1192.9L71.8 1195L74.5 1197.4L77.4 1199.7L80.6 1201.8L84.1 1203.7L87.9 1205.5L91.8 1207.3L95.9 1209.2L100.2 1211L104.5 1213L109.1 1215L114.1 1217L119.2 1219.1L124.1 1221.2L128.7 1223.4L132.6 1225.7L135.9 1228L138.7 1230.2L141.1 1232.4L143.2 1234.9L145 1237.8L146.7 1241.1L148.1 1245L149.2 1249.3L150 1253.9L150.7 1258.8L151.4 1264L152.2 1269.2L153.2 1274.2L154.2 1279L155.2 1284.1L156.2 1289.7L157.1 1296.3L157.9 1304.4L159.2 1315.1L161.3 1328.3L163.3 1342.6L164.3 1356.4L163.8 1368.1L160.7 1376.4L154 1381.6L143.9 1385.2L132.3 1386.7L120.5 1386L110.2 1382.6L103.1 1376.4L99.5 1365.5L98.2 1349.9L98.4 1331.7L99.3 1313L100.2 1296.2L100.2 1283.4L99.5 1274.8L98.8 1268.8L98 1264.6L97.1 1261.5L96 1258.6L94.7 1255.2L93.2 1251.5L91.6 1248.1L89.8 1244.9L87.8 1242.1L85.7 1239.4L83.4 1236.9L80.9 1234.7L78.1 1232.7L75.2 1231L72.2 1229.4L69.3 1227.9L66.6 1226.4L63.9 1225.1L61.2 1224.1L58.5 1223.1L56 1222L53.9 1220.5L52.2 1218.4L51 1215.4L50 1211.5L49.4 1207.3L49.2 1203.1L49.5 1199.3L50.2 1196.4L51.6 1194.3L53.6 1192.6L56.1 1191.3L58.8 1190.5L61.5 1190.2Z" fill="#33489e"/>
<path d="M178.7 1339.4L178.7 1336.4L178.9 1323.2L179.2 1315.6L179.8 1309.3L180.7 1303.9L181.8 1299.1L183.1 1295L184.7 1291.4L186.6 1288.2L188.7 1285.6L191.1 1283.5L193.9 1281.8L197.1 1280.6L201 1279.9L207.8 1279.6L211.3 1280L214.8 1281.1L218.2 1282.8L221.5 1285.3L224.6 1288.3L227.5 1292L230.2 1296.3L232.6 1301L234.6 1306.2L236.4 1311.8L237.7 1317.7L238.7 1323.8L239.3 1330L239.5 1336.4L239.5 1339.4Z" fill="#33489e"/>
<path d="M251.5 1339.4L251.5 1336.4L251.7 1321L252.1 1312.1L252.7 1304.8L253.6 1298.5L254.8 1292.9L256.2 1288.1L258 1283.9L259.9 1280.2L262.2 1277.2L264.8 1274.7L267.8 1272.7L271.2 1271.3L275.4 1270.5L282.6 1270.2L290.9 1270.6L299 1271.9L307 1273.9L314.7 1276.8L321.9 1280.4L328.7 1284.7L334.9 1289.6L340.4 1295.1L345.2 1301.2L349.2 1307.7L352.4 1314.5L354.7 1321.7L356 1329L356.5 1336.4L356.5 1339.4Z" fill="#33489e"/>
<path d="M180.2 1339.4L180.2 1336.4L180.3 1324.9L180.7 1317.9L181.4 1312L182.2 1306.8L183.4 1302.3L184.7 1298.2L186.4 1294.7L188.3 1291.7L190.4 1289.1L192.8 1287L195.6 1285.4L198.8 1284.2L202.6 1283.5L208.7 1283.3L212 1283.6L215.3 1284.6L218.5 1286.2L221.6 1288.5L224.5 1291.4L227.2 1294.8L229.6 1298.8L231.9 1303.3L233.8 1308.1L235.4 1313.3L236.7 1318.8L237.6 1324.6L238.1 1330.4L238.3 1336.4L238.3 1339.4Z" fill="#3453a5"/>
<path d="M254 1339.4L254 1336.4L254.1 1323.1L254.5 1315L255.1 1308.1L256.1 1302.1L257.2 1296.9L258.7 1292.2L260.3 1288.2L262.3 1284.6L264.5 1281.7L267.1 1279.2L269.9 1277.3L273.2 1276L277.1 1275.2L283.5 1274.9L291.1 1275.3L298.6 1276.4L305.9 1278.4L313 1281L319.7 1284.3L325.9 1288.3L331.6 1292.9L336.7 1298.1L341.1 1303.7L344.8 1309.7L347.7 1316.1L349.8 1322.7L351.1 1329.5L351.5 1336.4L351.5 1339.4Z" fill="#3453a5"/>
<path d="M104.5 1232L106.4 1231.6L108.5 1231.4L110.9 1231.6L113.4 1232.1L116 1232.9L118.6 1234.1L121.3 1235.7L124.3 1237.7L127.4 1240L130.3 1242.5L133.1 1245.3L135.4 1248.2L137.3 1251.1L138.9 1254.2L140.2 1257.4L141.4 1260.9L142.6 1264.8L143.8 1269.2L145.1 1273.8L146.4 1278.5L147.6 1283.6L148.8 1289.4L149.9 1296.2L150.9 1304.4L152.3 1315.1L154.4 1328.3L156.3 1342.6L157.5 1356.4L157.4 1368.1L155.2 1376.4L150.1 1381.4L142.3 1384.4L133.2 1385.4L124 1384.4L115.9 1381.4L110.2 1376.4L107.1 1368.1L105.7 1356.4L105.5 1342.6L105.8 1328.3L106.1 1315.1L105.9 1304.4L105.2 1296.3L104.5 1289.7L103.8 1284.1L103 1279L102.4 1274.2L101.7 1269.2L101 1263.9L100.1 1258.6L99.3 1253.5L98.6 1248.8L98.2 1244.6L98.2 1241.1L98.6 1238.4L99.3 1236.2L100.2 1234.7L101.5 1233.5L102.9 1232.6Z" fill="#3453a5"/>
<path d="M181.5 1339.4L181.5 1336.4L181.7 1326.4L182 1319.8L182.7 1314.2L183.6 1309.3L184.7 1305L186.2 1301.1L187.8 1297.7L189.7 1294.7L191.9 1292.2L194.4 1290.1L197.1 1288.5L200.2 1287.4L203.9 1286.7L209.5 1286.4L212.6 1286.7L215.7 1287.7L218.7 1289.2L221.6 1291.4L224.3 1294.1L226.8 1297.3L229.2 1301.1L231.2 1305.2L233 1309.8L234.5 1314.7L235.7 1319.9L236.6 1325.3L237.1 1330.8L237.3 1336.4L237.3 1339.4Z" fill="#3c57a7"/>
<path d="M256.1 1339.4L256.1 1336.4L256.3 1324.9L256.6 1317.4L257.3 1311L258.2 1305.3L259.4 1300.3L260.8 1295.8L262.4 1291.9L264.4 1288.5L266.6 1285.6L269 1283.3L271.8 1281.4L274.9 1280.1L278.6 1279.3L284.3 1279L291.3 1279.4L298.2 1280.5L305 1282.3L311.5 1284.7L317.7 1287.8L323.4 1291.5L328.7 1295.8L333.4 1300.6L337.5 1305.9L340.9 1311.5L343.6 1317.5L345.5 1323.6L346.7 1330L347.1 1336.4L347.1 1339.4Z" fill="#3c57a7"/>
<path d="M121.4 1267.8L122.8 1268L124.5 1268.7L126.5 1269.8L128.6 1271.5L130.6 1273.6L132.6 1276.4L134.5 1279.4L136.5 1282.7L138.5 1286.4L140.5 1291.1L142.3 1297L143.8 1304.4L145.4 1314.7L147.3 1327.8L148.9 1342.2L150.1 1356.1L150.4 1368.1L149.5 1376.4L146.8 1381.4L142.5 1384.4L137.4 1385.4L132.1 1384.4L127.5 1381.4L124.2 1376.4L122.4 1368.1L121.6 1356.1L121.4 1342.2L121.5 1327.8L121.6 1314.7L121.4 1304.4L120.9 1297L120.3 1291.1L119.7 1286.4L119.1 1282.7L118.7 1279.4L118.6 1276.4L118.6 1273.6L118.8 1271.5L119.1 1269.8L119.6 1268.7L120.4 1268Z" fill="#3c57a7"/>
<path d="M131.2 1301.4L132.5 1302.2L134.2 1303.5L136.1 1305.7L138 1308.7L139.7 1312.9L141 1318.4L142.1 1326.4L143 1336.8L143.8 1348.5L144.3 1359.8L144.3 1369.6L143.8 1376.4L142.5 1380.5L140.4 1383.1L137.9 1384.1L135.3 1383.4L132.9 1380.8L131.2 1376.4L130.1 1368.7L129.3 1357.5L128.7 1344.5L128.4 1331.4L128.2 1319.8L128.2 1311.4L128.3 1306.2L128.5 1303L128.9 1301.3L129.5 1300.7L130.2 1300.9Z" fill="#4068b5"/>
<path d="M182.7 1339.4L182.7 1336.4L182.8 1327.6L183.2 1321.5L183.9 1316.3L184.8 1311.6L186 1307.4L187.4 1303.6L189.1 1300.3L191.1 1297.4L193.3 1294.9L195.7 1292.9L198.5 1291.3L201.6 1290.2L205.1 1289.5L210.3 1289.3L213.2 1289.6L216.1 1290.5L218.9 1291.9L221.6 1294L224.2 1296.5L226.5 1299.6L228.7 1303.1L230.7 1307L232.4 1311.3L233.8 1316L234.9 1320.8L235.7 1325.9L236.2 1331.1L236.4 1336.4L236.4 1339.4Z" fill="#4068b5"/>
<path d="M258.1 1339.4L258.1 1336.4L258.2 1326.4L258.6 1319.5L259.2 1313.5L260.1 1308.1L261.3 1303.3L262.7 1299.1L264.3 1295.3L266.2 1292L268.4 1289.2L270.8 1286.9L273.5 1285.1L276.5 1283.8L279.9 1283L285 1282.8L291.5 1283.1L297.9 1284.1L304.2 1285.8L310.2 1288.1L315.9 1291L321.2 1294.5L326.1 1298.5L330.4 1303L334.2 1307.9L337.3 1313.1L339.8 1318.7L341.6 1324.5L342.7 1330.4L343.1 1336.4L343.1 1339.4Z" fill="#4068b5"/>
<path d="M183.8 1339.4L183.8 1336.4L183.9 1328.7L184.3 1323L185 1318.1L186 1313.6L187.2 1309.6L188.6 1305.9L190.4 1302.7L192.3 1299.9L194.6 1297.5L197 1295.5L199.8 1293.9L202.8 1292.8L206.2 1292.2L211 1291.9L213.7 1292.2L216.4 1293.1L219.1 1294.4L221.6 1296.3L224 1298.8L226.3 1301.6L228.3 1305L230.1 1308.7L231.7 1312.7L233.1 1317.1L234.1 1321.7L234.9 1326.5L235.3 1331.4L235.5 1336.4L235.5 1339.4Z" fill="#4585c8"/>
<path d="M259.8 1339.4L259.8 1336.4L260 1327.7L260.4 1321.3L261 1315.7L261.9 1310.7L263.1 1306.1L264.4 1302L266.1 1298.4L267.9 1295.2L270.1 1292.5L272.4 1290.2L275 1288.5L277.9 1287.2L281.1 1286.5L285.6 1286.2L291.6 1286.5L297.6 1287.5L303.4 1289L309 1291.2L314.2 1293.9L319.2 1297.2L323.7 1300.9L327.7 1305.1L331.2 1309.7L334.1 1314.6L336.4 1319.8L338.1 1325.2L339.1 1330.8L339.4 1336.4L339.4 1339.4Z" fill="#4585c8"/>
<path d="M184.8 1339.4L184.8 1336.4L184.9 1329.6L185.4 1324.4L186.1 1319.7L187 1315.5L188.3 1311.6L189.8 1308.1L191.5 1304.9L193.5 1302.2L195.8 1299.8L198.2 1297.9L201 1296.4L203.9 1295.3L207.3 1294.6L211.6 1294.4L214.2 1294.7L216.7 1295.5L219.2 1296.8L221.6 1298.6L223.9 1300.8L226 1303.6L227.9 1306.7L229.7 1310.2L231.2 1314.1L232.4 1318.2L233.4 1322.5L234.1 1327.1L234.6 1331.7L234.7 1336.4L234.7 1339.4Z" fill="#3bbdec"/>
<path d="M261.5 1339.4L261.5 1336.4L261.6 1328.8L262 1323L262.7 1317.7L263.6 1313L264.7 1308.6L266.1 1304.7L267.7 1301.2L269.5 1298.1L271.6 1295.5L273.9 1293.3L276.4 1291.6L279.1 1290.4L282.2 1289.6L286.2 1289.4L291.8 1289.7L297.3 1290.6L302.6 1292L307.8 1294.1L312.7 1296.6L317.2 1299.7L321.4 1303.2L325.1 1307.1L328.4 1311.4L331.1 1316L333.2 1320.9L334.8 1325.9L335.7 1331.1L336 1336.4L336 1339.4Z" fill="#3bbdec"/>
<path d="M185.8 1339.4L185.8 1336.4L186 1330.2L186.4 1325.2L187.1 1320.8L188 1316.6L189.3 1312.9L190.8 1309.5L192.5 1306.4L194.5 1303.7L196.7 1301.4L199.2 1299.5L201.8 1298L204.7 1296.9L207.9 1296.3L212 1296.1L214.3 1296.3L216.7 1297.1L219.1 1298.4L221.3 1300.1L223.5 1302.3L225.5 1305L227.3 1308L228.9 1311.4L230.4 1315.1L231.6 1319.1L232.5 1323.2L233.2 1327.6L233.6 1332L233.7 1336.4L233.7 1339.4Z" fill="#55c3d9"/>
<path d="M262.8 1339.4L262.8 1336.4L262.9 1329.3L263.3 1323.7L263.9 1318.7L264.8 1314.1L265.9 1309.8L267.2 1306L268.8 1302.6L270.5 1299.6L272.5 1297L274.7 1294.9L277.1 1293.2L279.7 1292L282.5 1291.3L286.2 1291.1L291.5 1291.3L296.9 1292.2L302.1 1293.6L307.1 1295.6L311.8 1298L316.2 1301L320.3 1304.4L323.9 1308.2L327 1312.4L329.7 1316.8L331.7 1321.5L333.3 1326.4L334.2 1331.4L334.5 1336.4L334.5 1339.4Z" fill="#55c3d9"/>
<path d="M186.8 1339.4L186.8 1336.4L187 1330.7L187.4 1326L188.1 1321.8L189 1317.8L190.3 1314.2L191.8 1310.8L193.5 1307.8L195.5 1305.2L197.7 1303L200.1 1301.1L202.7 1299.6L205.5 1298.6L208.6 1297.9L212.3 1297.7L214.5 1298L216.7 1298.7L218.9 1299.9L221.1 1301.6L223.1 1303.7L225 1306.3L226.7 1309.2L228.3 1312.5L229.6 1316.1L230.7 1319.9L231.6 1323.9L232.3 1328L232.7 1332.3L232.8 1336.4L232.8 1339.4Z" fill="#69c5be"/>
<path d="M264.1 1339.4L264.1 1336.4L264.2 1329.8L264.6 1324.4L265.2 1319.6L266 1315.1L267 1311L268.3 1307.3L269.8 1304L271.5 1301L273.4 1298.5L275.4 1296.4L277.7 1294.8L280.1 1293.6L282.9 1292.9L286.2 1292.7L291.3 1293L296.5 1293.8L301.5 1295.2L306.3 1297.1L310.9 1299.4L315.2 1302.3L319.2 1305.6L322.7 1309.3L325.7 1313.3L328.3 1317.6L330.3 1322.1L331.8 1326.8L332.7 1331.6L333 1336.4L333 1339.4Z" fill="#69c5be"/>
<path d="M187.8 1339.4L187.8 1336.4L187.9 1331.2L188.3 1326.8L189 1322.7L190 1318.9L191.2 1315.4L192.7 1312.1L194.4 1309.2L196.4 1306.7L198.6 1304.5L200.9 1302.6L203.5 1301.2L206.2 1300.1L209.2 1299.5L212.7 1299.3L214.7 1299.5L216.8 1300.3L218.8 1301.4L220.8 1303.1L222.7 1305.1L224.5 1307.6L226.1 1310.4L227.6 1313.6L228.9 1317L229.9 1320.7L230.8 1324.6L231.4 1328.5L231.8 1332.5L231.9 1336.4L231.9 1339.4Z" fill="#79c5a0"/>
<path d="M265.3 1339.4L265.3 1336.4L265.5 1330.2L265.8 1325.1L266.4 1320.4L267.2 1316.1L268.2 1312.2L269.4 1308.6L270.8 1305.3L272.4 1302.4L274.2 1300L276.2 1298L278.3 1296.4L280.6 1295.2L283.1 1294.5L286.2 1294.3L291.1 1294.5L296.1 1295.3L300.9 1296.7L305.6 1298.5L310.1 1300.8L314.3 1303.6L318.1 1306.8L321.5 1310.3L324.5 1314.2L327 1318.3L328.9 1322.7L330.4 1327.2L331.2 1331.8L331.5 1336.4L331.5 1339.4Z" fill="#79c5a0"/>
<path d="M188.7 1339.4L188.7 1336.4L188.9 1331.7L189.3 1327.5L190 1323.6L191 1320L192.2 1316.6L193.7 1313.4L195.4 1310.6L197.3 1308.1L199.5 1305.9L201.8 1304.1L204.3 1302.7L206.9 1301.7L209.8 1301.1L213 1300.9L214.8 1301.1L216.8 1301.8L218.7 1302.9L220.6 1304.5L222.3 1306.5L224 1308.9L225.6 1311.6L226.9 1314.7L228.1 1318L229.1 1321.5L229.9 1325.2L230.5 1329L230.9 1332.8L231 1336.4L231 1339.4Z" fill="#86c680"/>
<path d="M266.6 1339.4L266.6 1336.4L266.7 1330.6L267 1325.8L267.5 1321.3L268.3 1317.1L269.3 1313.3L270.4 1309.8L271.8 1306.6L273.3 1303.8L275 1301.4L276.9 1299.4L278.9 1297.9L281.1 1296.7L283.4 1296.1L286.2 1295.8L290.9 1296.1L295.7 1296.9L300.4 1298.1L304.9 1299.9L309.3 1302.2L313.3 1304.8L317 1307.9L320.3 1311.3L323.2 1315.1L325.7 1319.1L327.6 1323.3L329 1327.6L329.8 1332.1L330.1 1336.4L330.1 1339.4Z" fill="#86c680"/>
<path d="M189.7 1339.4L189.7 1336.4L189.8 1332.1L190.2 1328.2L190.9 1324.5L191.9 1321L193.1 1317.7L194.6 1314.7L196.3 1311.9L198.2 1309.5L200.3 1307.4L202.6 1305.6L205 1304.2L207.6 1303.2L210.4 1302.6L213.3 1302.4L215 1302.6L216.8 1303.3L218.6 1304.4L220.3 1305.9L222 1307.9L223.6 1310.1L225 1312.8L226.3 1315.7L227.4 1318.9L228.4 1322.3L229.1 1325.8L229.7 1329.4L230 1333L230.1 1336.4L230.1 1339.4Z" fill="#95ca65"/>
<path d="M267.8 1339.4L267.8 1336.4L267.9 1331L268.2 1326.4L268.7 1322.1L269.4 1318.1L270.3 1314.4L271.4 1310.9L272.7 1307.9L274.2 1305.2L275.8 1302.8L277.5 1300.9L279.4 1299.3L281.5 1298.2L283.7 1297.6L286.2 1297.3L290.7 1297.6L295.3 1298.4L299.9 1299.6L304.3 1301.3L308.4 1303.5L312.4 1306.1L316 1309L319.2 1312.3L322 1315.9L324.4 1319.8L326.2 1323.9L327.6 1328L328.4 1332.3L328.7 1336.4L328.7 1339.4Z" fill="#95ca65"/>
<path d="M190.6 1339.4L190.6 1336.4L190.7 1332.5L191.1 1328.9L191.8 1325.3L192.8 1322L194 1318.8L195.5 1315.9L197.2 1313.2L199.1 1310.8L201.2 1308.8L203.4 1307L205.8 1305.7L208.3 1304.7L210.9 1304.1L213.7 1303.9L215.2 1304.1L216.8 1304.8L218.5 1305.8L220.1 1307.3L221.7 1309.2L223.1 1311.4L224.5 1313.9L225.7 1316.7L226.7 1319.8L227.6 1323L228.3 1326.4L228.8 1329.8L229.2 1333.2L229.3 1336.4L229.3 1339.4Z" fill="#a4cd4a"/>
<path d="M268.9 1339.4L268.9 1336.4L269 1331.4L269.3 1327L269.8 1322.9L270.5 1319L271.4 1315.4L272.4 1312.1L273.7 1309.1L275 1306.5L276.5 1304.2L278.2 1302.3L280 1300.8L281.9 1299.7L283.9 1299.1L286.2 1298.8L290.5 1299.1L295 1299.8L299.3 1301L303.6 1302.7L307.7 1304.8L311.5 1307.2L315 1310.1L318.1 1313.3L320.8 1316.8L323.1 1320.5L324.9 1324.4L326.2 1328.4L327 1332.5L327.3 1336.4L327.3 1339.4Z" fill="#a4cd4a"/>
<path d="M191.5 1339.4L191.5 1336.4L191.6 1332.9L192 1329.5L192.7 1326.1L193.7 1322.9L194.9 1319.9L196.4 1317L198.1 1314.4L199.9 1312.1L202 1310.1L204.2 1308.4L206.5 1307.1L209 1306.1L211.4 1305.6L214 1305.4L215.4 1305.6L216.9 1306.2L218.4 1307.2L219.9 1308.6L221.3 1310.4L222.7 1312.6L223.9 1315L225.1 1317.7L226.1 1320.6L226.9 1323.7L227.6 1326.9L228 1330.2L228.3 1333.4L228.4 1336.4L228.4 1339.4Z" fill="#b9d237"/>
<path d="M270.1 1339.4L270.1 1336.4L270.2 1331.8L270.5 1327.6L270.9 1323.6L271.6 1319.9L272.4 1316.4L273.4 1313.2L274.6 1310.3L275.9 1307.7L277.3 1305.5L278.8 1303.7L280.5 1302.2L282.3 1301.2L284.1 1300.5L286.2 1300.3L290.3 1300.5L294.6 1301.2L298.8 1302.4L303 1304L306.9 1306L310.6 1308.4L314 1311.2L317 1314.3L319.7 1317.6L321.9 1321.2L323.7 1324.9L324.9 1328.8L325.7 1332.6L326 1336.4L326 1339.4Z" fill="#b9d237"/>
<path d="M192.4 1339.4L192.4 1336.4L192.5 1333.3L192.9 1330.1L193.6 1326.9L194.6 1323.8L195.8 1320.9L197.2 1318.2L198.9 1315.7L200.8 1313.4L202.8 1311.5L205 1309.8L207.2 1308.5L209.6 1307.6L212 1307L214.3 1306.8L215.5 1307L216.9 1307.6L218.3 1308.6L219.7 1310L221 1311.7L222.3 1313.7L223.4 1316.1L224.5 1318.6L225.4 1321.4L226.2 1324.4L226.8 1327.5L227.2 1330.6L227.5 1333.6L227.6 1336.4L227.6 1339.4Z" fill="#cfd927"/>
<path d="M271.2 1339.4L271.2 1336.4L271.3 1332.1L271.6 1328.1L272 1324.3L272.6 1320.7L273.4 1317.4L274.4 1314.3L275.4 1311.5L276.6 1309L278 1306.8L279.4 1305L281 1303.6L282.6 1302.6L284.3 1301.9L286.2 1301.7L290.2 1302L294.3 1302.6L298.4 1303.8L302.3 1305.3L306.2 1307.2L309.7 1309.6L313 1312.2L316 1315.2L318.5 1318.4L320.7 1321.8L322.4 1325.4L323.6 1329.1L324.4 1332.8L324.6 1336.4L324.6 1339.4Z" fill="#cfd927"/>
<path d="M193.2 1339.4L193.2 1336.4L193.4 1333.6L193.8 1330.6L194.5 1327.6L195.4 1324.7L196.7 1321.9L198.1 1319.3L199.8 1316.8L201.6 1314.7L203.6 1312.8L205.7 1311.2L207.9 1309.9L210.2 1309L212.5 1308.4L214.6 1308.2L215.7 1308.4L217 1309L218.2 1310L219.5 1311.3L220.7 1312.9L221.9 1314.9L222.9 1317.1L223.9 1319.6L224.8 1322.2L225.5 1325.1L226 1328L226.5 1330.9L226.7 1333.8L226.8 1336.4L226.8 1339.4Z" fill="#e6e21a"/>
<path d="M272.3 1339.4L272.3 1336.4L272.4 1332.4L272.7 1328.6L273.1 1325L273.7 1321.6L274.4 1318.3L275.3 1315.4L276.3 1312.6L277.4 1310.2L278.7 1308.1L280 1306.3L281.5 1305L283 1304L284.5 1303.4L286.2 1303.2L290 1303.4L293.9 1304L297.9 1305.1L301.7 1306.6L305.4 1308.4L308.9 1310.7L312.1 1313.2L314.9 1316.1L317.4 1319.2L319.5 1322.5L321.2 1325.9L322.4 1329.5L323.1 1333L323.3 1336.4L323.3 1339.4Z" fill="#e6e21a"/>
<path d="M194.1 1339.4L194.1 1336.4L194.2 1333.9L194.6 1331.1L195.3 1328.3L196.3 1325.5L197.5 1322.9L198.9 1320.3L200.6 1318L202.4 1315.9L204.4 1314L206.5 1312.5L208.6 1311.2L210.8 1310.4L213 1309.8L214.9 1309.6L215.9 1309.8L217 1310.4L218.2 1311.3L219.3 1312.5L220.4 1314.1L221.5 1316L222.5 1318.1L223.4 1320.5L224.1 1323L224.8 1325.7L225.3 1328.5L225.7 1331.3L225.9 1334L226 1336.4L226 1339.4Z" fill="#f6e909"/>
<path d="M273.4 1339.4L273.4 1336.4L273.5 1332.7L273.7 1329.1L274.1 1325.7L274.7 1322.4L275.4 1319.3L276.2 1316.4L277.1 1313.7L278.2 1311.4L279.3 1309.3L280.6 1307.6L281.9 1306.3L283.3 1305.3L284.7 1304.7L286.2 1304.5L289.8 1304.7L293.6 1305.4L297.4 1306.4L301.1 1307.8L304.7 1309.6L308.1 1311.8L311.1 1314.2L313.9 1317L316.3 1320L318.3 1323.1L320 1326.4L321.1 1329.8L321.8 1333.2L322.1 1336.4L322.1 1339.4Z" fill="#f6e909"/>
<path d="M194.9 1339.4L194.9 1336.4L195 1334.2L195.5 1331.6L196.2 1329L197.1 1326.4L198.3 1323.8L199.8 1321.4L201.4 1319.1L203.2 1317.1L205.1 1315.3L207.2 1313.8L209.3 1312.6L211.4 1311.7L213.4 1311.2L215.2 1311L216.1 1311.2L217.1 1311.7L218.1 1312.6L219.2 1313.8L220.2 1315.3L221.1 1317.1L222 1319.1L222.8 1321.4L223.5 1323.8L224.1 1326.4L224.6 1329L224.9 1331.6L225.1 1334.2L225.2 1336.4L225.2 1339.4Z" fill="#fee403"/>
<path d="M274.5 1339.4L274.5 1336.4L274.6 1333L274.8 1329.6L275.2 1326.3L275.7 1323.2L276.3 1320.2L277.1 1317.4L277.9 1314.8L278.9 1312.6L280 1310.6L281.1 1308.9L282.3 1307.6L283.6 1306.7L284.9 1306.1L286.2 1305.9L289.7 1306.1L293.3 1306.7L297 1307.7L300.6 1309.1L304 1310.8L307.2 1312.9L310.2 1315.2L312.9 1317.9L315.2 1320.7L317.2 1323.7L318.8 1326.9L319.9 1330.1L320.6 1333.4L320.8 1336.4L320.8 1339.4Z" fill="#fee403"/>
<path d="M195.3 1339.4L195.3 1336.4L195.5 1334.2L195.9 1331.7L196.5 1329.1L197.5 1326.6L198.6 1324.1L200 1321.7L201.6 1319.5L203.4 1317.5L205.2 1315.8L207.2 1314.3L209.3 1313.1L211.3 1312.3L213.3 1311.7L215 1311.6L215.9 1311.7L216.9 1312.3L217.9 1313.1L218.9 1314.3L219.9 1315.8L220.8 1317.5L221.7 1319.5L222.5 1321.7L223.2 1324.1L223.8 1326.6L224.2 1329.1L224.6 1331.7L224.8 1334.2L224.9 1336.4L224.9 1339.4Z" fill="#fcd20a"/>
<path d="M275.2 1339.4L275.2 1336.4L275.3 1333.1L275.5 1329.8L275.9 1326.6L276.3 1323.5L277 1320.6L277.7 1317.9L278.5 1315.4L279.5 1313.2L280.5 1311.2L281.7 1309.6L282.8 1308.3L284.1 1307.4L285.3 1306.9L286.6 1306.7L289.9 1306.9L293.5 1307.5L297 1308.4L300.5 1309.8L303.8 1311.5L307 1313.5L309.9 1315.8L312.5 1318.3L314.7 1321.1L316.6 1324.1L318.1 1327.1L319.2 1330.3L319.9 1333.4L320.1 1336.4L320.1 1339.4Z" fill="#fcd20a"/>
<path d="M195.7 1339.4L195.7 1336.4L195.9 1334.3L196.3 1331.8L196.9 1329.3L197.8 1326.8L199 1324.4L200.3 1322L201.8 1319.9L203.5 1317.9L205.3 1316.2L207.3 1314.8L209.2 1313.6L211.2 1312.8L213.1 1312.3L214.8 1312.1L215.7 1312.3L216.6 1312.8L217.6 1313.6L218.7 1314.8L219.6 1316.2L220.6 1317.9L221.4 1319.9L222.2 1322L222.9 1324.4L223.5 1326.8L223.9 1329.3L224.3 1331.8L224.5 1334.3L224.5 1336.4L224.5 1339.4Z" fill="#fcbf11"/>
<path d="M275.9 1339.4L275.9 1336.4L276 1333.2L276.2 1330L276.5 1326.8L277 1323.8L277.6 1321L278.3 1318.3L279.2 1315.9L280.1 1313.8L281.1 1311.9L282.2 1310.3L283.3 1309.1L284.5 1308.2L285.7 1307.6L287 1307.4L290.2 1307.6L293.6 1308.2L297.1 1309.2L300.4 1310.5L303.7 1312.1L306.7 1314.1L309.5 1316.3L312 1318.8L314.2 1321.5L316 1324.4L317.5 1327.4L318.6 1330.4L319.2 1333.5L319.4 1336.4L319.4 1339.4Z" fill="#fcbf11"/>
<path d="M196.1 1339.4L196.1 1336.4L196.3 1334.3L196.7 1331.9L197.3 1329.5L198.2 1327L199.3 1324.6L200.6 1322.4L202 1320.3L203.7 1318.3L205.5 1316.7L207.3 1315.3L209.2 1314.1L211.1 1313.3L213 1312.8L214.6 1312.7L215.5 1312.8L216.4 1313.3L217.4 1314.1L218.4 1315.3L219.4 1316.7L220.3 1318.3L221.1 1320.3L221.9 1322.4L222.6 1324.6L223.1 1327L223.6 1329.5L223.9 1331.9L224.1 1334.3L224.2 1336.4L224.2 1339.4Z" fill="#faaf16"/>
<path d="M276.6 1339.4L276.6 1336.4L276.7 1333.2L276.9 1330.1L277.2 1327.1L277.7 1324.2L278.3 1321.4L278.9 1318.8L279.8 1316.5L280.7 1314.4L281.6 1312.5L282.7 1311L283.8 1309.8L285 1308.9L286.1 1308.4L287.4 1308.2L290.5 1308.4L293.8 1308.9L297.1 1309.9L300.4 1311.1L303.5 1312.7L306.4 1314.6L309.1 1316.8L311.6 1319.3L313.7 1321.9L315.5 1324.7L316.9 1327.6L317.9 1330.6L318.5 1333.6L318.7 1336.4L318.7 1339.4Z" fill="#faaf16"/>
<path d="M196.5 1339.4L196.5 1336.4L196.7 1334.4L197 1332L197.7 1329.6L198.5 1327.2L199.6 1324.9L200.8 1322.7L202.3 1320.6L203.8 1318.8L205.6 1317.1L207.4 1315.7L209.2 1314.7L211.1 1313.9L212.9 1313.4L214.4 1313.2L215.3 1313.4L216.2 1313.9L217.2 1314.7L218.2 1315.7L219.1 1317.1L220 1318.8L220.9 1320.6L221.6 1322.7L222.3 1324.9L222.8 1327.2L223.3 1329.6L223.6 1332L223.8 1334.4L223.9 1336.4L223.9 1339.4Z" fill="#f8a019"/>
<path d="M277.3 1339.4L277.3 1336.4L277.4 1333.3L277.5 1330.3L277.9 1327.3L278.3 1324.5L278.9 1321.8L279.6 1319.3L280.3 1317L281.2 1314.9L282.2 1313.2L283.2 1311.7L284.3 1310.5L285.4 1309.6L286.6 1309.1L287.7 1309L290.8 1309.1L294 1309.7L297.2 1310.6L300.3 1311.8L303.3 1313.4L306.2 1315.2L308.8 1317.3L311.1 1319.7L313.2 1322.3L314.9 1325L316.3 1327.8L317.3 1330.8L317.9 1333.7L318.1 1336.4L318.1 1339.4Z" fill="#f8a019"/>
<path d="M196.9 1339.4L196.9 1336.4L197.1 1334.4L197.4 1332.1L198 1329.8L198.8 1327.4L199.9 1325.2L201.1 1323L202.5 1321L204 1319.2L205.7 1317.6L207.4 1316.2L209.2 1315.2L211 1314.4L212.7 1313.9L214.3 1313.7L215.1 1313.9L216 1314.4L217 1315.2L217.9 1316.2L218.9 1317.6L219.7 1319.2L220.6 1321L221.3 1323L222 1325.2L222.5 1327.4L223 1329.8L223.3 1332.1L223.5 1334.4L223.5 1336.4L223.5 1339.4Z" fill="#f6911d"/>
<path d="M278 1339.4L278 1336.4L278 1333.4L278.2 1330.5L278.5 1327.6L279 1324.8L279.5 1322.2L280.2 1319.7L280.9 1317.5L281.8 1315.5L282.7 1313.8L283.7 1312.3L284.7 1311.2L285.8 1310.4L287 1309.9L288.1 1309.7L291 1309.9L294.1 1310.4L297.2 1311.3L300.3 1312.5L303.2 1314L305.9 1315.8L308.4 1317.9L310.7 1320.2L312.7 1322.7L314.3 1325.3L315.7 1328.1L316.6 1330.9L317.2 1333.7L317.4 1336.4L317.4 1339.4Z" fill="#f6911d"/>
<path d="M197.3 1339.4L197.3 1336.4L197.4 1334.5L197.8 1332.2L198.4 1329.9L199.2 1327.6L200.2 1325.4L201.3 1323.3L202.7 1321.3L204.2 1319.6L205.8 1318L207.4 1316.7L209.2 1315.6L210.9 1314.9L212.6 1314.4L214.1 1314.3L214.9 1314.4L215.8 1314.9L216.7 1315.6L217.7 1316.7L218.6 1318L219.5 1319.6L220.3 1321.3L221 1323.3L221.7 1325.4L222.2 1327.6L222.7 1329.9L223 1332.2L223.2 1334.5L223.2 1336.4L223.2 1339.4Z" fill="#f48020"/>
<path d="M278.6 1339.4L278.6 1336.4L278.7 1333.5L278.9 1330.6L279.2 1327.8L279.6 1325.1L280.1 1322.6L280.8 1320.2L281.5 1318L282.3 1316.1L283.2 1314.4L284.2 1313L285.2 1311.9L286.3 1311.1L287.4 1310.6L288.5 1310.4L291.3 1310.6L294.3 1311.1L297.3 1311.9L300.2 1313.1L303 1314.6L305.7 1316.3L308.1 1318.4L310.3 1320.6L312.2 1323L313.8 1325.6L315.1 1328.3L316 1331.1L316.6 1333.8L316.7 1336.4L316.7 1339.4Z" fill="#f48020"/>
<path d="M197.7 1339.4L197.7 1336.4L197.8 1334.5L198.2 1332.3L198.7 1330.1L199.5 1327.9L200.4 1325.7L201.6 1323.6L202.9 1321.7L204.3 1320L205.9 1318.4L207.5 1317.2L209.2 1316.1L210.8 1315.4L212.5 1314.9L213.9 1314.8L214.7 1314.9L215.6 1315.4L216.5 1316.1L217.5 1317.2L218.4 1318.4L219.2 1320L220 1321.7L220.8 1323.6L221.4 1325.7L221.9 1327.9L222.4 1330.1L222.7 1332.3L222.8 1334.5L222.9 1336.4L222.9 1339.4Z" fill="#f36d22"/>
<path d="M279.3 1339.4L279.3 1336.4L279.3 1333.6L279.5 1330.8L279.8 1328.1L280.2 1325.4L280.7 1323L281.4 1320.6L282.1 1318.5L282.9 1316.6L283.7 1315L284.7 1313.6L285.7 1312.5L286.7 1311.8L287.7 1311.3L288.8 1311.1L291.5 1311.3L294.4 1311.8L297.3 1312.6L300.1 1313.8L302.9 1315.2L305.4 1316.9L307.8 1318.9L309.9 1321L311.7 1323.4L313.3 1325.9L314.5 1328.5L315.4 1331.2L315.9 1333.9L316.1 1336.4L316.1 1339.4Z" fill="#f36d22"/>
<path d="M198.1 1339.4L198.1 1336.4L198.2 1334.5L198.5 1332.4L199.1 1330.2L199.8 1328.1L200.7 1325.9L201.8 1323.9L203.1 1322L204.5 1320.4L206 1318.9L207.5 1317.6L209.2 1316.6L210.8 1315.9L212.3 1315.4L213.7 1315.3L214.5 1315.4L215.4 1315.9L216.3 1316.6L217.2 1317.6L218.1 1318.9L219 1320.4L219.8 1322L220.5 1323.9L221.1 1325.9L221.6 1328.1L222.1 1330.2L222.4 1332.4L222.5 1334.5L222.6 1336.4L222.6 1339.4Z" fill="#f15a24"/>
<path d="M279.9 1339.4L279.9 1336.4L280 1333.6L280.1 1330.9L280.4 1328.3L280.8 1325.7L281.3 1323.3L281.9 1321.1L282.6 1319L283.4 1317.2L284.2 1315.6L285.2 1314.3L286.1 1313.2L287.1 1312.5L288.1 1312L289.2 1311.8L291.8 1312L294.6 1312.5L297.4 1313.3L300.1 1314.4L302.7 1315.8L305.2 1317.4L307.4 1319.3L309.5 1321.5L311.2 1323.8L312.7 1326.2L313.9 1328.7L314.8 1331.3L315.3 1333.9L315.5 1336.4L315.5 1339.4Z" fill="#f15a24"/>
<path d="M198.5 1339.4L198.5 1336.4L198.6 1334.6L198.9 1332.5L199.4 1330.4L200.1 1328.3L201 1326.2L202.1 1324.2L203.3 1322.4L204.6 1320.7L206.1 1319.3L207.6 1318.1L209.1 1317.1L210.7 1316.4L212.2 1316L213.5 1315.8L214.3 1316L215.2 1316.4L216.1 1317.1L217 1318.1L217.9 1319.3L218.7 1320.7L219.5 1322.4L220.2 1324.2L220.8 1326.2L221.3 1328.3L221.8 1330.4L222.1 1332.5L222.2 1334.6L222.3 1336.4L222.3 1339.4Z" fill="#f04b24"/>
<path d="M280.6 1339.4L280.6 1336.4L280.6 1333.7L280.8 1331.1L281.1 1328.5L281.4 1326L281.9 1323.7L282.5 1321.5L283.2 1319.5L283.9 1317.7L284.7 1316.2L285.6 1314.9L286.6 1313.9L287.5 1313.1L288.5 1312.7L289.5 1312.5L292 1312.7L294.7 1313.2L297.4 1313.9L300 1315L302.5 1316.4L304.9 1318L307.1 1319.8L309.1 1321.9L310.8 1324.1L312.2 1326.5L313.3 1329L314.2 1331.5L314.7 1334L314.8 1336.4L314.8 1339.4Z" fill="#f04b24"/>
<path d="M198.8 1339.4L198.8 1336.4L198.9 1334.6L199.2 1332.6L199.7 1330.5L200.4 1328.5L201.3 1326.4L202.3 1324.5L203.5 1322.7L204.8 1321.1L206.2 1319.7L207.6 1318.5L209.1 1317.6L210.6 1316.9L212.1 1316.4L213.4 1316.3L214.1 1316.4L215 1316.9L215.9 1317.6L216.8 1318.5L217.6 1319.7L218.5 1321.1L219.2 1322.7L219.9 1324.5L220.5 1326.4L221.1 1328.5L221.5 1330.5L221.8 1332.6L221.9 1334.6L222 1336.4L222 1339.4Z" fill="#ef3c24"/>
<path d="M281.2 1339.4L281.2 1336.4L281.2 1333.8L281.4 1331.2L281.7 1328.7L282 1326.3L282.5 1324.1L283.1 1321.9L283.7 1320L284.4 1318.3L285.2 1316.8L286.1 1315.5L287 1314.5L287.9 1313.8L288.9 1313.4L289.9 1313.2L292.3 1313.4L294.9 1313.8L297.4 1314.6L300 1315.6L302.4 1316.9L304.7 1318.5L306.8 1320.3L308.7 1322.3L310.3 1324.5L311.7 1326.8L312.8 1329.2L313.6 1331.6L314.1 1334.1L314.2 1336.4L314.2 1339.4Z" fill="#ef3c24"/>
<path d="M199.2 1339.4L199.2 1336.4L199.3 1334.7L199.6 1332.7L200.1 1330.7L200.7 1328.6L201.6 1326.7L202.5 1324.8L203.7 1323.1L204.9 1321.5L206.3 1320.1L207.7 1318.9L209.1 1318L210.6 1317.3L212 1316.9L213.2 1316.8L213.9 1316.9L214.8 1317.3L215.7 1318L216.6 1318.9L217.4 1320.1L218.2 1321.5L219 1323.1L219.7 1324.8L220.3 1326.7L220.8 1328.6L221.2 1330.7L221.5 1332.7L221.6 1334.7L221.7 1336.4L221.7 1339.4Z" fill="#ee3024"/>
<path d="M281.8 1339.4L281.8 1336.4L281.9 1333.9L282 1331.4L282.3 1329L282.6 1326.6L283.1 1324.4L283.6 1322.4L284.3 1320.5L285 1318.8L285.7 1317.3L286.6 1316.1L287.4 1315.2L288.3 1314.5L289.3 1314L290.2 1313.9L292.5 1314L295 1314.5L297.5 1315.2L299.9 1316.2L302.2 1317.5L304.4 1319L306.4 1320.8L308.3 1322.7L309.8 1324.8L311.2 1327.1L312.2 1329.4L313 1331.8L313.4 1334.2L313.6 1336.4L313.6 1339.4Z" fill="#ee3024"/>
<path d="M200.3 1339.4L200.3 1336.4L200.3 1334.9L200.6 1333.2L201 1331.4L201.6 1329.7L202.3 1328.1L203.2 1326.5L204.2 1325.1L205.2 1323.8L206.4 1322.6L207.7 1321.7L209 1320.9L210.3 1320.4L211.6 1320L212.7 1319.9L213.5 1320L214.3 1320.4L215.1 1320.9L216 1321.7L216.8 1322.7L217.6 1323.8L218.3 1325.1L218.9 1326.6L219.5 1328.1L220 1329.8L220.4 1331.5L220.6 1333.2L220.8 1334.9L220.9 1336.4L220.9 1339.4Z" fill="#ed2524"/>
<path d="M283.8 1339.4L283.8 1336.4L283.9 1334.3L284 1332.2L284.3 1330.1L284.6 1328.1L285.1 1326.3L285.6 1324.5L286.2 1322.9L286.9 1321.5L287.7 1320.3L288.5 1319.3L289.4 1318.4L290.3 1317.9L291.2 1317.5L292.1 1317.4L294.1 1317.5L296.1 1317.9L298.2 1318.5L300.2 1319.4L302.1 1320.4L303.9 1321.7L305.6 1323.2L307.1 1324.8L308.4 1326.6L309.5 1328.5L310.4 1330.5L311 1332.5L311.4 1334.5L311.5 1336.4L311.5 1339.4Z" fill="#ed2524"/>
<path d="M201.3 1339.4L201.3 1336.4L201.4 1335.1L201.6 1333.7L201.9 1332.2L202.4 1330.8L203.1 1329.5L203.8 1328.3L204.7 1327.1L205.6 1326.1L206.6 1325.2L207.7 1324.4L208.8 1323.8L210 1323.4L211.2 1323.1L212.2 1323L213 1323.1L213.8 1323.4L214.6 1323.8L215.4 1324.4L216.2 1325.2L216.9 1326.1L217.6 1327.2L218.2 1328.4L218.7 1329.6L219.2 1331L219.6 1332.4L219.8 1333.8L220 1335.1L220 1336.4L220 1339.4Z" fill="#e92024"/>
<path d="M285.8 1339.4L285.8 1336.4L285.9 1334.7L286 1332.9L286.3 1331.3L286.6 1329.6L287.1 1328.1L287.6 1326.7L288.2 1325.4L288.9 1324.2L289.6 1323.2L290.5 1322.4L291.3 1321.7L292.2 1321.2L293.1 1320.9L294 1320.8L295.6 1320.9L297.2 1321.2L298.8 1321.7L300.4 1322.4L302 1323.3L303.4 1324.4L304.7 1325.6L305.9 1326.9L307 1328.4L307.8 1329.9L308.5 1331.5L309 1333.2L309.4 1334.8L309.5 1336.4L309.5 1339.4Z" fill="#e92024"/>
<path d="M202.3 1339.4L202.3 1336.4L202.4 1335.3L202.6 1334.2L202.9 1333.1L203.3 1332L203.8 1331L204.4 1330L205.2 1329.2L206 1328.4L206.8 1327.7L207.8 1327.1L208.8 1326.6L209.8 1326.3L210.8 1326.1L211.8 1326L212.5 1326.1L213.3 1326.3L214.1 1326.7L214.8 1327.1L215.6 1327.7L216.3 1328.4L216.9 1329.2L217.5 1330.1L218 1331.1L218.4 1332.2L218.8 1333.2L219 1334.3L219.2 1335.4L219.2 1336.4L219.2 1339.4Z" fill="#e21f26"/>
<path d="M287.8 1339.4L287.8 1336.4L287.8 1335L288 1333.7L288.2 1332.4L288.6 1331.1L289 1329.9L289.5 1328.8L290.1 1327.8L290.8 1326.9L291.6 1326.1L292.4 1325.4L293.2 1324.9L294.1 1324.5L295 1324.3L295.9 1324.2L297 1324.3L298.3 1324.5L299.5 1324.9L300.7 1325.5L301.8 1326.2L302.9 1327L303.9 1327.9L304.8 1329L305.6 1330.1L306.2 1331.3L306.7 1332.6L307.1 1333.9L307.3 1335.2L307.4 1336.4L307.4 1339.4Z" fill="#e21f26"/>
<path d="M203.3 1339.4L203.3 1336.4L203.4 1335.6L203.5 1334.8L203.8 1334L204.1 1333.2L204.6 1332.5L205.1 1331.8L205.7 1331.2L206.4 1330.7L207.1 1330.2L207.9 1329.8L208.7 1329.5L209.6 1329.2L210.4 1329.1L211.3 1329.1L212 1329.1L212.8 1329.2L213.5 1329.5L214.2 1329.8L215 1330.2L215.6 1330.7L216.2 1331.3L216.8 1331.9L217.3 1332.6L217.7 1333.4L218 1334.1L218.2 1334.9L218.4 1335.7L218.4 1336.4L218.4 1339.4Z" fill="#d61f26"/>
<path d="M289.7 1339.4L289.7 1336.4L289.8 1335.4L289.9 1334.4L290.2 1333.5L290.5 1332.6L290.9 1331.7L291.5 1330.9L292.1 1330.2L292.7 1329.5L293.5 1328.9L294.3 1328.4L295.1 1328.1L296 1327.8L296.8 1327.6L297.7 1327.6L298.5 1327.6L299.3 1327.8L300.1 1328.1L300.9 1328.5L301.7 1329L302.4 1329.6L303.1 1330.3L303.7 1331L304.2 1331.9L304.6 1332.7L304.9 1333.6L305.2 1334.6L305.3 1335.5L305.4 1336.4L305.4 1339.4Z" fill="#d61f26"/>
<path d="M204.3 1339.4L204.3 1336.4L204.3 1335.7L204.5 1335.1L204.7 1334.4L205 1333.8L205.4 1333.2L205.8 1332.7L206.3 1332.2L206.9 1331.7L207.5 1331.3L208.2 1331L208.9 1330.7L209.7 1330.6L210.4 1330.4L211.2 1330.4L211.8 1330.4L212.5 1330.6L213.2 1330.8L213.8 1331L214.5 1331.4L215.1 1331.8L215.6 1332.2L216.1 1332.8L216.5 1333.3L216.9 1333.9L217.2 1334.5L217.4 1335.2L217.5 1335.8L217.6 1336.4L217.6 1339.4Z" fill="#c52026"/>
<path d="M290.9 1339.4L290.9 1336.4L291 1335.6L291.1 1334.8L291.3 1334L291.7 1333.2L292 1332.5L292.5 1331.9L293.1 1331.3L293.7 1330.7L294.3 1330.2L295 1329.9L295.8 1329.5L296.6 1329.3L297.4 1329.2L298.2 1329.1L298.8 1329.2L299.5 1329.3L300.1 1329.6L300.7 1329.9L301.3 1330.3L301.9 1330.8L302.4 1331.4L302.9 1332L303.3 1332.7L303.7 1333.4L303.9 1334.1L304.1 1334.9L304.2 1335.7L304.3 1336.4L304.3 1339.4Z" fill="#c52026"/>
<path d="M205.2 1339.4L205.2 1336.4L205.3 1335.8L205.4 1335.2L205.5 1334.7L205.8 1334.1L206.1 1333.6L206.5 1333.2L207 1332.7L207.5 1332.3L208 1332L208.6 1331.7L209.2 1331.5L209.9 1331.3L210.5 1331.2L211.2 1331.2L211.8 1331.2L212.3 1331.3L212.9 1331.5L213.5 1331.7L214 1332L214.6 1332.4L215 1332.8L215.5 1333.2L215.8 1333.7L216.1 1334.2L216.4 1334.8L216.6 1335.3L216.7 1335.9L216.7 1336.4L216.7 1339.4Z" fill="#ae1e24"/>
<path d="M291.9 1339.4L291.9 1336.4L291.9 1335.7L292.1 1335L292.3 1334.3L292.5 1333.7L292.9 1333L293.3 1332.5L293.7 1331.9L294.3 1331.5L294.8 1331.1L295.5 1330.7L296.1 1330.5L296.8 1330.3L297.5 1330.1L298.2 1330.1L298.7 1330.1L299.3 1330.3L299.8 1330.5L300.4 1330.8L300.9 1331.1L301.4 1331.5L301.9 1332L302.3 1332.6L302.6 1333.2L302.9 1333.8L303.2 1334.4L303.3 1335.1L303.4 1335.8L303.5 1336.4L303.5 1339.4Z" fill="#ae1e24"/>
<path d="M206.1 1339.4L206.1 1336.4L206.2 1335.9L206.2 1335.4L206.4 1334.9L206.6 1334.5L206.9 1334.1L207.2 1333.6L207.6 1333.3L208 1333L208.5 1332.7L209 1332.4L209.5 1332.2L210.1 1332.1L210.6 1332L211.2 1332L211.7 1332L212.2 1332.1L212.7 1332.2L213.1 1332.4L213.6 1332.7L214 1333L214.4 1333.3L214.8 1333.7L215.1 1334.1L215.4 1334.6L215.6 1335L215.8 1335.5L215.8 1336L215.9 1336.4L215.9 1339.4Z" fill="#9d1c20"/>
<path d="M292.9 1339.4L292.9 1336.4L292.9 1335.8L293 1335.2L293.2 1334.6L293.4 1334.1L293.7 1333.6L294 1333.1L294.4 1332.6L294.9 1332.2L295.4 1331.9L295.9 1331.6L296.4 1331.4L297 1331.2L297.6 1331.1L298.2 1331.1L298.6 1331.1L299.1 1331.2L299.6 1331.4L300.1 1331.6L300.5 1331.9L300.9 1332.3L301.3 1332.7L301.7 1333.1L302 1333.6L302.2 1334.2L302.4 1334.7L302.6 1335.3L302.6 1335.9L302.7 1336.4L302.7 1339.4Z" fill="#9d1c20"/>
<path d="M207 1339.4L207 1336.4L207 1336L207.1 1335.6L207.3 1335.2L207.4 1334.8L207.7 1334.5L207.9 1334.1L208.2 1333.8L208.6 1333.6L209 1333.3L209.4 1333.1L209.8 1333L210.3 1332.9L210.7 1332.8L211.2 1332.8L211.6 1332.8L212 1332.9L212.4 1333L212.8 1333.1L213.2 1333.4L213.5 1333.6L213.9 1333.9L214.2 1334.2L214.4 1334.5L214.6 1334.9L214.8 1335.3L214.9 1335.7L215 1336L215 1336.4L215 1339.4Z" fill="#961a1e"/>
<path d="M293.8 1339.4L293.8 1336.4L293.8 1335.9L293.9 1335.4L294 1334.9L294.2 1334.5L294.5 1334.1L294.8 1333.7L295.1 1333.3L295.5 1333L295.9 1332.7L296.3 1332.4L296.7 1332.2L297.2 1332.1L297.7 1332L298.2 1332L298.6 1332L299 1332.1L299.3 1332.3L299.7 1332.5L300.1 1332.7L300.4 1333L300.8 1333.3L301 1333.7L301.3 1334.1L301.5 1334.6L301.7 1335L301.8 1335.5L301.9 1336L301.9 1336.4L301.9 1339.4Z" fill="#961a1e"/>
<path d="M0.2 1336.4L6.2 1336.4A6 6 0 0 0 3.2 1331.2Z" fill="#fff"/>
</g>
<path d="M0.2 1336.4L207.5 977.3A414.6 414.6 0 0 1 414.8 1336.4" fill="none" stroke="#0a0a0a" stroke-width="1" stroke-linejoin="miter"/>
<path d="M0.2 1336.4L414.8 1336.4" stroke="#3a3a3a" stroke-width="1.5"/>
<path d="M366.2 1336.1L413.8 1336.1" stroke="#a9a9cc" stroke-width="0.9"/>
<circle cx="69" cy="1335.8" r="1.4" fill="#0a0a0a"/>
<circle cx="34.6" cy="1276.9" r="2" fill="#0a0a0a"/>
<circle cx="206.4" cy="1335.8" r="1.4" fill="#0a0a0a"/>
<circle cx="103.3" cy="1157.8" r="2" fill="#0a0a0a"/>
<circle cx="343.9" cy="1335.8" r="1.4" fill="#0a0a0a"/>
<circle cx="172.1" cy="1038.7" r="2" fill="#0a0a0a"/>
<circle cx="389.8" cy="1194.6" r="2" fill="#0a0a0a"/>
<circle cx="317.8" cy="1069.9" r="2" fill="#0a0a0a"/>
<circle cx="207.5" cy="977.3" r="2" fill="#0a0a0a"/>
<text x="70.2" y="1356.5" class="t" text-anchor="middle">0.1</text>
<text x="31.4" y="1274.3" class="t" text-anchor="end">0.1</text>
<text x="207.6" y="1356.5" class="t" text-anchor="middle">0.3</text>
<text x="101.7" y="1155.8" class="t" text-anchor="end">0.3</text>
<text x="345.1" y="1356.5" class="t" text-anchor="middle">0.5</text>
<text x="169.9" y="1037.1" class="t" text-anchor="end">0.5</text>
<text x="422.9" y="1337.2" class="t">0</text>
<text x="397.8" y="1192.6" class="t">20</text>
<text x="323.9" y="1065.5" class="t">40</text>
<text x="211.7" y="971" class="t">60</text>
<text x="228.4" y="1380.9" class="m">β</text>
<text x="82.2" y="1135.2" class="m">β</text>
<text transform="translate(355.4 1124.6) scale(1.17 1)" class="m">γ</text>
<text x="192.2" y="1096.4" class="s w">0</text>
<text x="214.2" y="1107.2" class="ss w">3</text>
<text x="220.2" y="1084.8" class="sp w">+</text>
<text transform="translate(137.2 1147.1) scale(1.07 1)" class="e w">E=1.81 MeV</text>
</g>
<g>
<clipPath id="c7"><path d="M543.2 1336.4L957.8 1336.4A414.6 414.6 0 0 0 750.5 977.3Z"/></clipPath>
<path d="M543.2 1336.4L957.8 1336.4A414.6 414.6 0 0 0 750.5 977.3Z" fill="#2a2d7c"/>
<g clip-path="url(#c7)">
<path d="M719.8 1339.4L719.8 1336.4L719.9 1318L720.2 1308.9L720.7 1301.7L721.4 1295.6L722.4 1290.5L723.5 1286L724.9 1282.1L726.4 1278.8L728.3 1276L730.4 1273.8L732.9 1272L735.9 1270.8L739.6 1270L747.2 1269.8L752.9 1270.2L758.5 1271.5L763.9 1273.5L769.2 1276.4L774.2 1280L778.8 1284.3L783.1 1289.3L786.8 1294.9L790.1 1301L792.9 1307.5L795.1 1314.4L796.6 1321.6L797.6 1328.9L797.9 1336.4L797.9 1339.4Z" fill="#27348a"/>
<path d="M794.8 1339.4L794.8 1336.4L794.9 1309.1L795.3 1295.5L795.8 1284.8L796.7 1275.8L797.7 1268.1L799 1261.4L800.6 1255.7L802.4 1250.7L804.5 1246.6L807 1243.3L809.8 1240.7L813.2 1238.9L817.5 1237.8L826.2 1237.4L837.1 1238L847.9 1239.9L858.3 1243L868.4 1247.2L878 1252.6L886.9 1259L895 1266.4L902.3 1274.7L908.6 1283.7L913.9 1293.4L918 1303.7L921.1 1314.4L922.9 1325.3L923.5 1336.4L923.5 1339.4Z" fill="#27348a"/>
<path d="M609.2 1186.4L611.9 1187.2L614.2 1189L616.3 1191.4L618.4 1194.1L620.7 1196.7L623.6 1199L627 1201L630.7 1202.9L634.7 1204.8L638.9 1206.6L643.2 1208.4L647.5 1210.2L652.1 1211.9L657 1213.5L662 1215.1L666.9 1216.7L671.5 1218.4L675.6 1220.1L679.1 1221.8L682.3 1223.5L685.2 1225.1L687.8 1227L690.2 1229L692.5 1231.4L694.6 1234.1L696.5 1237.1L698.2 1240.3L699.7 1243.7L701.1 1247.3L702.2 1251L703.1 1254.9L703.7 1258.9L704.1 1263.2L704.4 1267.5L704.7 1271.9L705.2 1276.4L705.8 1280.4L706.4 1283.9L707 1287.5L707.7 1291.7L708.4 1297.2L709.2 1304.4L711.1 1314.7L714.3 1327.8L717.5 1342.2L719.5 1356.1L719.1 1368.1L714.9 1376.4L705.3 1381.6L690.9 1384.9L674 1386.3L657 1385.4L642.2 1382.2L632 1376.4L626.9 1366.4L625.2 1352L625.7 1335.2L627.3 1318L628.8 1302.4L629.2 1290.4L628.6 1282.2L628.1 1276.3L627.5 1272L626.8 1268.6L626 1265.6L625 1262.2L623.9 1258.7L622.7 1255.5L621.4 1252.7L619.9 1250.1L618.3 1247.7L616.6 1245.4L614.7 1243.3L612.5 1241.5L610.3 1239.8L607.9 1238.3L605.5 1236.9L603.2 1235.5L600.8 1234.4L598.1 1233.8L595.5 1233.3L593 1232.5L590.8 1231L589.2 1228.4L587.9 1224.3L586.8 1218.8L586 1212.6L585.6 1206.4L586 1200.7L587.2 1196.4L589.6 1193.2L593 1190.6L597.2 1188.6L601.5 1187.2L605.7 1186.5Z" fill="#27348a"/>
<path d="M723 1339.4L723 1336.4L723.1 1321.7L723.4 1313.5L724 1306.8L724.7 1301.1L725.7 1296.1L726.9 1291.7L728.3 1287.9L729.9 1284.7L731.8 1281.9L733.9 1279.7L736.3 1277.9L739.2 1276.7L742.7 1276L749 1275.7L754 1276.1L759 1277.3L764 1279.2L768.7 1281.8L773.2 1285.1L777.4 1289.1L781.3 1293.7L784.8 1298.8L787.8 1304.3L790.3 1310.3L792.3 1316.6L793.7 1323.1L794.6 1329.8L794.9 1336.4L794.9 1339.4Z" fill="#2a4198"/>
<path d="M802.2 1339.4L802.2 1336.4L802.3 1315.1L802.6 1303L803.2 1293.2L803.9 1284.8L804.9 1277.5L806.1 1271L807.5 1265.5L809.1 1260.7L811 1256.6L813.2 1253.3L815.7 1250.7L818.6 1248.9L822.1 1247.8L828.4 1247.5L837.9 1248L847.2 1249.7L856.4 1252.4L865.2 1256.3L873.5 1261.1L881.3 1266.9L888.3 1273.5L894.7 1280.9L900.2 1289.1L904.8 1297.8L908.4 1307L911.1 1316.6L912.6 1326.4L913.2 1336.4L913.2 1339.4Z" fill="#2a4198"/>
<path d="M653.2 1235.5L656.4 1235.3L660.1 1235.6L664.2 1236.3L668.3 1237.3L672.2 1238.4L675.6 1239.7L678.5 1241L681.1 1242.4L683.5 1244L685.7 1245.9L687.8 1248.2L689.7 1251L691.5 1254.4L693 1258.3L694.4 1262.7L695.7 1267.2L696.9 1271.9L698.1 1276.4L699.2 1280.4L700.1 1283.9L701 1287.5L701.8 1291.7L702.7 1297.2L703.7 1304.4L705.6 1314.7L708.6 1327.8L711.6 1342.2L713.7 1356.1L713.7 1368.1L710.7 1376.4L703.3 1381.6L692 1384.9L678.7 1386.3L665.2 1385.4L653.5 1382.2L645.2 1376.4L640.8 1366.3L638.9 1351.8L638.6 1334.9L639.3 1317.7L640.1 1302.1L640.2 1290.4L639.8 1282.8L639.6 1277.7L639.5 1274.3L639.6 1271.9L639.7 1269.5L639.8 1266.4L639.9 1262.6L640.1 1258.8L640.3 1255L640.7 1251.5L641.3 1248.2L642.2 1245.4L643.4 1242.9L644.8 1240.8L646.5 1238.9L648.4 1237.3L650.6 1236.2Z" fill="#2a4198"/>
<path d="M665.8 1253.1L668.4 1253.4L671.3 1254.3L674.3 1255.8L677.3 1257.6L680.1 1259.8L682.6 1262.2L684.7 1265L686.5 1268.1L688.1 1271.6L689.6 1275.4L691 1279.3L692.5 1283.4L694 1287.2L695.5 1290.9L697 1294.7L698.4 1299.1L699.7 1304.5L700.9 1311.4L702.7 1320.8L705.2 1332.7L707.6 1345.7L709.1 1358.2L709 1368.9L706.5 1376.4L700.4 1381.2L691.2 1384.4L680.3 1385.8L669.3 1385.2L659.8 1382.1L653.2 1376.4L649.9 1366.4L648.7 1352L649 1335.2L650 1318L651.1 1302.4L651.7 1290.4L651.8 1282.1L651.9 1276L652.1 1271.5L652.5 1268L653.2 1265.1L654.2 1262.2L655.5 1259.4L657.2 1257.1L659.1 1255.3L661.2 1254.1L663.5 1253.3Z" fill="#33489e"/>
<path d="M725.5 1339.4L725.5 1336.4L725.6 1324.4L725.9 1316.9L726.5 1310.7L727.2 1305.2L728.2 1300.4L729.5 1296.1L730.9 1292.4L732.5 1289.2L734.4 1286.5L736.6 1284.2L739 1282.5L741.8 1281.2L745.1 1280.5L750.4 1280.2L754.9 1280.6L759.5 1281.7L764 1283.5L768.4 1285.9L772.5 1289L776.4 1292.7L780 1297L783.2 1301.7L786 1306.9L788.3 1312.4L790.1 1318.3L791.5 1324.3L792.3 1330.4L792.5 1336.4L792.5 1339.4Z" fill="#33489e"/>
<path d="M807.9 1339.4L807.9 1336.4L808 1319.3L808.3 1308.5L808.8 1299.5L809.5 1291.6L810.4 1284.6L811.5 1278.4L812.7 1272.9L814.2 1268.2L815.9 1264.2L817.8 1261L820 1258.4L822.5 1256.6L825.4 1255.5L830 1255.2L838.5 1255.7L846.8 1257.2L854.9 1259.7L862.7 1263.2L870.1 1267.6L876.9 1272.9L883.2 1279L888.9 1285.8L893.7 1293.2L897.8 1301.2L901 1309.6L903.4 1318.3L904.8 1327.3L905.3 1336.4L905.3 1339.4Z" fill="#33489e"/>
<path d="M727.6 1339.4L727.6 1336.4L727.7 1326.5L728 1319.7L728.6 1313.8L729.4 1308.6L730.4 1304L731.7 1299.8L733.1 1296.2L734.8 1293L736.7 1290.3L738.8 1288.1L741.2 1286.3L743.9 1285.1L747 1284.3L751.6 1284.1L755.7 1284.4L759.9 1285.4L764.1 1287.1L768.1 1289.4L772 1292.3L775.6 1295.8L778.9 1299.8L781.9 1304.2L784.4 1309.1L786.6 1314.2L788.3 1319.6L789.6 1325.2L790.3 1330.9L790.6 1336.4L790.6 1339.4Z" fill="#3453a5"/>
<path d="M812.7 1339.4L812.7 1336.4L812.8 1322.6L813 1313L813.5 1304.6L814.1 1297.2L814.9 1290.5L815.9 1284.5L817.1 1279.2L818.4 1274.6L819.9 1270.7L821.6 1267.5L823.5 1264.9L825.6 1263.1L828 1262L831.5 1261.7L839 1262.1L846.4 1263.5L853.6 1265.9L860.6 1269.1L867.2 1273.1L873.3 1278L878.9 1283.6L883.9 1289.8L888.3 1296.6L891.9 1304L894.8 1311.7L896.9 1319.8L898.2 1328L898.6 1336.4L898.6 1339.4Z" fill="#3453a5"/>
<path d="M668.6 1266.4L670.7 1267L673 1268.1L675.5 1269.7L678 1271.6L680.4 1273.9L682.6 1276.4L684.5 1279.3L686.4 1282.6L688.1 1286.2L689.7 1290L691.1 1293.8L692.5 1297.4L693.7 1300.5L694.7 1303L695.7 1305.6L696.5 1308.7L697.3 1312.8L698.1 1318.4L699.4 1326.6L701.2 1337.1L703 1348.7L704.2 1360L704.1 1369.7L702.2 1376.4L697.6 1380.6L690.6 1383.4L682.3 1384.5L674 1383.9L666.7 1381.2L661.6 1376.4L658.9 1368.1L657.7 1356.2L657.5 1342.3L657.9 1328L658.5 1314.9L658.7 1304.4L658.6 1296.6L658.6 1290.1L658.7 1284.8L659 1280.4L659.5 1276.7L660.2 1273.4L661.1 1270.6L662.3 1268.7L663.6 1267.3L665.1 1266.6L666.8 1266.3Z" fill="#3453a5"/>
<path d="M729.4 1339.4L729.4 1336.4L729.5 1328.2L729.9 1322L730.5 1316.6L731.3 1311.6L732.3 1307.1L733.6 1303.1L735.1 1299.5L736.8 1296.3L738.7 1293.7L740.9 1291.4L743.2 1289.7L745.8 1288.4L748.7 1287.7L752.6 1287.4L756.4 1287.8L760.3 1288.7L764.1 1290.3L767.9 1292.5L771.5 1295.2L774.8 1298.5L777.9 1302.2L780.7 1306.4L783.1 1310.9L785.1 1315.8L786.7 1320.8L787.9 1326.1L788.6 1331.3L788.8 1336.4L788.8 1339.4Z" fill="#3c57a7"/>
<path d="M816.9 1339.4L816.9 1336.4L817 1325.3L817.2 1316.7L817.6 1309L818.2 1302L818.9 1295.6L819.8 1289.9L820.9 1284.7L822 1280.2L823.4 1276.3L824.8 1273.1L826.4 1270.6L828.2 1268.8L830.2 1267.8L832.7 1267.4L839.4 1267.8L846.1 1269.1L852.5 1271.3L858.7 1274.2L864.6 1278L870.1 1282.5L875.1 1287.6L879.6 1293.4L883.5 1299.7L886.8 1306.5L889.3 1313.6L891.2 1321L892.3 1328.7L892.7 1336.4L892.7 1339.4Z" fill="#3c57a7"/>
<path d="M675.6 1297.4L677.2 1297.6L679 1298.2L681 1299.2L683.1 1300.5L685 1302.3L686.8 1304.4L688.4 1306.7L690 1309.3L691.5 1312.2L692.9 1315.7L694.1 1320L695.2 1325.4L696.4 1332.8L697.8 1342.1L699.1 1352.2L699.8 1362.1L699.6 1370.5L698.2 1376.4L694.8 1380.2L689.6 1382.8L683.5 1384.1L677.4 1383.6L672.1 1381.2L668.6 1376.4L667 1367.8L666.6 1355.3L667.1 1340.8L668.1 1326.3L669.2 1313.5L670 1304.4L670.6 1299.3L671.3 1296.7L672.2 1296L673.2 1296.3L674.3 1297Z" fill="#3c57a7"/>
<path d="M682.6 1311.4L683.7 1312.1L685 1313.1L686.3 1314.8L687.6 1317.2L688.7 1320.7L689.7 1325.4L690.6 1332.3L691.6 1341.5L692.5 1351.8L693.1 1361.8L693.1 1370.4L692.5 1376.4L690.8 1380L688.1 1382.3L684.9 1383.2L681.7 1382.6L678.9 1380.3L677 1376.4L676 1369.5L675.6 1359.5L675.7 1347.8L676 1336.1L676.5 1325.8L677 1318.4L677.6 1314L678.4 1311.5L679.4 1310.4L680.4 1310.3L681.5 1310.8Z" fill="#4068b5"/>
<path d="M731.1 1339.4L731.1 1336.4L731.2 1329.6L731.6 1324L732.2 1319L733 1314.3L734.1 1309.9L735.4 1306L736.9 1302.5L738.7 1299.4L740.6 1296.7L742.7 1294.5L745 1292.7L747.5 1291.5L750.2 1290.7L753.5 1290.5L757 1290.8L760.6 1291.7L764.2 1293.2L767.7 1295.2L771 1297.8L774.2 1300.9L777.1 1304.4L779.7 1308.3L781.9 1312.6L783.8 1317.2L785.3 1321.9L786.4 1326.8L787.1 1331.7L787.3 1336.4L787.3 1339.4Z" fill="#4068b5"/>
<path d="M822.1 1339.4L822.1 1336.4L822.1 1326.6L822.4 1318.9L822.8 1312.1L823.3 1305.9L824 1300.3L824.9 1295.2L825.9 1290.6L827 1286.7L828.2 1283.2L829.6 1280.4L831.2 1278.2L832.9 1276.6L834.8 1275.6L837.2 1275.3L843 1275.7L848.8 1276.9L854.4 1278.8L859.8 1281.4L864.9 1284.7L869.7 1288.7L874 1293.2L877.9 1298.3L881.3 1303.9L884.1 1309.9L886.4 1316.2L888 1322.8L888.9 1329.6L889.3 1336.4L889.3 1339.4Z" fill="#4068b5"/>
<path d="M691.2 1328.4L691.7 1334L692.4 1342.4L693.2 1352.2L693.8 1362.1L694.2 1370.6L694.2 1376.4L693.7 1379.7L692.8 1381.6L691.6 1382.2L690.4 1381.5L689.4 1379.6L688.7 1376.4L688.4 1371L688.4 1363.2L688.5 1354.1L688.7 1345L689 1337L689.2 1331.4L689.4 1327.9L689.7 1325.4L690 1324.1L690.4 1324.1L690.8 1325.5Z" fill="#4585c8"/>
<path d="M732.6 1339.4L732.6 1336.4L732.7 1330.8L733.1 1325.8L733.7 1321.1L734.6 1316.6L735.7 1312.5L737.1 1308.7L738.6 1305.2L740.4 1302.2L742.3 1299.5L744.4 1297.3L746.7 1295.6L749 1294.3L751.6 1293.5L754.4 1293.3L757.6 1293.6L760.9 1294.4L764.3 1295.8L767.5 1297.8L770.6 1300.2L773.6 1303.1L776.3 1306.4L778.7 1310.1L780.8 1314.1L782.6 1318.4L784 1322.9L785 1327.5L785.6 1332L785.8 1336.4L785.8 1339.4Z" fill="#4585c8"/>
<path d="M826.8 1339.4L826.8 1336.4L826.9 1327.7L827.1 1321L827.5 1315L828 1309.6L828.7 1304.6L829.5 1300.1L830.4 1296.1L831.5 1292.6L832.7 1289.6L834.1 1287.1L835.6 1285.1L837.2 1283.7L839 1282.9L841.3 1282.6L846.4 1283L851.3 1284L856.1 1285.6L860.8 1287.9L865.2 1290.9L869.3 1294.3L873 1298.4L876.4 1302.9L879.3 1307.8L881.7 1313.1L883.6 1318.6L885 1324.4L885.8 1330.4L886.1 1336.4L886.1 1339.4Z" fill="#4585c8"/>
<path d="M734 1339.4L734 1336.4L734.1 1331.9L734.5 1327.4L735.2 1323L736.1 1318.8L737.2 1314.9L738.6 1311.1L740.2 1307.8L742 1304.7L743.9 1302.1L746 1299.9L748.2 1298.2L750.5 1296.9L752.8 1296.2L755.2 1295.9L758.1 1296.2L761.2 1297L764.3 1298.3L767.4 1300.1L770.3 1302.4L773 1305.1L775.5 1308.3L777.8 1311.8L779.8 1315.6L781.5 1319.6L782.8 1323.8L783.7 1328.1L784.3 1332.4L784.5 1336.4L784.5 1339.4Z" fill="#3bbdec"/>
<path d="M831.2 1339.4L831.2 1336.4L831.3 1328.8L831.5 1323L831.9 1317.7L832.4 1313L833 1308.6L833.8 1304.7L834.7 1301.2L835.8 1298.1L836.9 1295.5L838.2 1293.3L839.6 1291.6L841.2 1290.4L842.9 1289.6L845.2 1289.4L849.5 1289.7L853.7 1290.6L857.8 1292L861.7 1294.1L865.4 1296.6L868.9 1299.7L872.1 1303.2L874.9 1307.1L877.4 1311.4L879.4 1316L881.1 1320.9L882.2 1325.9L883 1331.1L883.2 1336.4L883.2 1339.4Z" fill="#3bbdec"/>
<path d="M735 1339.4L735 1336.4L735.1 1332.2L735.5 1328L736.1 1323.8L737 1319.8L738.2 1316L739.5 1312.4L741.1 1309.1L742.8 1306.1L744.7 1303.6L746.7 1301.4L748.8 1299.7L751 1298.5L753.3 1297.7L755.5 1297.5L758.2 1297.8L761.1 1298.5L764 1299.8L767 1301.6L769.8 1303.8L772.4 1306.5L774.8 1309.5L777 1312.9L779 1316.6L780.6 1320.5L781.9 1324.5L782.8 1328.6L783.4 1332.7L783.5 1336.4L783.5 1339.4Z" fill="#55c3d9"/>
<path d="M832.6 1339.4L832.6 1336.4L832.6 1330.1L832.9 1324.9L833.2 1320.2L833.7 1315.8L834.4 1311.8L835.2 1308.1L836.1 1304.8L837.1 1301.9L838.3 1299.4L839.6 1297.4L841 1295.7L842.5 1294.6L844.1 1293.9L846.1 1293.6L849.8 1293.9L853.6 1294.7L857.4 1296.1L861 1297.9L864.4 1300.3L867.6 1303.1L870.5 1306.3L873.2 1309.9L875.4 1313.9L877.4 1318.1L878.9 1322.5L880 1327.1L880.6 1331.8L880.8 1336.4L880.8 1339.4Z" fill="#55c3d9"/>
<path d="M735.9 1339.4L735.9 1336.4L736 1332.6L736.4 1328.6L737 1324.6L737.9 1320.7L739 1317L740.4 1313.6L741.9 1310.4L743.6 1307.5L745.4 1305L747.4 1302.9L749.5 1301.2L751.6 1300L753.7 1299.3L755.7 1299L758.2 1299.3L761 1300.1L763.8 1301.3L766.6 1303.1L769.3 1305.2L771.8 1307.8L774.2 1310.8L776.3 1314L778.2 1317.6L779.7 1321.3L781 1325.2L781.9 1329.1L782.4 1332.9L782.6 1336.4L782.6 1339.4Z" fill="#69c5be"/>
<path d="M833.9 1339.4L833.9 1336.4L833.9 1331.3L834.2 1326.7L834.6 1322.5L835.1 1318.5L835.7 1314.8L836.5 1311.4L837.5 1308.3L838.5 1305.6L839.6 1303.3L840.9 1301.3L842.2 1299.8L843.7 1298.7L845.2 1298L846.9 1297.8L850.3 1298L853.7 1298.8L857 1300L860.3 1301.7L863.4 1303.9L866.4 1306.4L869.1 1309.4L871.5 1312.7L873.6 1316.2L875.3 1320.1L876.7 1324.1L877.7 1328.2L878.3 1332.3L878.6 1336.4L878.6 1339.4Z" fill="#69c5be"/>
<path d="M736.8 1339.4L736.8 1336.4L736.9 1332.9L737.3 1329.1L737.9 1325.4L738.8 1321.6L739.9 1318.1L741.2 1314.7L742.7 1311.6L744.4 1308.8L746.2 1306.4L748.1 1304.3L750 1302.7L752.1 1301.5L754.1 1300.8L755.9 1300.6L758.2 1300.8L760.8 1301.6L763.5 1302.8L766.2 1304.5L768.8 1306.6L771.2 1309.1L773.5 1312L775.6 1315.1L777.4 1318.5L778.9 1322.1L780.1 1325.9L781 1329.6L781.5 1333.2L781.7 1336.4L781.7 1339.4Z" fill="#79c5a0"/>
<path d="M835.2 1339.4L835.2 1336.4L835.2 1332.3L835.5 1328.4L835.9 1324.6L836.4 1321.1L837.1 1317.7L837.9 1314.6L838.8 1311.7L839.8 1309.2L841 1307L842.2 1305.1L843.5 1303.7L844.9 1302.7L846.3 1302L847.8 1301.8L850.7 1302L853.7 1302.7L856.7 1303.8L859.7 1305.4L862.5 1307.3L865.2 1309.7L867.6 1312.3L869.8 1315.3L871.8 1318.5L873.4 1321.9L874.6 1325.5L875.6 1329.2L876.1 1332.9L876.3 1336.4L876.3 1339.4Z" fill="#79c5a0"/>
<path d="M737.7 1339.4L737.7 1336.4L737.8 1333.2L738.2 1329.7L738.8 1326.1L739.7 1322.5L740.8 1319.1L742 1315.8L743.5 1312.8L745.1 1310.1L746.9 1307.7L748.7 1305.7L750.6 1304.1L752.6 1303L754.5 1302.3L756.2 1302.1L758.3 1302.3L760.7 1303L763.3 1304.2L765.8 1305.8L768.3 1307.9L770.7 1310.3L772.9 1313.1L774.9 1316.2L776.6 1319.5L778.1 1322.9L779.3 1326.5L780.1 1330L780.6 1333.5L780.8 1336.4L780.8 1339.4Z" fill="#86c680"/>
<path d="M837.4 1339.4L837.4 1336.4L837.5 1333L837.7 1329.7L838.1 1326.4L838.6 1323.3L839.2 1320.3L840 1317.6L840.9 1315.1L841.9 1312.8L843 1310.9L844.2 1309.2L845.4 1307.9L846.7 1307L848.1 1306.4L849.4 1306.2L851.8 1306.4L854.4 1307L857 1308L859.5 1309.4L862 1311.1L864.3 1313.1L866.4 1315.5L868.3 1318L869.9 1320.9L871.3 1323.9L872.4 1327L873.2 1330.2L873.7 1333.4L873.8 1336.4L873.8 1339.4Z" fill="#86c680"/>
<path d="M738.6 1339.4L738.6 1336.4L738.7 1333.5L739.1 1330.2L739.7 1326.7L740.5 1323.3L741.6 1320L742.8 1316.9L744.3 1314L745.8 1311.4L747.5 1309L749.3 1307.1L751.2 1305.5L753 1304.4L754.8 1303.7L756.4 1303.5L758.3 1303.7L760.6 1304.5L763.1 1305.6L765.5 1307.2L767.9 1309.2L770.1 1311.6L772.3 1314.2L774.2 1317.2L775.9 1320.4L777.3 1323.7L778.4 1327.1L779.3 1330.5L779.8 1333.7L779.9 1336.4L779.9 1339.4Z" fill="#95ca65"/>
<path d="M840.6 1339.4L840.6 1336.4L840.6 1333.6L840.9 1330.7L841.2 1328L841.7 1325.4L842.3 1322.9L843 1320.6L843.8 1318.4L844.8 1316.5L845.8 1314.9L846.9 1313.5L848.1 1312.4L849.3 1311.6L850.5 1311.2L851.8 1311L853.7 1311.2L855.7 1311.7L857.8 1312.5L859.8 1313.6L861.7 1315.1L863.5 1316.8L865.2 1318.8L866.7 1321L868 1323.3L869.1 1325.9L870 1328.5L870.6 1331.2L871 1333.9L871.1 1336.4L871.1 1339.4Z" fill="#95ca65"/>
<path d="M739.4 1339.4L739.4 1336.4L739.6 1333.7L739.9 1330.6L740.5 1327.4L741.3 1324.1L742.4 1321L743.6 1317.9L745 1315.1L746.5 1312.6L748.2 1310.3L749.9 1308.4L751.7 1306.9L753.5 1305.8L755.2 1305.2L756.6 1304.9L758.4 1305.2L760.6 1305.9L762.9 1307L765.2 1308.5L767.4 1310.4L769.6 1312.7L771.7 1315.3L773.5 1318.2L775.1 1321.2L776.5 1324.4L777.6 1327.7L778.4 1330.9L778.9 1333.9L779.1 1336.4L779.1 1339.4Z" fill="#a4cd4a"/>
<path d="M843.7 1339.4L843.7 1336.4L843.7 1334.1L843.9 1331.8L844.3 1329.6L844.7 1327.4L845.3 1325.4L845.9 1323.5L846.7 1321.8L847.6 1320.2L848.5 1318.9L849.6 1317.7L850.6 1316.9L851.7 1316.2L852.9 1315.8L854.1 1315.7L855.5 1315.8L857 1316.2L858.6 1316.9L860.1 1317.8L861.5 1319L862.8 1320.4L864.1 1322L865.2 1323.8L866.2 1325.7L867 1327.8L867.6 1329.9L868.1 1332.1L868.4 1334.3L868.5 1336.4L868.5 1339.4Z" fill="#a4cd4a"/>
<path d="M740.3 1339.4L740.3 1336.4L740.4 1334L740.8 1331.1L741.3 1328L742.2 1324.9L743.2 1321.9L744.4 1319L745.7 1316.2L747.2 1313.8L748.8 1311.6L750.5 1309.7L752.2 1308.3L753.9 1307.2L755.5 1306.6L756.9 1306.3L758.5 1306.6L760.5 1307.2L762.7 1308.3L764.9 1309.8L767 1311.7L769.1 1313.9L771.1 1316.4L772.9 1319.1L774.4 1322.1L775.8 1325.1L776.8 1328.2L777.6 1331.3L778.1 1334.1L778.2 1336.4L778.2 1339.4Z" fill="#b9d237"/>
<path d="M846.9 1339.4L846.9 1336.4L846.9 1334.6L847.1 1332.9L847.4 1331.1L847.7 1329.5L848.2 1327.9L848.8 1326.5L849.5 1325.1L850.2 1324L851 1322.9L851.9 1322.1L852.8 1321.4L853.7 1320.9L854.7 1320.6L855.7 1320.5L856.7 1320.6L857.8 1320.9L858.9 1321.4L860 1322.1L861 1323L862 1324.1L862.9 1325.4L863.7 1326.7L864.4 1328.2L865 1329.8L865.5 1331.4L865.8 1333.1L866 1334.8L866.1 1336.4L866.1 1339.4Z" fill="#b9d237"/>
<path d="M741.1 1339.4L741.1 1336.4L741.2 1334.2L741.6 1331.5L742.2 1328.6L742.9 1325.7L743.9 1322.7L745.1 1319.9L746.4 1317.3L747.9 1314.9L749.5 1312.8L751.1 1311L752.7 1309.6L754.3 1308.6L755.9 1307.9L757.1 1307.7L758.6 1307.9L760.5 1308.6L762.5 1309.6L764.6 1311.1L766.6 1312.9L768.6 1315L770.5 1317.4L772.2 1320.1L773.7 1322.9L775 1325.8L776 1328.8L776.8 1331.6L777.2 1334.3L777.4 1336.4L777.4 1339.4Z" fill="#cfd927"/>
<path d="M850.2 1339.4L850.2 1336.4L850.2 1335.2L850.3 1334L850.5 1332.8L850.8 1331.6L851.2 1330.5L851.6 1329.5L852.1 1328.6L852.6 1327.8L853.2 1327.1L853.9 1326.5L854.5 1326L855.2 1325.7L856 1325.5L856.7 1325.4L857.4 1325.5L858.2 1325.7L858.9 1326L859.7 1326.5L860.4 1327.2L861.1 1327.9L861.7 1328.8L862.2 1329.7L862.7 1330.7L863.1 1331.8L863.5 1333L863.7 1334.1L863.8 1335.3L863.9 1336.4L863.9 1339.4Z" fill="#cfd927"/>
<path d="M741.9 1339.4L741.9 1336.4L742 1334.4L742.4 1331.9L742.9 1329.2L743.7 1326.4L744.7 1323.6L745.8 1320.9L747.1 1318.4L748.6 1316.1L750.1 1314L751.6 1312.3L753.2 1310.9L754.8 1309.9L756.2 1309.3L757.3 1309.1L758.6 1309.3L760.4 1309.9L762.3 1310.9L764.3 1312.3L766.3 1314.1L768.2 1316.1L770 1318.4L771.6 1321L773.1 1323.7L774.3 1326.5L775.3 1329.3L776 1332L776.4 1334.5L776.6 1336.4L776.6 1339.4Z" fill="#e6e21a"/>
<path d="M853.4 1339.4L853.4 1336.4L853.4 1335.7L853.5 1335L853.6 1334.4L853.8 1333.7L854.1 1333.1L854.3 1332.5L854.6 1332L855 1331.6L855.4 1331.2L855.8 1330.8L856.3 1330.6L856.7 1330.4L857.2 1330.2L857.7 1330.2L858.1 1330.2L858.5 1330.4L858.9 1330.6L859.4 1330.9L859.8 1331.2L860.1 1331.6L860.5 1332.1L860.8 1332.6L861.1 1333.2L861.3 1333.8L861.5 1334.5L861.6 1335.1L861.7 1335.8L861.7 1336.4L861.7 1339.4Z" fill="#e6e21a"/>
<path d="M742.7 1339.4L742.7 1336.4L742.8 1334.6L743.2 1332.3L743.7 1329.7L744.5 1327L745.4 1324.4L746.6 1321.8L747.8 1319.4L749.2 1317.2L750.7 1315.2L752.2 1313.5L753.7 1312.2L755.1 1311.2L756.5 1310.6L757.5 1310.4L758.7 1310.6L760.4 1311.2L762.2 1312.2L764 1313.5L765.9 1315.2L767.7 1317.2L769.4 1319.4L771 1321.9L772.4 1324.4L773.6 1327.1L774.5 1329.7L775.2 1332.3L775.6 1334.6L775.8 1336.4L775.8 1339.4Z" fill="#f6e909"/>
<path d="M743.5 1339.4L743.5 1336.4L743.6 1334.8L743.9 1332.6L744.5 1330.2L745.2 1327.7L746.2 1325.2L747.3 1322.7L748.5 1320.4L749.8 1318.2L751.2 1316.3L752.7 1314.7L754.1 1313.4L755.5 1312.5L756.8 1311.9L757.7 1311.7L758.8 1311.9L760.3 1312.5L762 1313.4L763.8 1314.7L765.6 1316.3L767.3 1318.2L768.9 1320.4L770.4 1322.7L771.8 1325.2L772.9 1327.7L773.8 1330.2L774.5 1332.6L774.9 1334.8L775 1336.4L775 1339.4Z" fill="#fee403"/>
<path d="M744.2 1339.4L744.2 1336.4L744.3 1334.9L744.6 1332.8L745.1 1330.5L745.9 1328.1L746.8 1325.7L747.8 1323.3L749 1321L750.3 1319L751.6 1317.1L753 1315.6L754.4 1314.3L755.7 1313.4L756.9 1312.8L757.8 1312.6L758.8 1312.8L760.3 1313.4L761.9 1314.3L763.6 1315.6L765.3 1317.1L766.9 1319L768.5 1321L769.9 1323.3L771.2 1325.7L772.3 1328.1L773.2 1330.5L773.8 1332.8L774.2 1334.9L774.3 1336.4L774.3 1339.4Z" fill="#fcd20a"/>
<path d="M744.9 1339.4L744.9 1336.4L745 1335L745.3 1333L745.8 1330.8L746.5 1328.5L747.3 1326.1L748.4 1323.8L749.5 1321.7L750.7 1319.7L752 1317.9L753.4 1316.4L754.7 1315.2L755.9 1314.3L757.1 1313.8L757.9 1313.6L758.9 1313.8L760.2 1314.3L761.8 1315.2L763.4 1316.4L765 1317.9L766.5 1319.7L768 1321.7L769.4 1323.8L770.6 1326.1L771.7 1328.5L772.5 1330.8L773.1 1333L773.5 1335L773.6 1336.4L773.6 1339.4Z" fill="#fcbf11"/>
<path d="M745.5 1339.4L745.5 1336.4L745.6 1335.1L745.9 1333.2L746.4 1331.1L747.1 1328.8L747.9 1326.6L748.9 1324.4L750 1322.3L751.2 1320.4L752.4 1318.7L753.7 1317.2L755 1316L756.2 1315.2L757.2 1314.7L758 1314.5L758.9 1314.7L760.2 1315.2L761.6 1316L763.2 1317.2L764.7 1318.7L766.2 1320.4L767.6 1322.3L768.9 1324.4L770.1 1326.6L771.1 1328.8L771.9 1331.1L772.5 1333.2L772.8 1335.1L773 1336.4L773 1339.4Z" fill="#faaf16"/>
<path d="M746.2 1339.4L746.2 1336.4L746.3 1335.1L746.6 1333.3L747.1 1331.3L747.7 1329.2L748.5 1327L749.4 1324.9L750.5 1322.9L751.6 1321.1L752.8 1319.4L754 1318L755.2 1316.9L756.3 1316.1L757.4 1315.6L758.1 1315.4L758.9 1315.6L760.2 1316.1L761.5 1316.9L763 1318L764.4 1319.4L765.8 1321.1L767.2 1322.9L768.4 1324.9L769.6 1327L770.5 1329.2L771.3 1331.3L771.8 1333.3L772.2 1335.1L772.3 1336.4L772.3 1339.4Z" fill="#f8a019"/>
<path d="M746.9 1339.4L746.9 1336.4L747 1335.2L747.2 1333.5L747.7 1331.6L748.3 1329.5L749 1327.5L749.9 1325.5L750.9 1323.5L752 1321.8L753.2 1320.2L754.3 1318.8L755.5 1317.7L756.5 1316.9L757.5 1316.5L758.2 1316.3L759 1316.5L760.1 1316.9L761.4 1317.7L762.8 1318.8L764.1 1320.2L765.5 1321.8L766.8 1323.5L768 1325.5L769 1327.5L769.9 1329.5L770.7 1331.6L771.2 1333.5L771.5 1335.2L771.6 1336.4L771.6 1339.4Z" fill="#f6911d"/>
<path d="M747.5 1339.4L747.5 1336.4L747.6 1335.3L747.9 1333.7L748.3 1331.8L748.9 1329.9L749.6 1327.9L750.4 1326L751.4 1324.1L752.4 1322.4L753.5 1320.9L754.6 1319.6L755.7 1318.6L756.7 1317.8L757.6 1317.3L758.3 1317.2L759 1317.3L760.1 1317.8L761.3 1318.6L762.6 1319.6L763.9 1320.9L765.2 1322.4L766.4 1324.1L767.5 1326L768.5 1327.9L769.4 1329.9L770.1 1331.8L770.6 1333.7L770.9 1335.3L771 1336.4L771 1339.4Z" fill="#f48020"/>
<path d="M748.1 1339.4L748.1 1336.4L748.2 1335.3L748.5 1333.8L748.9 1332.1L749.4 1330.2L750.1 1328.3L750.9 1326.5L751.9 1324.7L752.8 1323.1L753.9 1321.6L754.9 1320.4L755.9 1319.4L756.9 1318.6L757.8 1318.2L758.4 1318L759 1318.2L760 1318.6L761.2 1319.4L762.4 1320.4L763.6 1321.6L764.8 1323.1L766 1324.7L767.1 1326.5L768 1328.3L768.8 1330.2L769.5 1332.1L770 1333.8L770.3 1335.3L770.4 1336.4L770.4 1339.4Z" fill="#f36d22"/>
<path d="M748.8 1339.4L748.8 1336.4L748.8 1335.4L749.1 1334L749.5 1332.3L750 1330.5L750.7 1328.7L751.4 1327L752.3 1325.3L753.2 1323.7L754.2 1322.3L755.2 1321.1L756.2 1320.2L757.1 1319.5L757.9 1319L758.4 1318.9L759.1 1319L760 1319.5L761.1 1320.2L762.2 1321.1L763.4 1322.3L764.5 1323.7L765.6 1325.3L766.6 1327L767.5 1328.7L768.3 1330.5L768.9 1332.3L769.4 1334L769.6 1335.4L769.7 1336.4L769.7 1339.4Z" fill="#f15a24"/>
<path d="M749.4 1339.4L749.4 1336.4L749.5 1335.5L749.7 1334.1L750.1 1332.5L750.6 1330.9L751.2 1329.1L751.9 1327.5L752.7 1325.9L753.6 1324.4L754.5 1323L755.5 1321.9L756.4 1321L757.3 1320.3L758 1319.9L758.5 1319.7L759.1 1319.9L760 1320.3L761 1321L762 1321.9L763.1 1323L764.2 1324.4L765.2 1325.9L766.2 1327.5L767 1329.1L767.8 1330.9L768.3 1332.5L768.8 1334.1L769 1335.5L769.1 1336.4L769.1 1339.4Z" fill="#f04b24"/>
<path d="M750 1339.4L750 1336.4L750.1 1335.5L750.3 1334.2L750.6 1332.8L751.1 1331.2L751.7 1329.5L752.4 1327.9L753.2 1326.4L754 1325L754.9 1323.7L755.8 1322.6L756.6 1321.7L757.4 1321.1L758.1 1320.7L758.6 1320.6L759.2 1320.7L760 1321.1L760.9 1321.7L761.9 1322.6L762.9 1323.7L763.9 1325L764.9 1326.4L765.8 1327.9L766.5 1329.5L767.2 1331.2L767.8 1332.8L768.2 1334.2L768.4 1335.5L768.5 1336.4L768.5 1339.4Z" fill="#ef3c24"/>
<path d="M750.6 1339.4L750.6 1336.4L750.7 1335.6L750.9 1334.4L751.2 1333L751.7 1331.5L752.2 1329.9L752.9 1328.4L753.6 1327L754.4 1325.6L755.2 1324.4L756 1323.3L756.9 1322.5L757.6 1321.9L758.3 1321.5L758.7 1321.4L759.2 1321.5L759.9 1321.9L760.8 1322.5L761.7 1323.3L762.7 1324.4L763.6 1325.6L764.5 1327L765.3 1328.4L766.1 1329.9L766.7 1331.5L767.2 1333L767.6 1334.4L767.8 1335.6L767.9 1336.4L767.9 1339.4Z" fill="#ee3024"/>
<path d="M751.9 1339.4L751.9 1336.4L752 1335.7L752.2 1334.6L752.5 1333.4L752.8 1332.1L753.3 1330.7L753.9 1329.4L754.5 1328.1L755.2 1326.9L755.9 1325.8L756.6 1324.9L757.2 1324.2L757.9 1323.7L758.4 1323.3L758.8 1323.2L759.2 1323.3L759.8 1323.7L760.5 1324.2L761.3 1324.9L762.1 1325.8L762.9 1326.9L763.6 1328.1L764.3 1329.4L764.9 1330.7L765.4 1332.1L765.8 1333.4L766.1 1334.6L766.3 1335.7L766.4 1336.4L766.4 1339.4Z" fill="#ed2524"/>
<path d="M753.3 1339.4L753.3 1336.4L753.3 1335.8L753.5 1334.9L753.7 1333.8L754 1332.7L754.4 1331.5L754.9 1330.3L755.4 1329.2L755.9 1328.2L756.5 1327.3L757.1 1326.5L757.6 1325.9L758.2 1325.4L758.6 1325.1L758.9 1325L759.3 1325.1L759.7 1325.4L760.3 1325.9L760.9 1326.5L761.5 1327.3L762.1 1328.2L762.7 1329.2L763.2 1330.3L763.7 1331.5L764.1 1332.7L764.5 1333.8L764.7 1334.9L764.8 1335.8L764.9 1336.4L764.9 1339.4Z" fill="#e92024"/>
<path d="M754.6 1339.4L754.6 1336.4L754.6 1335.9L754.7 1335.1L754.9 1334.2L755.2 1333.2L755.5 1332.3L755.8 1331.3L756.2 1330.4L756.7 1329.5L757.1 1328.7L757.6 1328L758 1327.5L758.5 1327.1L758.8 1326.9L759.1 1326.8L759.3 1326.9L759.6 1327.1L760.1 1327.5L760.5 1328L760.9 1328.7L761.4 1329.5L761.8 1330.4L762.2 1331.3L762.6 1332.3L762.9 1333.2L763.1 1334.2L763.3 1335.1L763.4 1335.9L763.4 1336.4L763.4 1339.4Z" fill="#e21f26"/>
<path d="M755.9 1339.4L755.9 1336.4L755.9 1336L756 1335.3L756.1 1334.6L756.3 1333.8L756.5 1333L756.8 1332.2L757.1 1331.5L757.4 1330.8L757.8 1330.1L758.1 1329.6L758.4 1329.1L758.7 1328.8L759 1328.6L759.2 1328.6L759.3 1328.6L759.5 1328.8L759.8 1329.1L760.1 1329.6L760.4 1330.1L760.7 1330.8L760.9 1331.5L761.2 1332.2L761.4 1333L761.6 1333.8L761.8 1334.6L761.9 1335.3L761.9 1336L762 1336.4L762 1339.4Z" fill="#d61f26"/>
<path d="M756.5 1339.4L756.5 1336.4L756.5 1336L756.6 1335.5L756.7 1334.9L756.8 1334.2L757 1333.5L757.2 1332.8L757.5 1332.2L757.7 1331.6L758 1331L758.3 1330.5L758.6 1330.2L758.8 1329.9L759.1 1329.7L759.2 1329.7L759.3 1329.7L759.5 1329.9L759.7 1330.2L759.9 1330.5L760.1 1331L760.4 1331.6L760.6 1332.2L760.8 1332.8L760.9 1333.5L761.1 1334.2L761.2 1334.9L761.3 1335.5L761.4 1336L761.4 1336.4L761.4 1339.4Z" fill="#c52026"/>
<path d="M756.8 1339.4L756.8 1336.4L756.9 1336.1L756.9 1335.6L757 1335.1L757.1 1334.5L757.3 1333.9L757.5 1333.3L757.7 1332.7L757.9 1332.2L758.2 1331.7L758.4 1331.3L758.7 1331L758.9 1330.8L759.1 1330.6L759.2 1330.6L759.3 1330.6L759.5 1330.8L759.6 1331L759.8 1331.3L760 1331.7L760.2 1332.2L760.4 1332.7L760.6 1333.3L760.7 1333.9L760.8 1334.5L761 1335.1L761 1335.6L761.1 1336.1L761.1 1336.4L761.1 1339.4Z" fill="#ae1e24"/>
<path d="M757.2 1339.4L757.2 1336.4L757.2 1336.1L757.3 1335.7L757.3 1335.3L757.5 1334.8L757.6 1334.3L757.8 1333.8L757.9 1333.3L758.1 1332.8L758.3 1332.4L758.5 1332.1L758.7 1331.8L758.9 1331.6L759.1 1331.5L759.2 1331.5L759.3 1331.5L759.4 1331.6L759.6 1331.8L759.7 1332.1L759.9 1332.4L760.1 1332.8L760.2 1333.3L760.4 1333.8L760.5 1334.3L760.6 1334.8L760.7 1335.3L760.8 1335.7L760.8 1336.1L760.8 1336.4L760.8 1339.4Z" fill="#9d1c20"/>
<path d="M757.6 1339.4L757.6 1336.4L757.6 1336.2L757.6 1335.9L757.7 1335.5L757.8 1335.1L757.9 1334.6L758 1334.2L758.2 1333.8L758.3 1333.5L758.5 1333.1L758.7 1332.9L758.8 1332.6L759 1332.5L759.1 1332.4L759.2 1332.3L759.3 1332.4L759.4 1332.5L759.5 1332.6L759.6 1332.9L759.8 1333.1L759.9 1333.5L760 1333.8L760.2 1334.2L760.3 1334.6L760.3 1335.1L760.4 1335.5L760.5 1335.9L760.5 1336.2L760.5 1336.4L760.5 1339.4Z" fill="#961a1e"/>
<path d="M543.2 1336.4L549.2 1336.4A6 6 0 0 0 546.2 1331.2Z" fill="#fff"/>
</g>
<path d="M543.2 1336.4L750.5 977.3A414.6 414.6 0 0 1 957.8 1336.4" fill="none" stroke="#0a0a0a" stroke-width="1" stroke-linejoin="miter"/>
<path d="M543.2 1336.4L957.8 1336.4" stroke="#3a3a3a" stroke-width="1.5"/>
<path d="M909.2 1336.1L956.8 1336.1" stroke="#a9a9cc" stroke-width="0.9"/>
<circle cx="612" cy="1335.8" r="1.4" fill="#0a0a0a"/>
<circle cx="577.6" cy="1276.9" r="2" fill="#0a0a0a"/>
<circle cx="749.5" cy="1335.8" r="1.4" fill="#0a0a0a"/>
<circle cx="646.3" cy="1157.8" r="2" fill="#0a0a0a"/>
<circle cx="887" cy="1335.8" r="1.4" fill="#0a0a0a"/>
<circle cx="715.1" cy="1038.7" r="2" fill="#0a0a0a"/>
<circle cx="932.8" cy="1194.6" r="2" fill="#0a0a0a"/>
<circle cx="860.8" cy="1069.9" r="2" fill="#0a0a0a"/>
<circle cx="750.5" cy="977.3" r="2" fill="#0a0a0a"/>
<text x="613.2" y="1356.5" class="t" text-anchor="middle">0.1</text>
<text x="574.4" y="1274.3" class="t" text-anchor="end">0.1</text>
<text x="750.7" y="1356.5" class="t" text-anchor="middle">0.3</text>
<text x="644.7" y="1155.8" class="t" text-anchor="end">0.3</text>
<text x="888.2" y="1356.5" class="t" text-anchor="middle">0.5</text>
<text x="712.9" y="1037.1" class="t" text-anchor="end">0.5</text>
<text x="965.9" y="1337.2" class="t">0</text>
<text x="940.8" y="1192.6" class="t">20</text>
<text x="866.9" y="1065.5" class="t">40</text>
<text x="754.7" y="971" class="t">60</text>
<text x="771.4" y="1380.9" class="m">β</text>
<text x="625.2" y="1135.2" class="m">β</text>
<text transform="translate(898.4 1124.6) scale(1.17 1)" class="m">γ</text>
<text x="735.2" y="1096.4" class="s w">0</text>
<text x="757.2" y="1107.2" class="ss w">3</text>
<text x="763.2" y="1084.8" class="sp w">+</text>
<text transform="translate(680.2 1147.1) scale(1.07 1)" class="e w">E=1.67 MeV</text>
</g>
<g>
<clipPath id="c8"><path d="M1086.2 1336.4L1500.8 1336.4A414.6 414.6 0 0 0 1293.5 977.3Z"/></clipPath>
<path d="M1086.2 1336.4L1500.8 1336.4A414.6 414.6 0 0 0 1293.5 977.3Z" fill="#2a2d7c"/>
<g clip-path="url(#c8)">
<path d="M1167.7 1339.4L1167.7 1336.4L1167.7 1301.6L1167.9 1287.3L1168.1 1276.6L1168.3 1267.9L1168.7 1260.5L1169.1 1254.3L1169.7 1248.9L1170.3 1244.4L1171.1 1240.7L1172 1237.7L1173 1235.4L1174.3 1233.7L1176 1232.7L1180.2 1232.4L1190.2 1233L1199.4 1234.9L1208.1 1238L1216.4 1242.2L1224.2 1247.6L1231.3 1254.1L1237.9 1261.6L1243.6 1270.1L1248.6 1279.4L1252.8 1289.4L1256.1 1300.2L1258.5 1311.5L1259.9 1323.5L1260.4 1336.4L1260.4 1339.4Z" fill="#27348a"/>
<path d="M1262 1339.4L1262 1336.4L1262.1 1311.6L1262.5 1299.2L1263.1 1289.5L1264 1281.3L1265.1 1274.3L1266.5 1268.2L1268.1 1263L1270.1 1258.5L1272.3 1254.8L1274.9 1251.8L1277.9 1249.4L1281.5 1247.7L1286 1246.7L1295.2 1246.4L1301.9 1247L1308.6 1248.7L1315 1251.5L1321.2 1255.3L1327.1 1260.2L1332.6 1266L1337.6 1272.8L1342.1 1280.3L1346 1288.5L1349.3 1297.4L1351.8 1306.7L1353.7 1316.4L1354.8 1326.3L1355.2 1336.4L1355.2 1339.4Z" fill="#27348a"/>
<path d="M1354.2 1339.4L1354.2 1336.4L1354.4 1312.1L1354.9 1298L1355.8 1286.5L1357 1276.5L1358.6 1267.8L1360.6 1260.1L1362.9 1253.5L1365.5 1247.7L1368.6 1242.9L1372.1 1238.9L1376.1 1235.8L1380.8 1233.7L1386.4 1232.3L1396.2 1231.9L1404.9 1232.6L1414.9 1234.8L1425.3 1238.4L1435.5 1243.3L1445.6 1249.5L1455.1 1256.9L1463.9 1265.3L1471.9 1274.6L1478.9 1284.6L1484.8 1295.1L1489.5 1305.9L1492.9 1316.7L1495 1327.2L1495.7 1336.4L1495.7 1339.4Z" fill="#27348a"/>
<path d="M1175.9 1339.4L1175.9 1336.4L1175.9 1310.3L1176.1 1297.5L1176.3 1287.5L1176.6 1279.1L1176.9 1271.8L1177.4 1265.6L1177.9 1260.2L1178.6 1255.6L1179.3 1251.8L1180.2 1248.6L1181.2 1246.2L1182.4 1244.5L1183.9 1243.5L1187 1243.2L1195.4 1243.7L1203.4 1245.4L1211.2 1248.3L1218.6 1252.2L1225.6 1257.2L1232.1 1263.1L1238 1270L1243.3 1277.7L1247.8 1286.1L1251.6 1295.2L1254.7 1304.9L1256.8 1315L1258.1 1325.5L1258.6 1336.4L1258.6 1339.4Z" fill="#2a4198"/>
<path d="M1266.5 1339.4L1266.5 1336.4L1266.6 1316.3L1267 1305.4L1267.6 1296.7L1268.4 1289.2L1269.6 1282.8L1270.9 1277.1L1272.6 1272.3L1274.5 1268.1L1276.7 1264.5L1279.2 1261.7L1282.2 1259.4L1285.6 1257.9L1289.8 1256.9L1297.7 1256.6L1303.7 1257.1L1309.6 1258.6L1315.4 1261.1L1320.9 1264.5L1326.2 1268.8L1331.1 1274L1335.6 1280L1339.6 1286.6L1343 1293.9L1346 1301.8L1348.3 1310L1349.9 1318.6L1350.9 1327.5L1351.3 1336.4L1351.3 1339.4Z" fill="#2a4198"/>
<path d="M1358.3 1339.4L1358.3 1336.4L1358.5 1316.7L1359 1304L1359.9 1293.3L1361.1 1283.9L1362.6 1275.6L1364.5 1268.3L1366.7 1261.8L1369.3 1256.2L1372.2 1251.5L1375.5 1247.6L1379.2 1244.5L1383.4 1242.4L1388.4 1241.1L1396.2 1240.6L1403.6 1241.3L1412.4 1243.4L1421.6 1246.7L1430.9 1251.4L1440 1257.2L1448.6 1264.1L1456.7 1271.9L1464.1 1280.5L1470.5 1289.7L1476 1299.4L1480.3 1309.3L1483.5 1319.1L1485.4 1328.5L1486 1336.4L1486 1339.4Z" fill="#2a4198"/>
<path d="M1182.2 1339.4L1182.2 1336.4L1182.2 1316.7L1182.4 1305.2L1182.6 1295.8L1182.9 1287.7L1183.2 1280.6L1183.7 1274.4L1184.3 1268.9L1184.9 1264.3L1185.6 1260.3L1186.5 1257.1L1187.4 1254.6L1188.5 1252.8L1189.9 1251.8L1192.2 1251.4L1199.5 1251.9L1206.7 1253.5L1213.7 1256.2L1220.4 1259.8L1226.8 1264.4L1232.7 1269.9L1238.2 1276.3L1243 1283.4L1247.2 1291.2L1250.8 1299.5L1253.6 1308.3L1255.6 1317.5L1256.8 1326.9L1257.2 1336.4L1257.2 1339.4Z" fill="#33489e"/>
<path d="M1269.9 1339.4L1269.9 1336.4L1270 1319.7L1270.4 1310L1271 1302L1271.9 1295.1L1273 1289.1L1274.4 1283.9L1276 1279.3L1277.9 1275.3L1280.1 1272L1282.6 1269.3L1285.4 1267.1L1288.7 1265.6L1292.7 1264.7L1299.6 1264.4L1305 1264.9L1310.4 1266.2L1315.7 1268.5L1320.7 1271.5L1325.5 1275.5L1329.9 1280.1L1334 1285.5L1337.6 1291.5L1340.8 1298.1L1343.4 1305.2L1345.5 1312.6L1347 1320.4L1347.9 1328.3L1348.2 1336.4L1348.2 1339.4Z" fill="#33489e"/>
<path d="M1361.5 1339.4L1361.5 1336.4L1361.7 1319.9L1362.2 1308.4L1363 1298.4L1364.2 1289.5L1365.7 1281.6L1367.5 1274.5L1369.6 1268.2L1372.1 1262.7L1374.9 1258L1378 1254.2L1381.4 1251.2L1385.3 1249L1389.8 1247.7L1396.2 1247.3L1402.7 1248L1410.6 1249.9L1418.9 1253.1L1427.4 1257.5L1435.8 1263L1443.8 1269.5L1451.3 1276.9L1458.1 1285L1464.1 1293.6L1469.2 1302.7L1473.3 1311.8L1476.2 1320.9L1478 1329.4L1478.6 1336.4L1478.6 1339.4Z" fill="#33489e"/>
<path d="M1188.6 1339.4L1188.6 1336.4L1188.6 1321L1188.8 1310.9L1189 1302.4L1189.3 1294.9L1189.7 1288.2L1190.1 1282.3L1190.7 1277L1191.3 1272.5L1192.1 1268.7L1192.9 1265.5L1193.8 1263.1L1194.9 1261.3L1196.1 1260.3L1198 1259.9L1204.1 1260.4L1210.3 1261.9L1216.5 1264.3L1222.5 1267.7L1228.1 1271.9L1233.5 1277L1238.4 1282.8L1242.7 1289.3L1246.6 1296.4L1249.8 1304L1252.3 1311.9L1254.1 1320.1L1255.2 1328.3L1255.6 1336.4L1255.6 1339.4Z" fill="#3453a5"/>
<path d="M1272.8 1339.4L1272.8 1336.4L1272.9 1322.3L1273.3 1313.6L1273.9 1306.3L1274.8 1300L1275.9 1294.4L1277.3 1289.4L1278.9 1285.1L1280.8 1281.4L1282.9 1278.2L1285.4 1275.6L1288.1 1273.6L1291.3 1272.2L1295.1 1271.3L1301.2 1271L1306.2 1271.4L1311.1 1272.7L1315.9 1274.7L1320.5 1277.5L1324.9 1281L1328.9 1285.3L1332.7 1290.2L1336 1295.6L1338.9 1301.6L1341.3 1308L1343.2 1314.8L1344.6 1321.8L1345.4 1329.1L1345.7 1336.4L1345.7 1339.4Z" fill="#3453a5"/>
<path d="M1364.2 1339.4L1364.2 1336.4L1364.4 1322.4L1364.9 1311.9L1365.7 1302.6L1366.8 1294.2L1368.3 1286.5L1370 1279.6L1372.1 1273.5L1374.4 1268.1L1377.1 1263.5L1380 1259.8L1383.2 1256.8L1386.8 1254.7L1390.8 1253.4L1396.2 1253L1401.9 1253.6L1409.1 1255.4L1416.7 1258.5L1424.6 1262.6L1432.3 1267.9L1439.8 1274L1446.8 1281L1453.2 1288.7L1458.8 1296.8L1463.6 1305.3L1467.4 1313.9L1470.1 1322.3L1471.8 1330.1L1472.4 1336.4L1472.4 1339.4Z" fill="#3453a5"/>
<path d="M1194.2 1339.4L1194.2 1336.4L1194.2 1324.4L1194.4 1315.7L1194.6 1308L1194.9 1301L1195.3 1294.8L1195.8 1289.1L1196.4 1284.1L1197 1279.7L1197.8 1276L1198.6 1272.9L1199.5 1270.5L1200.5 1268.8L1201.6 1267.7L1203.2 1267.4L1208.3 1267.9L1213.7 1269.2L1219.1 1271.5L1224.4 1274.6L1229.4 1278.5L1234.2 1283.1L1238.6 1288.5L1242.6 1294.4L1246 1300.9L1248.9 1307.7L1251.2 1314.9L1252.9 1322.2L1253.9 1329.5L1254.2 1336.4L1254.2 1339.4Z" fill="#3c57a7"/>
<path d="M1275.3 1339.4L1275.3 1336.4L1275.4 1324.5L1275.8 1316.6L1276.5 1310L1277.3 1304.1L1278.5 1298.9L1279.8 1294.3L1281.5 1290.2L1283.3 1286.7L1285.4 1283.7L1287.8 1281.2L1290.5 1279.3L1293.6 1277.9L1297.2 1277.1L1302.6 1276.8L1307.2 1277.2L1311.7 1278.3L1316.1 1280.2L1320.3 1282.7L1324.3 1286L1328.1 1289.8L1331.5 1294.3L1334.5 1299.3L1337.2 1304.7L1339.4 1310.5L1341.1 1316.7L1342.4 1323.1L1343.2 1329.7L1343.4 1336.4L1343.4 1339.4Z" fill="#3c57a7"/>
<path d="M1366.6 1339.4L1366.6 1336.4L1366.7 1324.5L1367.2 1314.9L1368 1306.2L1369.1 1298.1L1370.5 1290.8L1372.2 1284.1L1374.2 1278.2L1376.5 1272.9L1379 1268.4L1381.8 1264.7L1384.8 1261.7L1388.1 1259.6L1391.7 1258.4L1396.2 1257.9L1401.3 1258.5L1407.8 1260.3L1414.9 1263.2L1422.1 1267.2L1429.3 1272.1L1436.3 1278L1442.8 1284.7L1448.8 1291.9L1454.1 1299.6L1458.6 1307.6L1462.2 1315.7L1464.8 1323.5L1466.4 1330.7L1466.9 1336.4L1466.9 1339.4Z" fill="#3c57a7"/>
<path d="M1202.9 1339.4L1202.9 1336.4L1203 1327.9L1203.1 1321.2L1203.3 1315.1L1203.6 1309.6L1204 1304.5L1204.5 1299.9L1205 1295.8L1205.7 1292.2L1206.4 1289.1L1207.1 1286.5L1208 1284.5L1208.9 1283.1L1209.9 1282.2L1211.2 1281.9L1215.3 1282.3L1219.7 1283.4L1224 1285.1L1228.3 1287.6L1232.4 1290.7L1236.2 1294.4L1239.8 1298.6L1243 1303.3L1245.8 1308.4L1248.1 1313.8L1250 1319.4L1251.3 1325.2L1252.1 1331L1252.4 1336.4L1252.4 1339.4Z" fill="#4068b5"/>
<path d="M1277.6 1339.4L1277.6 1336.4L1277.7 1326.3L1278.1 1319.2L1278.8 1313.2L1279.6 1307.8L1280.8 1302.9L1282.1 1298.6L1283.8 1294.8L1285.6 1291.4L1287.7 1288.6L1290.1 1286.3L1292.7 1284.4L1295.6 1283.1L1299 1282.3L1303.9 1282.1L1308.1 1282.4L1312.3 1283.4L1316.3 1285.1L1320.2 1287.5L1323.9 1290.4L1327.3 1293.9L1330.4 1298L1333.2 1302.5L1335.7 1307.5L1337.7 1312.8L1339.3 1318.5L1340.5 1324.3L1341.2 1330.3L1341.4 1336.4L1341.4 1339.4Z" fill="#4068b5"/>
<path d="M1368.7 1339.4L1368.7 1336.4L1368.9 1326.2L1369.3 1317.4L1370.1 1309.3L1371.2 1301.7L1372.6 1294.6L1374.2 1288.2L1376.1 1282.4L1378.3 1277.2L1380.7 1272.8L1383.3 1269.1L1386.1 1266.2L1389.2 1264.1L1392.4 1262.8L1396.2 1262.4L1400.8 1263L1406.7 1264.7L1413.2 1267.4L1420 1271.2L1426.7 1276L1433.2 1281.6L1439.3 1287.9L1444.9 1294.8L1449.9 1302.1L1454.1 1309.7L1457.5 1317.2L1459.9 1324.5L1461.4 1331.3L1461.9 1336.4L1461.9 1339.4Z" fill="#4068b5"/>
<path d="M1209.8 1339.4L1209.8 1336.4L1209.8 1329.8L1210 1324.5L1210.2 1319.7L1210.5 1315.3L1210.9 1311.2L1211.3 1307.6L1211.9 1304.3L1212.5 1301.4L1213.2 1298.9L1214 1296.9L1214.9 1295.3L1215.8 1294.2L1216.8 1293.5L1218.1 1293.2L1221.5 1293.5L1225 1294.3L1228.5 1295.7L1231.9 1297.6L1235.1 1300L1238.2 1302.9L1241 1306.2L1243.5 1309.9L1245.6 1313.9L1247.5 1318.2L1248.9 1322.6L1250 1327.2L1250.6 1331.9L1250.8 1336.4L1250.8 1339.4Z" fill="#4585c8"/>
<path d="M1279.7 1339.4L1279.7 1336.4L1279.9 1327.8L1280.2 1321.5L1280.9 1316L1281.8 1311L1282.9 1306.5L1284.3 1302.5L1285.9 1298.9L1287.7 1295.8L1289.8 1293.1L1292.1 1290.9L1294.6 1289.1L1297.5 1287.9L1300.7 1287.2L1305.1 1286.9L1309 1287.2L1312.8 1288.1L1316.5 1289.7L1320 1291.8L1323.4 1294.5L1326.6 1297.7L1329.5 1301.4L1332 1305.5L1334.3 1310.1L1336.1 1314.9L1337.6 1320.1L1338.7 1325.4L1339.3 1330.9L1339.5 1336.4L1339.5 1339.4Z" fill="#4585c8"/>
<path d="M1370.7 1339.4L1370.7 1336.4L1370.8 1327.7L1371.3 1319.7L1372 1312.1L1373.1 1304.9L1374.4 1298.1L1376 1291.9L1377.8 1286.2L1379.9 1281.1L1382.2 1276.8L1384.7 1273.2L1387.3 1270.3L1390.1 1268.2L1393 1267L1396.2 1266.6L1400.3 1267.1L1405.8 1268.7L1411.8 1271.4L1418 1275L1424.3 1279.5L1430.3 1284.9L1436.1 1290.9L1441.3 1297.4L1446 1304.4L1450 1311.5L1453.1 1318.6L1455.5 1325.5L1456.9 1331.7L1457.4 1336.4L1457.4 1339.4Z" fill="#4585c8"/>
<path d="M1215.4 1339.4L1215.4 1336.4L1215.4 1330.9L1215.6 1326.7L1215.8 1322.9L1216.1 1319.4L1216.5 1316.3L1217 1313.5L1217.6 1310.9L1218.3 1308.7L1219 1306.8L1219.8 1305.2L1220.7 1304L1221.7 1303.1L1222.8 1302.6L1224.2 1302.4L1227 1302.6L1229.8 1303.3L1232.5 1304.3L1235.1 1305.8L1237.6 1307.6L1239.9 1309.8L1242 1312.4L1243.9 1315.2L1245.5 1318.3L1246.9 1321.6L1248 1325.2L1248.8 1328.8L1249.2 1332.6L1249.4 1336.4L1249.4 1339.4Z" fill="#3bbdec"/>
<path d="M1281.7 1339.4L1281.7 1336.4L1281.8 1329.1L1282.2 1323.5L1282.9 1318.5L1283.7 1314L1284.9 1309.8L1286.2 1306L1287.8 1302.7L1289.7 1299.7L1291.7 1297.2L1294 1295.1L1296.5 1293.5L1299.2 1292.3L1302.2 1291.6L1306.2 1291.4L1309.7 1291.7L1313.2 1292.5L1316.6 1293.9L1319.9 1295.9L1323 1298.3L1325.9 1301.2L1328.5 1304.6L1330.9 1308.3L1333 1312.5L1334.7 1316.9L1336 1321.5L1337 1326.4L1337.6 1331.4L1337.8 1336.4L1337.8 1339.4Z" fill="#3bbdec"/>
<path d="M1372.5 1339.4L1372.5 1336.4L1372.6 1329L1373.1 1321.7L1373.8 1314.6L1374.8 1307.8L1376.1 1301.3L1377.7 1295.2L1379.4 1289.7L1381.4 1284.8L1383.6 1280.5L1385.9 1276.9L1388.4 1274.1L1390.9 1272.1L1393.5 1270.8L1396.2 1270.4L1399.9 1270.9L1404.9 1272.5L1410.4 1275L1416.2 1278.5L1422.1 1282.8L1427.7 1287.9L1433.1 1293.6L1438 1299.8L1442.4 1306.4L1446.1 1313.2L1449.1 1319.9L1451.3 1326.3L1452.7 1332.1L1453.1 1336.4L1453.1 1339.4Z" fill="#3bbdec"/>
<path d="M1218.4 1339.4L1218.4 1336.4L1218.5 1331.9L1218.6 1328.3L1218.8 1324.9L1219.1 1321.8L1219.5 1318.9L1220 1316.3L1220.6 1314L1221.2 1311.9L1221.9 1310.1L1222.6 1308.7L1223.5 1307.5L1224.4 1306.7L1225.4 1306.2L1226.6 1306L1228.8 1306.2L1231 1306.8L1233.2 1307.7L1235.3 1309.1L1237.3 1310.7L1239.2 1312.7L1240.9 1315L1242.5 1317.6L1243.8 1320.4L1244.9 1323.4L1245.8 1326.5L1246.5 1329.8L1246.9 1333.1L1247 1336.4L1247 1339.4Z" fill="#55c3d9"/>
<path d="M1283.1 1339.4L1283.1 1336.4L1283.2 1329.7L1283.6 1324.5L1284.2 1319.7L1285 1315.4L1286.1 1311.5L1287.4 1307.9L1289 1304.7L1290.7 1301.8L1292.7 1299.4L1294.9 1297.4L1297.2 1295.9L1299.8 1294.7L1302.7 1294L1306.4 1293.8L1309.6 1294.1L1312.9 1294.9L1316.1 1296.2L1319.2 1298.1L1322.1 1300.4L1324.8 1303.2L1327.3 1306.3L1329.5 1309.9L1331.5 1313.8L1333.1 1318L1334.4 1322.4L1335.3 1327L1335.9 1331.7L1336 1336.4L1336 1339.4Z" fill="#55c3d9"/>
<path d="M1373.8 1339.4L1373.8 1336.4L1373.9 1329.7L1374.4 1322.8L1375.1 1316L1376.1 1309.4L1377.4 1303.1L1378.9 1297.2L1380.6 1291.8L1382.5 1287L1384.7 1282.8L1386.9 1279.3L1389.3 1276.5L1391.7 1274.5L1394.2 1273.2L1396.6 1272.8L1400 1273.3L1404.8 1274.8L1410 1277.3L1415.5 1280.6L1421 1284.8L1426.4 1289.7L1431.5 1295.3L1436.2 1301.3L1440.4 1307.7L1443.9 1314.2L1446.8 1320.6L1448.9 1326.8L1450.1 1332.4L1450.5 1336.4L1450.5 1339.4Z" fill="#55c3d9"/>
<path d="M1221.4 1339.4L1221.4 1336.4L1221.4 1332.8L1221.6 1329.7L1221.8 1326.7L1222.1 1324L1222.4 1321.4L1222.9 1319L1223.4 1316.9L1224 1315L1224.7 1313.4L1225.4 1312L1226.2 1310.9L1227 1310.2L1227.9 1309.7L1228.8 1309.5L1230.5 1309.7L1232.2 1310.2L1233.9 1311.1L1235.5 1312.3L1237.1 1313.8L1238.6 1315.6L1239.9 1317.6L1241.1 1319.9L1242.1 1322.4L1243 1325L1243.7 1327.8L1244.2 1330.7L1244.5 1333.6L1244.6 1336.4L1244.6 1339.4Z" fill="#69c5be"/>
<path d="M1284.4 1339.4L1284.4 1336.4L1284.5 1330.3L1284.9 1325.4L1285.5 1320.9L1286.3 1316.8L1287.3 1313.1L1288.6 1309.6L1290.1 1306.6L1291.8 1303.9L1293.7 1301.6L1295.7 1299.6L1298 1298.1L1300.5 1297.1L1303.2 1296.4L1306.5 1296.2L1309.6 1296.4L1312.6 1297.2L1315.6 1298.5L1318.5 1300.2L1321.2 1302.4L1323.8 1305L1326.1 1308.1L1328.2 1311.4L1330 1315.1L1331.6 1319.1L1332.8 1323.3L1333.6 1327.6L1334.2 1332L1334.3 1336.4L1334.3 1339.4Z" fill="#69c5be"/>
<path d="M1375 1339.4L1375 1336.4L1375.2 1330.3L1375.6 1323.8L1376.3 1317.3L1377.3 1311L1378.6 1304.9L1380 1299.2L1381.7 1293.9L1383.6 1289.2L1385.7 1285L1387.9 1281.5L1390.2 1278.8L1392.5 1276.8L1394.8 1275.6L1397 1275.2L1400.2 1275.7L1404.6 1277.1L1409.6 1279.5L1414.7 1282.8L1420 1286.8L1425.1 1291.6L1429.9 1296.9L1434.4 1302.7L1438.4 1308.9L1441.7 1315.1L1444.5 1321.3L1446.4 1327.3L1447.7 1332.6L1448.1 1336.4L1448.1 1339.4Z" fill="#69c5be"/>
<path d="M1224.3 1339.4L1224.3 1336.4L1224.3 1333.6L1224.4 1331L1224.7 1328.4L1224.9 1326L1225.3 1323.7L1225.7 1321.6L1226.2 1319.7L1226.8 1318L1227.4 1316.5L1228.1 1315.3L1228.8 1314.3L1229.5 1313.6L1230.3 1313.1L1231.1 1313L1232.2 1313.2L1233.4 1313.6L1234.6 1314.4L1235.8 1315.4L1236.9 1316.7L1238 1318.3L1238.9 1320.1L1239.8 1322.1L1240.5 1324.3L1241.2 1326.6L1241.7 1329L1242 1331.5L1242.3 1334L1242.3 1336.4L1242.3 1339.4Z" fill="#79c5a0"/>
<path d="M1285.7 1339.4L1285.7 1336.4L1285.8 1330.8L1286.2 1326.2L1286.7 1322L1287.5 1318.2L1288.5 1314.6L1289.8 1311.3L1291.2 1308.4L1292.8 1305.8L1294.6 1303.6L1296.6 1301.8L1298.7 1300.4L1301.1 1299.3L1303.6 1298.7L1306.7 1298.5L1309.5 1298.7L1312.3 1299.5L1315.1 1300.6L1317.8 1302.3L1320.4 1304.4L1322.8 1306.9L1325 1309.7L1326.9 1312.9L1328.6 1316.4L1330 1320.2L1331.2 1324.1L1332 1328.2L1332.5 1332.3L1332.7 1336.4L1332.7 1339.4Z" fill="#79c5a0"/>
<path d="M1376.3 1339.4L1376.3 1336.4L1376.4 1330.9L1376.8 1324.8L1377.5 1318.6L1378.5 1312.5L1379.7 1306.6L1381.2 1301L1382.8 1295.9L1384.7 1291.2L1386.7 1287.2L1388.8 1283.8L1391 1281.1L1393.2 1279.1L1395.4 1277.9L1397.4 1277.5L1400.3 1278L1404.5 1279.4L1409.2 1281.7L1414 1284.8L1419 1288.7L1423.8 1293.3L1428.4 1298.5L1432.6 1304.1L1436.4 1310L1439.6 1316.1L1442.2 1322L1444.1 1327.7L1445.2 1332.8L1445.6 1336.4L1445.6 1339.4Z" fill="#79c5a0"/>
<path d="M1228.2 1339.4L1228.2 1336.4L1228.3 1334.7L1228.3 1333L1228.5 1331.4L1228.7 1329.9L1228.9 1328.4L1229.2 1327L1229.6 1325.7L1230 1324.6L1230.4 1323.6L1230.9 1322.8L1231.3 1322.2L1231.8 1321.7L1232.4 1321.4L1232.9 1321.3L1233.5 1321.4L1234.2 1321.7L1234.8 1322.2L1235.5 1322.9L1236.1 1323.8L1236.7 1324.8L1237.3 1325.9L1237.7 1327.2L1238.2 1328.6L1238.5 1330.1L1238.8 1331.7L1239 1333.3L1239.1 1334.9L1239.2 1336.4L1239.2 1339.4Z" fill="#86c680"/>
<path d="M1287 1339.4L1287 1336.4L1287.1 1331.3L1287.4 1327.1L1288 1323.1L1288.7 1319.5L1289.7 1316.1L1290.9 1313L1292.2 1310.2L1293.8 1307.8L1295.5 1305.7L1297.4 1303.9L1299.4 1302.5L1301.6 1301.5L1304 1300.9L1306.8 1300.8L1309.4 1301L1312 1301.7L1314.6 1302.8L1317.1 1304.3L1319.5 1306.3L1321.8 1308.7L1323.8 1311.4L1325.6 1314.4L1327.2 1317.7L1328.6 1321.2L1329.6 1324.9L1330.4 1328.7L1330.9 1332.6L1331 1336.4L1331 1339.4Z" fill="#86c680"/>
<path d="M1377.4 1339.4L1377.4 1336.4L1377.6 1331.4L1378 1325.7L1378.7 1319.8L1379.7 1313.9L1380.9 1308.2L1382.3 1302.8L1383.9 1297.8L1385.7 1293.3L1387.7 1289.3L1389.7 1285.9L1391.8 1283.3L1393.9 1281.3L1396 1280.1L1397.8 1279.8L1400.5 1280.2L1404.4 1281.6L1408.8 1283.8L1413.4 1286.8L1418 1290.6L1422.6 1295.1L1426.9 1300.1L1430.9 1305.5L1434.5 1311.2L1437.6 1317L1440 1322.7L1441.8 1328.1L1442.9 1333L1443.2 1336.4L1443.2 1339.4Z" fill="#86c680"/>
<path d="M1233.2 1339.4L1233.2 1336.4L1233.2 1336.2L1233.2 1336L1233.3 1335.7L1233.3 1335.5L1233.4 1335.3L1233.4 1335.2L1233.5 1335L1233.6 1334.8L1233.7 1334.7L1233.8 1334.6L1233.9 1334.5L1234 1334.5L1234.1 1334.4L1234.2 1334.4L1234.3 1334.4L1234.4 1334.5L1234.5 1334.5L1234.6 1334.6L1234.7 1334.7L1234.8 1334.9L1234.9 1335L1235 1335.2L1235 1335.4L1235.1 1335.6L1235.1 1335.8L1235.2 1336L1235.2 1336.2L1235.2 1336.4L1235.2 1339.4Z" fill="#95ca65"/>
<path d="M1288.2 1339.4L1288.2 1336.4L1288.3 1331.8L1288.6 1327.8L1289.2 1324.1L1289.9 1320.7L1290.8 1317.5L1292 1314.6L1293.3 1312L1294.7 1309.6L1296.4 1307.6L1298.2 1306L1300.1 1304.7L1302.2 1303.7L1304.4 1303.2L1307 1303L1309.4 1303.2L1311.8 1303.8L1314.2 1304.9L1316.5 1306.4L1318.7 1308.2L1320.8 1310.4L1322.7 1313L1324.4 1315.8L1325.9 1318.9L1327.1 1322.2L1328.1 1325.7L1328.8 1329.2L1329.3 1332.9L1329.4 1336.4L1329.4 1339.4Z" fill="#95ca65"/>
<path d="M1378.6 1339.4L1378.6 1336.4L1378.8 1331.9L1379.2 1326.5L1379.9 1321L1380.8 1315.3L1382 1309.8L1383.4 1304.6L1385 1299.7L1386.7 1295.2L1388.6 1291.3L1390.6 1288L1392.6 1285.4L1394.6 1283.5L1396.5 1282.4L1398.1 1282L1400.7 1282.4L1404.3 1283.7L1408.4 1285.9L1412.7 1288.8L1417.1 1292.5L1421.4 1296.8L1425.5 1301.6L1429.3 1306.8L1432.7 1312.3L1435.5 1317.8L1437.8 1323.3L1439.5 1328.6L1440.6 1333.2L1440.9 1336.4L1440.9 1339.4Z" fill="#95ca65"/>
<path d="M1289.4 1339.4L1289.4 1336.4L1289.5 1332.2L1289.8 1328.6L1290.3 1325.1L1291 1321.9L1291.9 1318.9L1293 1316.2L1294.3 1313.7L1295.7 1311.5L1297.2 1309.6L1298.9 1308L1300.7 1306.8L1302.7 1305.9L1304.8 1305.3L1307.1 1305.1L1309.3 1305.3L1311.5 1305.9L1313.7 1306.9L1315.9 1308.3L1317.9 1310.1L1319.9 1312.1L1321.6 1314.5L1323.2 1317.2L1324.6 1320.1L1325.7 1323.2L1326.6 1326.4L1327.3 1329.7L1327.7 1333.1L1327.8 1336.4L1327.8 1339.4Z" fill="#a4cd4a"/>
<path d="M1379.8 1339.4L1379.8 1336.4L1379.9 1332.3L1380.3 1327.3L1381 1322.1L1381.9 1316.7L1383.1 1311.4L1384.4 1306.3L1386 1301.5L1387.7 1297.2L1389.5 1293.4L1391.4 1290.1L1393.3 1287.5L1395.2 1285.7L1397 1284.5L1398.5 1284.1L1400.8 1284.6L1404.2 1285.8L1408 1287.9L1412.1 1290.7L1416.2 1294.3L1420.2 1298.4L1424.1 1303L1427.7 1308.1L1430.8 1313.3L1433.5 1318.7L1435.7 1324L1437.3 1328.9L1438.3 1333.3L1438.6 1336.4L1438.6 1339.4Z" fill="#a4cd4a"/>
<path d="M1290.6 1339.4L1290.6 1336.4L1290.7 1332.7L1291 1329.3L1291.5 1326.1L1292.2 1323.1L1293 1320.3L1294 1317.7L1295.2 1315.3L1296.6 1313.3L1298 1311.5L1299.6 1310L1301.4 1308.8L1303.2 1307.9L1305.1 1307.4L1307.3 1307.3L1309.2 1307.4L1311.3 1308L1313.3 1308.9L1315.3 1310.2L1317.2 1311.9L1318.9 1313.8L1320.6 1316L1322 1318.5L1323.3 1321.2L1324.4 1324.1L1325.2 1327.1L1325.8 1330.2L1326.2 1333.4L1326.3 1336.4L1326.3 1339.4Z" fill="#b9d237"/>
<path d="M1380.9 1339.4L1380.9 1336.4L1381 1332.8L1381.4 1328.1L1382.1 1323.1L1383 1318L1384.1 1312.9L1385.5 1307.9L1387 1303.3L1388.7 1299.1L1390.4 1295.3L1392.2 1292.1L1394.1 1289.6L1395.9 1287.8L1397.5 1286.6L1398.8 1286.3L1401 1286.7L1404.1 1287.9L1407.7 1289.9L1411.5 1292.6L1415.3 1296L1419.1 1300L1422.7 1304.5L1426.1 1309.3L1429.1 1314.4L1431.6 1319.5L1433.7 1324.6L1435.2 1329.3L1436.1 1333.5L1436.4 1336.4L1436.4 1339.4Z" fill="#b9d237"/>
<path d="M1291.8 1339.4L1291.8 1336.4L1291.9 1333L1292.2 1329.9L1292.6 1327L1293.3 1324.2L1294.1 1321.6L1295.1 1319.1L1296.2 1317L1297.4 1315L1298.8 1313.3L1300.4 1311.9L1302 1310.8L1303.7 1310L1305.5 1309.5L1307.4 1309.3L1309.2 1309.5L1311 1310.1L1312.9 1310.9L1314.7 1312.1L1316.4 1313.6L1318 1315.5L1319.5 1317.5L1320.9 1319.8L1322 1322.4L1323 1325L1323.8 1327.8L1324.3 1330.7L1324.7 1333.6L1324.8 1336.4L1324.8 1339.4Z" fill="#cfd927"/>
<path d="M1382 1339.4L1382 1336.4L1382.1 1333.1L1382.5 1328.8L1383.2 1324.1L1384.1 1319.2L1385.2 1314.3L1386.5 1309.5L1388 1305L1389.6 1300.9L1391.3 1297.2L1393 1294.1L1394.8 1291.6L1396.5 1289.8L1398 1288.7L1399.2 1288.3L1401.2 1288.7L1404.1 1289.9L1407.4 1291.9L1410.9 1294.5L1414.5 1297.8L1418 1301.6L1421.4 1305.9L1424.5 1310.5L1427.3 1315.4L1429.7 1320.3L1431.6 1325.2L1433 1329.7L1433.9 1333.7L1434.2 1336.4L1434.2 1339.4Z" fill="#cfd927"/>
<path d="M1293 1339.4L1293 1336.4L1293 1333.4L1293.3 1330.6L1293.7 1327.8L1294.3 1325.3L1295.1 1322.8L1296 1320.6L1297.1 1318.5L1298.3 1316.7L1299.6 1315.1L1301 1313.8L1302.5 1312.8L1304.1 1312L1305.8 1311.6L1307.5 1311.4L1309.1 1311.6L1310.8 1312.1L1312.5 1312.9L1314.1 1314L1315.7 1315.4L1317.2 1317.1L1318.5 1319L1319.7 1321.1L1320.8 1323.5L1321.7 1325.9L1322.4 1328.5L1322.9 1331.2L1323.2 1333.9L1323.3 1336.4L1323.3 1339.4Z" fill="#e6e21a"/>
<path d="M1383.1 1339.4L1383.1 1336.4L1383.2 1333.5L1383.6 1329.5L1384.2 1325L1385.1 1320.4L1386.2 1315.7L1387.5 1311.1L1388.9 1306.7L1390.5 1302.7L1392.1 1299.1L1393.8 1296.1L1395.5 1293.6L1397.1 1291.9L1398.5 1290.8L1399.5 1290.4L1401.3 1290.8L1404 1291.9L1407.1 1293.8L1410.3 1296.3L1413.7 1299.5L1417 1303.1L1420.1 1307.3L1423 1311.7L1425.6 1316.4L1427.8 1321.1L1429.6 1325.7L1430.9 1330.1L1431.7 1333.8L1432 1336.4L1432 1339.4Z" fill="#e6e21a"/>
<path d="M1294.1 1339.4L1294.1 1336.4L1294.2 1333.7L1294.4 1331.2L1294.8 1328.7L1295.4 1326.3L1296.1 1324L1297 1322L1298 1320.1L1299.1 1318.4L1300.4 1316.9L1301.7 1315.7L1303.1 1314.7L1304.6 1314L1306.1 1313.6L1307.7 1313.4L1309.1 1313.6L1310.6 1314L1312.1 1314.8L1313.6 1315.8L1315 1317.1L1316.3 1318.6L1317.5 1320.4L1318.6 1322.4L1319.6 1324.5L1320.4 1326.8L1321 1329.2L1321.5 1331.6L1321.7 1334.1L1321.8 1336.4L1321.8 1339.4Z" fill="#f6e909"/>
<path d="M1384.2 1339.4L1384.2 1336.4L1384.3 1333.8L1384.7 1330.1L1385.3 1326L1386.1 1321.5L1387.2 1317L1388.4 1312.6L1389.8 1308.3L1391.4 1304.4L1392.9 1301L1394.5 1298L1396.1 1295.6L1397.6 1293.8L1399 1292.8L1399.9 1292.4L1401.5 1292.8L1404 1293.9L1406.8 1295.7L1409.8 1298.1L1412.9 1301.1L1415.9 1304.7L1418.8 1308.6L1421.5 1312.9L1423.9 1317.4L1426 1321.9L1427.7 1326.3L1428.9 1330.4L1429.6 1334L1429.9 1336.4L1429.9 1339.4Z" fill="#f6e909"/>
<path d="M1295.2 1339.4L1295.2 1336.4L1295.3 1334L1295.5 1331.7L1295.9 1329.5L1296.4 1327.3L1297.1 1325.2L1297.9 1323.3L1298.9 1321.6L1299.9 1320L1301.1 1318.6L1302.3 1317.5L1303.6 1316.6L1305 1315.9L1306.4 1315.5L1307.8 1315.4L1309.1 1315.5L1310.4 1316L1311.7 1316.6L1313 1317.6L1314.3 1318.8L1315.5 1320.2L1316.5 1321.8L1317.5 1323.6L1318.4 1325.6L1319.1 1327.7L1319.7 1329.9L1320.1 1332.1L1320.3 1334.3L1320.4 1336.4L1320.4 1339.4Z" fill="#fee403"/>
<path d="M1385.2 1339.4L1385.2 1336.4L1385.3 1334.1L1385.7 1330.7L1386.3 1326.8L1387.1 1322.6L1388.2 1318.3L1389.4 1314L1390.8 1309.9L1392.2 1306.1L1393.7 1302.8L1395.3 1299.9L1396.8 1297.5L1398.2 1295.8L1399.4 1294.8L1400.2 1294.4L1401.7 1294.8L1403.9 1295.8L1406.5 1297.5L1409.3 1299.9L1412.1 1302.8L1414.9 1306.1L1417.6 1309.9L1420.1 1314L1422.3 1318.3L1424.2 1322.6L1425.8 1326.8L1426.9 1330.7L1427.6 1334.1L1427.8 1336.4L1427.8 1339.4Z" fill="#fee403"/>
<path d="M1295.8 1339.4L1295.8 1336.4L1295.9 1334.2L1296.1 1332L1296.5 1329.8L1297 1327.8L1297.6 1325.8L1298.4 1324L1299.3 1322.4L1300.3 1320.9L1301.4 1319.6L1302.5 1318.5L1303.8 1317.7L1305 1317.1L1306.3 1316.7L1307.7 1316.6L1308.9 1316.7L1310.2 1317.1L1311.4 1317.7L1312.7 1318.6L1313.9 1319.7L1315 1321.1L1316.1 1322.6L1317 1324.3L1317.8 1326.2L1318.5 1328.2L1319 1330.2L1319.4 1332.3L1319.7 1334.4L1319.7 1336.4L1319.7 1339.4Z" fill="#fcd20a"/>
<path d="M1386 1339.4L1386 1336.4L1386.1 1334.3L1386.4 1331L1387 1327.3L1387.8 1323.3L1388.8 1319.1L1390 1315L1391.3 1311.1L1392.7 1307.4L1394.2 1304.2L1395.6 1301.4L1397.1 1299.1L1398.4 1297.4L1399.5 1296.4L1400.3 1296.1L1401.7 1296.4L1403.8 1297.4L1406.3 1299.1L1408.9 1301.4L1411.6 1304.2L1414.3 1307.4L1416.9 1311.1L1419.3 1315L1421.4 1319.1L1423.3 1323.3L1424.7 1327.3L1425.8 1331L1426.5 1334.3L1426.7 1336.4L1426.7 1339.4Z" fill="#fcd20a"/>
<path d="M1296.4 1339.4L1296.4 1336.4L1296.5 1334.3L1296.7 1332.2L1297.1 1330.2L1297.5 1328.3L1298.1 1326.4L1298.9 1324.7L1299.7 1323.2L1300.6 1321.8L1301.6 1320.6L1302.7 1319.5L1303.9 1318.7L1305.1 1318.2L1306.3 1317.8L1307.6 1317.7L1308.7 1317.8L1309.9 1318.2L1311.1 1318.8L1312.3 1319.6L1313.5 1320.7L1314.6 1322L1315.6 1323.4L1316.5 1325L1317.2 1326.8L1317.9 1328.6L1318.4 1330.6L1318.8 1332.6L1319 1334.5L1319.1 1336.4L1319.1 1339.4Z" fill="#fcbf11"/>
<path d="M1386.7 1339.4L1386.7 1336.4L1386.8 1334.4L1387.2 1331.3L1387.7 1327.7L1388.5 1323.9L1389.5 1319.9L1390.6 1316L1391.8 1312.2L1393.2 1308.7L1394.6 1305.5L1396 1302.8L1397.3 1300.7L1398.6 1299.1L1399.7 1298.1L1400.4 1297.8L1401.7 1298.1L1403.7 1299.1L1406 1300.7L1408.6 1302.8L1411.2 1305.5L1413.7 1308.7L1416.2 1312.2L1418.5 1316L1420.6 1319.9L1422.3 1323.9L1423.8 1327.7L1424.8 1331.3L1425.4 1334.4L1425.7 1336.4L1425.7 1339.4Z" fill="#fcbf11"/>
<path d="M1297 1339.4L1297 1336.4L1297.1 1334.4L1297.3 1332.5L1297.6 1330.6L1298.1 1328.8L1298.6 1327L1299.3 1325.4L1300.1 1324L1300.9 1322.6L1301.9 1321.5L1302.9 1320.6L1304 1319.8L1305.1 1319.3L1306.3 1318.9L1307.4 1318.8L1308.5 1318.9L1309.7 1319.3L1310.9 1319.8L1312 1320.6L1313.1 1321.6L1314.1 1322.8L1315.1 1324.2L1315.9 1325.7L1316.7 1327.3L1317.3 1329.1L1317.8 1330.9L1318.2 1332.8L1318.4 1334.6L1318.5 1336.4L1318.5 1339.4Z" fill="#faaf16"/>
<path d="M1387.4 1339.4L1387.4 1336.4L1387.6 1334.5L1387.9 1331.6L1388.4 1328.2L1389.2 1324.5L1390.1 1320.7L1391.2 1316.9L1392.3 1313.3L1393.6 1309.9L1395 1306.9L1396.3 1304.3L1397.6 1302.2L1398.8 1300.6L1399.8 1299.7L1400.5 1299.4L1401.7 1299.7L1403.6 1300.6L1405.8 1302.2L1408.2 1304.3L1410.7 1306.9L1413.2 1309.9L1415.5 1313.3L1417.7 1316.9L1419.7 1320.7L1421.4 1324.5L1422.8 1328.2L1423.8 1331.6L1424.4 1334.5L1424.6 1336.4L1424.6 1339.4Z" fill="#faaf16"/>
<path d="M1297.6 1339.4L1297.6 1336.4L1297.7 1334.6L1297.9 1332.7L1298.2 1331L1298.6 1329.2L1299.1 1327.6L1299.7 1326.1L1300.5 1324.7L1301.3 1323.5L1302.2 1322.4L1303.1 1321.5L1304.1 1320.8L1305.2 1320.3L1306.2 1320L1307.3 1319.9L1308.4 1320L1309.5 1320.3L1310.6 1320.9L1311.7 1321.6L1312.7 1322.6L1313.7 1323.7L1314.6 1325L1315.4 1326.4L1316.1 1327.9L1316.7 1329.6L1317.2 1331.3L1317.5 1333L1317.8 1334.8L1317.8 1336.4L1317.8 1339.4Z" fill="#f8a019"/>
<path d="M1388.2 1339.4L1388.2 1336.4L1388.3 1334.6L1388.6 1331.9L1389.1 1328.6L1389.8 1325.1L1390.7 1321.5L1391.7 1317.9L1392.9 1314.4L1394.1 1311.1L1395.3 1308.2L1396.6 1305.7L1397.9 1303.7L1399 1302.2L1400 1301.3L1400.6 1301L1401.7 1301.3L1403.5 1302.2L1405.6 1303.7L1407.9 1305.7L1410.3 1308.2L1412.6 1311.1L1414.9 1314.4L1417 1317.9L1418.9 1321.5L1420.5 1325.1L1421.8 1328.6L1422.8 1331.9L1423.4 1334.6L1423.6 1336.4L1423.6 1339.4Z" fill="#f8a019"/>
<path d="M1298.2 1339.4L1298.2 1336.4L1298.3 1334.7L1298.4 1333L1298.7 1331.3L1299.1 1329.7L1299.6 1328.2L1300.2 1326.8L1300.8 1325.5L1301.6 1324.4L1302.4 1323.4L1303.3 1322.5L1304.2 1321.9L1305.2 1321.4L1306.2 1321.1L1307.2 1321L1308.2 1321.1L1309.3 1321.4L1310.3 1321.9L1311.4 1322.6L1312.3 1323.5L1313.3 1324.5L1314.1 1325.7L1314.9 1327L1315.6 1328.5L1316.2 1330L1316.6 1331.6L1316.9 1333.2L1317.1 1334.9L1317.2 1336.4L1317.2 1339.4Z" fill="#f6911d"/>
<path d="M1388.9 1339.4L1388.9 1336.4L1389 1334.7L1389.3 1332.1L1389.8 1329L1390.5 1325.7L1391.3 1322.2L1392.3 1318.8L1393.4 1315.4L1394.5 1312.3L1395.7 1309.5L1396.9 1307.1L1398.1 1305.2L1399.2 1303.8L1400.1 1302.9L1400.7 1302.6L1401.7 1302.9L1403.4 1303.8L1405.4 1305.2L1407.6 1307.1L1409.8 1309.5L1412.1 1312.3L1414.2 1315.4L1416.3 1318.8L1418.1 1322.2L1419.6 1325.7L1420.9 1329L1421.8 1332.1L1422.4 1334.7L1422.5 1336.4L1422.5 1339.4Z" fill="#f6911d"/>
<path d="M1299 1339.4L1299 1336.4L1299 1334.9L1299.2 1333.4L1299.4 1332L1299.7 1330.6L1300.1 1329.3L1300.6 1328.1L1301.2 1327L1301.8 1326L1302.5 1325.2L1303.2 1324.5L1304 1323.9L1304.8 1323.5L1305.6 1323.2L1306.4 1323.1L1307.3 1323.2L1308.2 1323.5L1309.1 1323.9L1310 1324.5L1310.8 1325.3L1311.6 1326.2L1312.3 1327.2L1313 1328.3L1313.5 1329.6L1314 1330.9L1314.4 1332.3L1314.7 1333.7L1314.8 1335.1L1314.9 1336.4L1314.9 1339.4Z" fill="#f48020"/>
<path d="M1389.6 1339.4L1389.6 1336.4L1389.7 1334.8L1390 1332.4L1390.5 1329.5L1391.1 1326.3L1391.9 1323L1392.8 1319.6L1393.9 1316.5L1395 1313.5L1396.1 1310.8L1397.3 1308.5L1398.4 1306.6L1399.4 1305.3L1400.2 1304.4L1400.8 1304.2L1401.8 1304.4L1403.4 1305.3L1405.2 1306.6L1407.3 1308.5L1409.4 1310.8L1411.6 1313.5L1413.6 1316.5L1415.5 1319.6L1417.3 1323L1418.7 1326.3L1419.9 1329.5L1420.8 1332.4L1421.4 1334.8L1421.5 1336.4L1421.5 1339.4Z" fill="#f48020"/>
<path d="M1299.7 1339.4L1299.7 1336.4L1299.8 1335.2L1299.9 1333.9L1300.1 1332.7L1300.3 1331.6L1300.6 1330.5L1301 1329.5L1301.5 1328.5L1302 1327.7L1302.5 1327L1303.1 1326.4L1303.7 1325.9L1304.4 1325.5L1305 1325.3L1305.7 1325.3L1306.4 1325.3L1307.1 1325.5L1307.8 1325.9L1308.6 1326.4L1309.3 1327L1309.9 1327.8L1310.5 1328.7L1311.1 1329.6L1311.5 1330.7L1311.9 1331.8L1312.2 1332.9L1312.5 1334.1L1312.6 1335.3L1312.6 1336.4L1312.6 1339.4Z" fill="#f36d22"/>
<path d="M1390.3 1339.4L1390.3 1336.4L1390.4 1334.9L1390.7 1332.6L1391.1 1329.8L1391.7 1326.8L1392.5 1323.7L1393.4 1320.5L1394.3 1317.5L1395.4 1314.6L1396.5 1312.1L1397.6 1309.9L1398.6 1308.1L1399.6 1306.8L1400.4 1306L1400.9 1305.7L1401.8 1306L1403.3 1306.8L1405.1 1308.1L1407 1309.9L1409 1312.1L1411 1314.6L1413 1317.5L1414.8 1320.5L1416.5 1323.7L1417.9 1326.8L1419 1329.8L1419.9 1332.6L1420.4 1334.9L1420.5 1336.4L1420.5 1339.4Z" fill="#f36d22"/>
<path d="M1300.5 1339.4L1300.5 1336.4L1300.5 1335.4L1300.6 1334.4L1300.7 1333.4L1300.9 1332.5L1301.1 1331.6L1301.4 1330.8L1301.8 1330L1302.1 1329.3L1302.6 1328.7L1303 1328.2L1303.5 1327.8L1303.9 1327.6L1304.4 1327.4L1304.9 1327.3L1305.5 1327.4L1306.1 1327.6L1306.6 1327.9L1307.2 1328.3L1307.8 1328.8L1308.3 1329.4L1308.7 1330.1L1309.2 1330.9L1309.5 1331.7L1309.8 1332.6L1310.1 1333.6L1310.3 1334.5L1310.4 1335.5L1310.4 1336.4L1310.4 1339.4Z" fill="#f15a24"/>
<path d="M1391 1339.4L1391 1336.4L1391.1 1335L1391.3 1332.9L1391.8 1330.2L1392.3 1327.4L1393.1 1324.4L1393.9 1321.4L1394.8 1318.5L1395.8 1315.7L1396.8 1313.3L1397.9 1311.2L1398.8 1309.5L1399.7 1308.3L1400.5 1307.5L1400.9 1307.2L1401.8 1307.5L1403.2 1308.3L1404.9 1309.5L1406.7 1311.2L1408.6 1313.3L1410.5 1315.7L1412.4 1318.5L1414.1 1321.4L1415.7 1324.4L1417 1327.4L1418.1 1330.2L1418.9 1332.9L1419.4 1335L1419.6 1336.4L1419.6 1339.4Z" fill="#f15a24"/>
<path d="M1301.2 1339.4L1301.2 1336.4L1301.2 1335.6L1301.3 1334.8L1301.4 1334.1L1301.5 1333.4L1301.7 1332.7L1301.9 1332L1302.1 1331.5L1302.3 1330.9L1302.6 1330.5L1302.9 1330.1L1303.2 1329.8L1303.5 1329.6L1303.9 1329.4L1304.2 1329.4L1304.6 1329.4L1305 1329.6L1305.4 1329.8L1305.9 1330.1L1306.3 1330.5L1306.6 1331L1307 1331.5L1307.3 1332.1L1307.6 1332.8L1307.8 1333.5L1308 1334.2L1308.1 1335L1308.2 1335.7L1308.2 1336.4L1308.2 1339.4Z" fill="#f04b24"/>
<path d="M1391.7 1339.4L1391.7 1336.4L1391.7 1335.1L1392 1333.1L1392.4 1330.6L1392.9 1327.9L1393.6 1325L1394.4 1322.2L1395.3 1319.4L1396.2 1316.9L1397.2 1314.5L1398.1 1312.5L1399.1 1310.9L1399.9 1309.7L1400.6 1309L1401 1308.7L1401.8 1309L1403.1 1309.7L1404.7 1310.9L1406.4 1312.5L1408.2 1314.5L1410 1316.9L1411.8 1319.4L1413.4 1322.2L1414.9 1325L1416.2 1327.9L1417.2 1330.6L1418 1333.1L1418.4 1335.1L1418.6 1336.4L1418.6 1339.4Z" fill="#f04b24"/>
<path d="M1303.2 1339.4L1303.2 1336.4L1303.2 1336.2L1303.2 1336L1303.3 1335.7L1303.3 1335.5L1303.4 1335.3L1303.4 1335.2L1303.5 1335L1303.6 1334.8L1303.7 1334.7L1303.8 1334.6L1303.9 1334.5L1304 1334.5L1304.1 1334.4L1304.2 1334.4L1304.3 1334.4L1304.4 1334.5L1304.5 1334.5L1304.6 1334.6L1304.7 1334.7L1304.8 1334.9L1304.9 1335L1305 1335.2L1305 1335.4L1305.1 1335.6L1305.1 1335.8L1305.2 1336L1305.2 1336.2L1305.2 1336.4L1305.2 1339.4Z" fill="#ef3c24"/>
<path d="M1392.3 1339.4L1392.3 1336.4L1392.4 1335.2L1392.6 1333.3L1393 1331L1393.5 1328.4L1394.2 1325.7L1394.9 1323L1395.7 1320.4L1396.6 1317.9L1397.5 1315.7L1398.4 1313.8L1399.3 1312.3L1400.1 1311.2L1400.7 1310.5L1401.1 1310.2L1401.9 1310.5L1403.1 1311.2L1404.5 1312.3L1406.2 1313.8L1407.9 1315.7L1409.6 1317.9L1411.2 1320.4L1412.8 1323L1414.2 1325.7L1415.4 1328.4L1416.3 1331L1417.1 1333.3L1417.5 1335.2L1417.6 1336.4L1417.6 1339.4Z" fill="#ef3c24"/>
<path d="M1393 1339.4L1393 1336.4L1393.1 1335.3L1393.3 1333.5L1393.6 1331.3L1394.1 1328.9L1394.7 1326.4L1395.4 1323.8L1396.2 1321.3L1397 1319L1397.9 1316.9L1398.7 1315.1L1399.5 1313.7L1400.2 1312.6L1400.8 1311.9L1401.2 1311.7L1401.9 1311.9L1403 1312.6L1404.4 1313.7L1405.9 1315.1L1407.5 1316.9L1409.1 1319L1410.6 1321.3L1412.1 1323.8L1413.4 1326.4L1414.6 1328.9L1415.5 1331.3L1416.1 1333.5L1416.6 1335.3L1416.7 1336.4L1416.7 1339.4Z" fill="#ee3024"/>
<path d="M1394.5 1339.4L1394.5 1336.4L1394.5 1335.5L1394.7 1333.9L1395 1332L1395.4 1329.8L1396 1327.6L1396.5 1325.4L1397.2 1323.2L1397.9 1321.2L1398.6 1319.3L1399.3 1317.7L1400 1316.5L1400.6 1315.5L1401.1 1314.9L1401.4 1314.7L1402 1314.9L1403 1315.5L1404.1 1316.5L1405.4 1317.7L1406.7 1319.3L1408.1 1321.2L1409.4 1323.2L1410.6 1325.4L1411.7 1327.6L1412.6 1329.8L1413.4 1332L1414 1333.9L1414.3 1335.5L1414.4 1336.4L1414.4 1339.4Z" fill="#ed2524"/>
<path d="M1396 1339.4L1396 1336.4L1396 1335.6L1396.2 1334.2L1396.4 1332.6L1396.7 1330.7L1397.2 1328.8L1397.7 1326.9L1398.2 1325L1398.8 1323.3L1399.4 1321.7L1399.9 1320.3L1400.5 1319.2L1401 1318.4L1401.4 1317.9L1401.7 1317.8L1402.1 1317.9L1402.9 1318.4L1403.8 1319.2L1404.9 1320.3L1405.9 1321.7L1407 1323.3L1408.1 1325L1409.1 1326.9L1410 1328.8L1410.7 1330.7L1411.3 1332.6L1411.8 1334.2L1412.1 1335.6L1412.2 1336.4L1412.2 1339.4Z" fill="#e92024"/>
<path d="M1397.4 1339.4L1397.4 1336.4L1397.4 1335.7L1397.6 1334.6L1397.8 1333.2L1398 1331.6L1398.4 1330L1398.7 1328.4L1399.2 1326.8L1399.6 1325.4L1400.1 1324L1400.5 1322.9L1401 1322L1401.4 1321.3L1401.7 1320.9L1401.9 1320.7L1402.3 1320.9L1402.8 1321.3L1403.6 1322L1404.3 1322.9L1405.2 1324L1406 1325.4L1406.8 1326.8L1407.6 1328.4L1408.2 1330L1408.8 1331.6L1409.3 1333.2L1409.7 1334.6L1409.9 1335.7L1409.9 1336.4L1409.9 1339.4Z" fill="#e21f26"/>
<path d="M1398.8 1339.4L1398.8 1336.4L1398.9 1335.8L1399 1334.9L1399.1 1333.8L1399.3 1332.5L1399.5 1331.2L1399.8 1329.9L1400.1 1328.6L1400.5 1327.4L1400.8 1326.4L1401.1 1325.4L1401.5 1324.7L1401.8 1324.1L1402 1323.8L1402.1 1323.7L1402.4 1323.8L1402.8 1324.1L1403.3 1324.7L1403.8 1325.4L1404.4 1326.4L1405 1327.4L1405.6 1328.6L1406.1 1329.9L1406.6 1331.2L1407 1332.5L1407.3 1333.8L1407.5 1334.9L1407.7 1335.8L1407.7 1336.4L1407.7 1339.4Z" fill="#d61f26"/>
<path d="M1399.5 1339.4L1399.5 1336.4L1399.5 1335.9L1399.6 1335.1L1399.7 1334.2L1399.9 1333.1L1400.1 1332L1400.3 1330.8L1400.5 1329.8L1400.8 1328.7L1401.1 1327.8L1401.4 1327L1401.6 1326.4L1401.9 1325.9L1402.1 1325.6L1402.2 1325.5L1402.4 1325.6L1402.7 1325.9L1403.1 1326.4L1403.6 1327L1404 1327.8L1404.5 1328.7L1405 1329.8L1405.4 1330.8L1405.8 1332L1406.1 1333.1L1406.4 1334.2L1406.6 1335.1L1406.7 1335.9L1406.7 1336.4L1406.7 1339.4Z" fill="#c52026"/>
<path d="M1399.8 1339.4L1399.8 1336.4L1399.9 1336L1399.9 1335.3L1400 1334.5L1400.2 1333.5L1400.3 1332.6L1400.5 1331.6L1400.8 1330.6L1401 1329.7L1401.2 1328.9L1401.5 1328.3L1401.7 1327.7L1401.9 1327.3L1402.1 1327L1402.2 1326.9L1402.4 1327L1402.7 1327.3L1403 1327.7L1403.4 1328.3L1403.8 1328.9L1404.2 1329.7L1404.6 1330.6L1405 1331.6L1405.3 1332.6L1405.6 1333.5L1405.8 1334.5L1406 1335.3L1406.1 1336L1406.1 1336.4L1406.1 1339.4Z" fill="#ae1e24"/>
<path d="M1400.2 1339.4L1400.2 1336.4L1400.2 1336L1400.3 1335.5L1400.4 1334.8L1400.5 1334L1400.6 1333.1L1400.8 1332.3L1401 1331.5L1401.2 1330.8L1401.4 1330.1L1401.6 1329.5L1401.8 1329L1402 1328.7L1402.1 1328.5L1402.2 1328.4L1402.3 1328.5L1402.6 1328.7L1402.9 1329L1403.2 1329.5L1403.6 1330.1L1403.9 1330.8L1404.2 1331.5L1404.6 1332.3L1404.8 1333.1L1405.1 1334L1405.3 1334.8L1405.4 1335.5L1405.5 1336L1405.5 1336.4L1405.5 1339.4Z" fill="#9d1c20"/>
<path d="M1400.6 1339.4L1400.6 1336.4L1400.6 1336.1L1400.6 1335.6L1400.7 1335L1400.8 1334.4L1400.9 1333.7L1401 1333L1401.2 1332.4L1401.4 1331.8L1401.5 1331.2L1401.7 1330.7L1401.9 1330.3L1402 1330L1402.1 1329.9L1402.2 1329.8L1402.3 1329.9L1402.5 1330L1402.8 1330.3L1403 1330.7L1403.3 1331.2L1403.6 1331.8L1403.9 1332.4L1404.1 1333L1404.4 1333.7L1404.6 1334.4L1404.7 1335L1404.9 1335.6L1404.9 1336.1L1405 1336.4L1405 1339.4Z" fill="#961a1e"/>
<path d="M1086.2 1336.4L1092.2 1336.4A6 6 0 0 0 1089.2 1331.2Z" fill="#fff"/>
</g>
<path d="M1086.2 1336.4L1293.5 977.3A414.6 414.6 0 0 1 1500.8 1336.4" fill="none" stroke="#0a0a0a" stroke-width="1" stroke-linejoin="miter"/>
<path d="M1086.2 1336.4L1500.8 1336.4" stroke="#3a3a3a" stroke-width="1.5"/>
<path d="M1452.2 1336.1L1499.8 1336.1" stroke="#a9a9cc" stroke-width="0.9"/>
<circle cx="1155" cy="1335.8" r="1.4" fill="#0a0a0a"/>
<circle cx="1120.6" cy="1276.9" r="2" fill="#0a0a0a"/>
<circle cx="1292.5" cy="1335.8" r="1.4" fill="#0a0a0a"/>
<circle cx="1189.3" cy="1157.8" r="2" fill="#0a0a0a"/>
<circle cx="1430" cy="1335.8" r="1.4" fill="#0a0a0a"/>
<circle cx="1258.1" cy="1038.7" r="2" fill="#0a0a0a"/>
<circle cx="1475.8" cy="1194.6" r="2" fill="#0a0a0a"/>
<circle cx="1403.8" cy="1069.9" r="2" fill="#0a0a0a"/>
<circle cx="1293.5" cy="977.3" r="2" fill="#0a0a0a"/>
<text x="1156.2" y="1356.5" class="t" text-anchor="middle">0.1</text>
<text x="1117.4" y="1274.3" class="t" text-anchor="end">0.1</text>
<text x="1293.7" y="1356.5" class="t" text-anchor="middle">0.3</text>
<text x="1187.7" y="1155.8" class="t" text-anchor="end">0.3</text>
<text x="1431.2" y="1356.5" class="t" text-anchor="middle">0.5</text>
<text x="1255.9" y="1037.1" class="t" text-anchor="end">0.5</text>
<text x="1508.9" y="1337.2" class="t">0</text>
<text x="1483.8" y="1192.6" class="t">20</text>
<text x="1409.9" y="1065.5" class="t">40</text>
<text x="1297.7" y="971" class="t">60</text>
<text x="1314.4" y="1380.9" class="m">β</text>
<text x="1168.2" y="1135.2" class="m">β</text>
<text transform="translate(1441.4 1124.6) scale(1.17 1)" class="m">γ</text>
<text x="1278.2" y="1096.4" class="s w">0</text>
<text x="1300.2" y="1107.2" class="ss w">3</text>
<text x="1306.2" y="1084.8" class="sp w">+</text>
<text transform="translate(1223.2 1147.1) scale(1.07 1)" class="e w">E=1.40 MeV</text>
</g>
</svg></body></html>
